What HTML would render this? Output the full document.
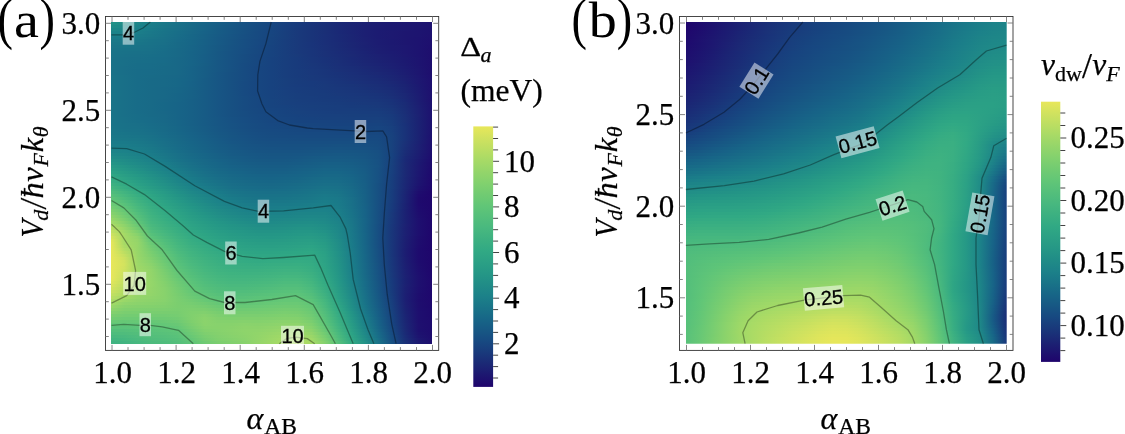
<!DOCTYPE html>
<html lang="en"><head><meta charset="utf-8"><title>Figure</title>
<style>html,body{margin:0;padding:0;background:#fff}body{width:1125px;height:434px;overflow:hidden}svg{display:block}text{stroke:#000;stroke-width:.25px}.cl text{stroke-width:.3px}.pl{stroke:none}</style></head><body>
<svg width="1125" height="434" viewBox="0 0 1125 434" font-family="'Liberation Serif','Times New Roman',serif" fill="#000">
<rect width="1125" height="434" fill="#fff"/>
<!-- panel a heat map -->
<g>
<defs><linearGradient id="a0"><stop offset="0" stop-color="#229287"/><stop offset="0.0417" stop-color="#208b87"/><stop offset="0.0833" stop-color="#1d8588"/><stop offset="0.125" stop-color="#1b7e89"/><stop offset="0.167" stop-color="#1a7788"/><stop offset="0.208" stop-color="#197188"/><stop offset="0.25" stop-color="#186a87"/><stop offset="0.292" stop-color="#176487"/><stop offset="0.333" stop-color="#175e86"/><stop offset="0.375" stop-color="#175884"/><stop offset="0.417" stop-color="#175183"/><stop offset="0.458" stop-color="#174c81"/><stop offset="0.5" stop-color="#174680"/><stop offset="0.542" stop-color="#18407e"/><stop offset="0.583" stop-color="#183a7c"/><stop offset="0.625" stop-color="#19347a"/><stop offset="0.667" stop-color="#1a2f78"/><stop offset="0.708" stop-color="#1a2976"/><stop offset="0.75" stop-color="#1b2474"/><stop offset="0.792" stop-color="#1c2073"/><stop offset="0.833" stop-color="#1c1c72"/><stop offset="0.875" stop-color="#1c1971"/><stop offset="0.917" stop-color="#1d1771"/><stop offset="0.958" stop-color="#1d1570"/><stop offset="1" stop-color="#1d126f"/></linearGradient><linearGradient id="a1"><stop offset="0" stop-color="#208d87"/><stop offset="0.0417" stop-color="#1e8888"/><stop offset="0.0833" stop-color="#1c8289"/><stop offset="0.125" stop-color="#1b7c89"/><stop offset="0.167" stop-color="#1a7688"/><stop offset="0.208" stop-color="#197088"/><stop offset="0.25" stop-color="#186a87"/><stop offset="0.292" stop-color="#176387"/><stop offset="0.333" stop-color="#175d85"/><stop offset="0.375" stop-color="#175784"/><stop offset="0.417" stop-color="#175183"/><stop offset="0.458" stop-color="#174b81"/><stop offset="0.5" stop-color="#174680"/><stop offset="0.542" stop-color="#183f7e"/><stop offset="0.583" stop-color="#183a7c"/><stop offset="0.625" stop-color="#193479"/><stop offset="0.667" stop-color="#1a2f77"/><stop offset="0.708" stop-color="#1a2976"/><stop offset="0.75" stop-color="#1b2474"/><stop offset="0.792" stop-color="#1c1f73"/><stop offset="0.833" stop-color="#1c1c72"/><stop offset="0.875" stop-color="#1c1971"/><stop offset="0.917" stop-color="#1d1771"/><stop offset="0.958" stop-color="#1d1570"/><stop offset="1" stop-color="#1d126f"/></linearGradient><linearGradient id="a2"><stop offset="0" stop-color="#1e8788"/><stop offset="0.0417" stop-color="#1d8588"/><stop offset="0.0833" stop-color="#1b8089"/><stop offset="0.125" stop-color="#1a7a89"/><stop offset="0.167" stop-color="#197488"/><stop offset="0.208" stop-color="#196f88"/><stop offset="0.25" stop-color="#186987"/><stop offset="0.292" stop-color="#176387"/><stop offset="0.333" stop-color="#175c85"/><stop offset="0.375" stop-color="#175684"/><stop offset="0.417" stop-color="#175082"/><stop offset="0.458" stop-color="#174b81"/><stop offset="0.5" stop-color="#174580"/><stop offset="0.542" stop-color="#183f7e"/><stop offset="0.583" stop-color="#19397b"/><stop offset="0.625" stop-color="#193479"/><stop offset="0.667" stop-color="#1a2f77"/><stop offset="0.708" stop-color="#1a2976"/><stop offset="0.75" stop-color="#1b2474"/><stop offset="0.792" stop-color="#1c1f73"/><stop offset="0.833" stop-color="#1c1b72"/><stop offset="0.875" stop-color="#1c1971"/><stop offset="0.917" stop-color="#1d1771"/><stop offset="0.958" stop-color="#1d1470"/><stop offset="1" stop-color="#1d116f"/></linearGradient><linearGradient id="a3"><stop offset="0" stop-color="#1c8389"/><stop offset="0.0417" stop-color="#1c8189"/><stop offset="0.0833" stop-color="#1b7e89"/><stop offset="0.125" stop-color="#1a7889"/><stop offset="0.167" stop-color="#197388"/><stop offset="0.208" stop-color="#186e88"/><stop offset="0.25" stop-color="#186887"/><stop offset="0.292" stop-color="#176287"/><stop offset="0.333" stop-color="#175c85"/><stop offset="0.375" stop-color="#175684"/><stop offset="0.417" stop-color="#175082"/><stop offset="0.458" stop-color="#174a81"/><stop offset="0.5" stop-color="#174580"/><stop offset="0.542" stop-color="#183f7d"/><stop offset="0.583" stop-color="#19397b"/><stop offset="0.625" stop-color="#193479"/><stop offset="0.667" stop-color="#1a2f77"/><stop offset="0.708" stop-color="#1a2976"/><stop offset="0.75" stop-color="#1b2474"/><stop offset="0.792" stop-color="#1c1f73"/><stop offset="0.833" stop-color="#1c1b72"/><stop offset="0.875" stop-color="#1d1971"/><stop offset="0.917" stop-color="#1d1670"/><stop offset="0.958" stop-color="#1d1470"/><stop offset="1" stop-color="#1d116f"/></linearGradient><linearGradient id="a4"><stop offset="0" stop-color="#1b7e89"/><stop offset="0.0417" stop-color="#1b7e89"/><stop offset="0.0833" stop-color="#1a7b89"/><stop offset="0.125" stop-color="#1a7788"/><stop offset="0.167" stop-color="#197288"/><stop offset="0.208" stop-color="#186d88"/><stop offset="0.25" stop-color="#176787"/><stop offset="0.292" stop-color="#176186"/><stop offset="0.333" stop-color="#175b85"/><stop offset="0.375" stop-color="#175584"/><stop offset="0.417" stop-color="#174f82"/><stop offset="0.458" stop-color="#174a81"/><stop offset="0.5" stop-color="#17457f"/><stop offset="0.542" stop-color="#183f7d"/><stop offset="0.583" stop-color="#19397b"/><stop offset="0.625" stop-color="#193479"/><stop offset="0.667" stop-color="#1a2f78"/><stop offset="0.708" stop-color="#1a2a76"/><stop offset="0.75" stop-color="#1b2574"/><stop offset="0.792" stop-color="#1c1f73"/><stop offset="0.833" stop-color="#1c1b72"/><stop offset="0.875" stop-color="#1d1971"/><stop offset="0.917" stop-color="#1d1670"/><stop offset="0.958" stop-color="#1d1470"/><stop offset="1" stop-color="#1e106f"/></linearGradient><linearGradient id="a5"><stop offset="0" stop-color="#1a7b89"/><stop offset="0.0417" stop-color="#1a7b89"/><stop offset="0.0833" stop-color="#1a7989"/><stop offset="0.125" stop-color="#1a7588"/><stop offset="0.167" stop-color="#197188"/><stop offset="0.208" stop-color="#186c88"/><stop offset="0.25" stop-color="#176787"/><stop offset="0.292" stop-color="#176186"/><stop offset="0.333" stop-color="#175a85"/><stop offset="0.375" stop-color="#175583"/><stop offset="0.417" stop-color="#174f82"/><stop offset="0.458" stop-color="#174a81"/><stop offset="0.5" stop-color="#17447f"/><stop offset="0.542" stop-color="#183f7d"/><stop offset="0.583" stop-color="#19397b"/><stop offset="0.625" stop-color="#193479"/><stop offset="0.667" stop-color="#1a2f78"/><stop offset="0.708" stop-color="#1a2a76"/><stop offset="0.75" stop-color="#1b2574"/><stop offset="0.792" stop-color="#1c2073"/><stop offset="0.833" stop-color="#1c1b72"/><stop offset="0.875" stop-color="#1d1971"/><stop offset="0.917" stop-color="#1d1670"/><stop offset="0.958" stop-color="#1d1370"/><stop offset="1" stop-color="#1e106f"/></linearGradient><linearGradient id="a6"><stop offset="0" stop-color="#1a7989"/><stop offset="0.0417" stop-color="#1a7888"/><stop offset="0.0833" stop-color="#1a7788"/><stop offset="0.125" stop-color="#197388"/><stop offset="0.167" stop-color="#197088"/><stop offset="0.208" stop-color="#186b88"/><stop offset="0.25" stop-color="#176687"/><stop offset="0.292" stop-color="#176086"/><stop offset="0.333" stop-color="#175a85"/><stop offset="0.375" stop-color="#175483"/><stop offset="0.417" stop-color="#174e82"/><stop offset="0.458" stop-color="#174981"/><stop offset="0.5" stop-color="#17447f"/><stop offset="0.542" stop-color="#183e7d"/><stop offset="0.583" stop-color="#19397b"/><stop offset="0.625" stop-color="#193479"/><stop offset="0.667" stop-color="#1a2f78"/><stop offset="0.708" stop-color="#1a2a76"/><stop offset="0.75" stop-color="#1b2574"/><stop offset="0.792" stop-color="#1c2073"/><stop offset="0.833" stop-color="#1c1c72"/><stop offset="0.875" stop-color="#1c1971"/><stop offset="0.917" stop-color="#1d1670"/><stop offset="0.958" stop-color="#1d1370"/><stop offset="1" stop-color="#1e0f6f"/></linearGradient><linearGradient id="a7"><stop offset="0" stop-color="#1a7788"/><stop offset="0.0417" stop-color="#1a7688"/><stop offset="0.0833" stop-color="#197588"/><stop offset="0.125" stop-color="#197288"/><stop offset="0.167" stop-color="#196f88"/><stop offset="0.208" stop-color="#186a87"/><stop offset="0.25" stop-color="#176687"/><stop offset="0.292" stop-color="#176086"/><stop offset="0.333" stop-color="#175a85"/><stop offset="0.375" stop-color="#175483"/><stop offset="0.417" stop-color="#174e82"/><stop offset="0.458" stop-color="#174981"/><stop offset="0.5" stop-color="#17447f"/><stop offset="0.542" stop-color="#183e7d"/><stop offset="0.583" stop-color="#19397b"/><stop offset="0.625" stop-color="#19347a"/><stop offset="0.667" stop-color="#1a2f78"/><stop offset="0.708" stop-color="#1a2b76"/><stop offset="0.75" stop-color="#1b2674"/><stop offset="0.792" stop-color="#1c2173"/><stop offset="0.833" stop-color="#1c1c72"/><stop offset="0.875" stop-color="#1c1971"/><stop offset="0.917" stop-color="#1d1670"/><stop offset="0.958" stop-color="#1d1370"/><stop offset="1" stop-color="#1e0f6f"/></linearGradient><linearGradient id="a8"><stop offset="0" stop-color="#1a7588"/><stop offset="0.0417" stop-color="#197488"/><stop offset="0.0833" stop-color="#197388"/><stop offset="0.125" stop-color="#197188"/><stop offset="0.167" stop-color="#186e88"/><stop offset="0.208" stop-color="#186a87"/><stop offset="0.25" stop-color="#176587"/><stop offset="0.292" stop-color="#175f86"/><stop offset="0.333" stop-color="#175984"/><stop offset="0.375" stop-color="#175383"/><stop offset="0.417" stop-color="#174e82"/><stop offset="0.458" stop-color="#174881"/><stop offset="0.5" stop-color="#17437f"/><stop offset="0.542" stop-color="#183e7d"/><stop offset="0.583" stop-color="#19397b"/><stop offset="0.625" stop-color="#19347a"/><stop offset="0.667" stop-color="#1a3078"/><stop offset="0.708" stop-color="#1a2b76"/><stop offset="0.75" stop-color="#1b2674"/><stop offset="0.792" stop-color="#1b2173"/><stop offset="0.833" stop-color="#1c1d72"/><stop offset="0.875" stop-color="#1c1a71"/><stop offset="0.917" stop-color="#1d1771"/><stop offset="0.958" stop-color="#1d1370"/><stop offset="1" stop-color="#1e0e6f"/></linearGradient><linearGradient id="a9"><stop offset="0" stop-color="#197488"/><stop offset="0.0417" stop-color="#197288"/><stop offset="0.0833" stop-color="#197288"/><stop offset="0.125" stop-color="#197088"/><stop offset="0.167" stop-color="#186d88"/><stop offset="0.208" stop-color="#186987"/><stop offset="0.25" stop-color="#176587"/><stop offset="0.292" stop-color="#175f86"/><stop offset="0.333" stop-color="#175984"/><stop offset="0.375" stop-color="#175383"/><stop offset="0.417" stop-color="#174d82"/><stop offset="0.458" stop-color="#174880"/><stop offset="0.5" stop-color="#17437f"/><stop offset="0.542" stop-color="#183e7d"/><stop offset="0.583" stop-color="#19397b"/><stop offset="0.625" stop-color="#19357a"/><stop offset="0.667" stop-color="#1a3078"/><stop offset="0.708" stop-color="#1a2c76"/><stop offset="0.75" stop-color="#1b2775"/><stop offset="0.792" stop-color="#1b2273"/><stop offset="0.833" stop-color="#1c1e72"/><stop offset="0.875" stop-color="#1c1a71"/><stop offset="0.917" stop-color="#1d1771"/><stop offset="0.958" stop-color="#1d1370"/><stop offset="1" stop-color="#1e0e6e"/></linearGradient><linearGradient id="a10"><stop offset="0" stop-color="#197388"/><stop offset="0.0417" stop-color="#197188"/><stop offset="0.0833" stop-color="#197088"/><stop offset="0.125" stop-color="#196f88"/><stop offset="0.167" stop-color="#186c88"/><stop offset="0.208" stop-color="#186987"/><stop offset="0.25" stop-color="#176487"/><stop offset="0.292" stop-color="#175f86"/><stop offset="0.333" stop-color="#175884"/><stop offset="0.375" stop-color="#175283"/><stop offset="0.417" stop-color="#174d82"/><stop offset="0.458" stop-color="#174880"/><stop offset="0.5" stop-color="#17437f"/><stop offset="0.542" stop-color="#183e7d"/><stop offset="0.583" stop-color="#19397b"/><stop offset="0.625" stop-color="#19357a"/><stop offset="0.667" stop-color="#1a3178"/><stop offset="0.708" stop-color="#1a2c77"/><stop offset="0.75" stop-color="#1b2875"/><stop offset="0.792" stop-color="#1b2374"/><stop offset="0.833" stop-color="#1c1e72"/><stop offset="0.875" stop-color="#1c1b72"/><stop offset="0.917" stop-color="#1d1771"/><stop offset="0.958" stop-color="#1d1370"/><stop offset="1" stop-color="#1e0e6e"/></linearGradient><linearGradient id="a11"><stop offset="0" stop-color="#197388"/><stop offset="0.0417" stop-color="#197088"/><stop offset="0.0833" stop-color="#196f88"/><stop offset="0.125" stop-color="#186e88"/><stop offset="0.167" stop-color="#186c88"/><stop offset="0.208" stop-color="#186987"/><stop offset="0.25" stop-color="#176487"/><stop offset="0.292" stop-color="#175e86"/><stop offset="0.333" stop-color="#175884"/><stop offset="0.375" stop-color="#175283"/><stop offset="0.417" stop-color="#174c81"/><stop offset="0.458" stop-color="#174780"/><stop offset="0.5" stop-color="#17437f"/><stop offset="0.542" stop-color="#183e7d"/><stop offset="0.583" stop-color="#193a7b"/><stop offset="0.625" stop-color="#19357a"/><stop offset="0.667" stop-color="#1a3178"/><stop offset="0.708" stop-color="#1a2d77"/><stop offset="0.75" stop-color="#1b2975"/><stop offset="0.792" stop-color="#1b2474"/><stop offset="0.833" stop-color="#1c2073"/><stop offset="0.875" stop-color="#1c1c72"/><stop offset="0.917" stop-color="#1d1871"/><stop offset="0.958" stop-color="#1d1370"/><stop offset="1" stop-color="#1e0e6e"/></linearGradient><linearGradient id="a12"><stop offset="0" stop-color="#197288"/><stop offset="0.0417" stop-color="#196f88"/><stop offset="0.0833" stop-color="#196e88"/><stop offset="0.125" stop-color="#186d88"/><stop offset="0.167" stop-color="#186b88"/><stop offset="0.208" stop-color="#186887"/><stop offset="0.25" stop-color="#176487"/><stop offset="0.292" stop-color="#175e86"/><stop offset="0.333" stop-color="#175884"/><stop offset="0.375" stop-color="#175283"/><stop offset="0.417" stop-color="#174c81"/><stop offset="0.458" stop-color="#174780"/><stop offset="0.5" stop-color="#17427f"/><stop offset="0.542" stop-color="#183e7d"/><stop offset="0.583" stop-color="#183a7c"/><stop offset="0.625" stop-color="#19367a"/><stop offset="0.667" stop-color="#193279"/><stop offset="0.708" stop-color="#1a2e77"/><stop offset="0.75" stop-color="#1a2976"/><stop offset="0.792" stop-color="#1b2574"/><stop offset="0.833" stop-color="#1c2173"/><stop offset="0.875" stop-color="#1c1d72"/><stop offset="0.917" stop-color="#1c1971"/><stop offset="0.958" stop-color="#1d1470"/><stop offset="1" stop-color="#1e0e6e"/></linearGradient><linearGradient id="a13"><stop offset="0" stop-color="#197288"/><stop offset="0.0417" stop-color="#196f88"/><stop offset="0.0833" stop-color="#186e88"/><stop offset="0.125" stop-color="#186d88"/><stop offset="0.167" stop-color="#186b88"/><stop offset="0.208" stop-color="#186887"/><stop offset="0.25" stop-color="#176487"/><stop offset="0.292" stop-color="#175e86"/><stop offset="0.333" stop-color="#175784"/><stop offset="0.375" stop-color="#175183"/><stop offset="0.417" stop-color="#174c81"/><stop offset="0.458" stop-color="#174780"/><stop offset="0.5" stop-color="#17427f"/><stop offset="0.542" stop-color="#183e7d"/><stop offset="0.583" stop-color="#183a7c"/><stop offset="0.625" stop-color="#19367a"/><stop offset="0.667" stop-color="#193279"/><stop offset="0.708" stop-color="#1a2f77"/><stop offset="0.75" stop-color="#1a2a76"/><stop offset="0.792" stop-color="#1b2674"/><stop offset="0.833" stop-color="#1b2273"/><stop offset="0.875" stop-color="#1c1e72"/><stop offset="0.917" stop-color="#1c1971"/><stop offset="0.958" stop-color="#1d1470"/><stop offset="1" stop-color="#1e0e6e"/></linearGradient><linearGradient id="a14"><stop offset="0" stop-color="#197288"/><stop offset="0.0417" stop-color="#196f88"/><stop offset="0.0833" stop-color="#186d88"/><stop offset="0.125" stop-color="#186c88"/><stop offset="0.167" stop-color="#186b87"/><stop offset="0.208" stop-color="#186887"/><stop offset="0.25" stop-color="#176487"/><stop offset="0.292" stop-color="#175e85"/><stop offset="0.333" stop-color="#175784"/><stop offset="0.375" stop-color="#175183"/><stop offset="0.417" stop-color="#174b81"/><stop offset="0.458" stop-color="#174780"/><stop offset="0.5" stop-color="#17427f"/><stop offset="0.542" stop-color="#183e7d"/><stop offset="0.583" stop-color="#183a7c"/><stop offset="0.625" stop-color="#19377a"/><stop offset="0.667" stop-color="#193379"/><stop offset="0.708" stop-color="#1a2f78"/><stop offset="0.75" stop-color="#1a2b76"/><stop offset="0.792" stop-color="#1b2775"/><stop offset="0.833" stop-color="#1b2374"/><stop offset="0.875" stop-color="#1c1f73"/><stop offset="0.917" stop-color="#1c1a71"/><stop offset="0.958" stop-color="#1d1470"/><stop offset="1" stop-color="#1e0e6e"/></linearGradient><linearGradient id="a15"><stop offset="0" stop-color="#197288"/><stop offset="0.0417" stop-color="#196e88"/><stop offset="0.0833" stop-color="#186d88"/><stop offset="0.125" stop-color="#186c88"/><stop offset="0.167" stop-color="#186a87"/><stop offset="0.208" stop-color="#186887"/><stop offset="0.25" stop-color="#176387"/><stop offset="0.292" stop-color="#175d85"/><stop offset="0.333" stop-color="#175784"/><stop offset="0.375" stop-color="#175183"/><stop offset="0.417" stop-color="#174b81"/><stop offset="0.458" stop-color="#174680"/><stop offset="0.5" stop-color="#17427f"/><stop offset="0.542" stop-color="#183e7d"/><stop offset="0.583" stop-color="#183a7c"/><stop offset="0.625" stop-color="#19377b"/><stop offset="0.667" stop-color="#193479"/><stop offset="0.708" stop-color="#1a3078"/><stop offset="0.75" stop-color="#1a2d77"/><stop offset="0.792" stop-color="#1b2975"/><stop offset="0.833" stop-color="#1b2574"/><stop offset="0.875" stop-color="#1c2073"/><stop offset="0.917" stop-color="#1c1b72"/><stop offset="0.958" stop-color="#1d1570"/><stop offset="1" stop-color="#1e0e6e"/></linearGradient><linearGradient id="a16"><stop offset="0" stop-color="#197288"/><stop offset="0.0417" stop-color="#196e88"/><stop offset="0.0833" stop-color="#186c88"/><stop offset="0.125" stop-color="#186b88"/><stop offset="0.167" stop-color="#186a87"/><stop offset="0.208" stop-color="#186887"/><stop offset="0.25" stop-color="#176387"/><stop offset="0.292" stop-color="#175d85"/><stop offset="0.333" stop-color="#175784"/><stop offset="0.375" stop-color="#175182"/><stop offset="0.417" stop-color="#174b81"/><stop offset="0.458" stop-color="#174680"/><stop offset="0.5" stop-color="#17427f"/><stop offset="0.542" stop-color="#183e7d"/><stop offset="0.583" stop-color="#183b7c"/><stop offset="0.625" stop-color="#19387b"/><stop offset="0.667" stop-color="#19357a"/><stop offset="0.708" stop-color="#1a3178"/><stop offset="0.75" stop-color="#1a2e77"/><stop offset="0.792" stop-color="#1a2a76"/><stop offset="0.833" stop-color="#1b2674"/><stop offset="0.875" stop-color="#1b2273"/><stop offset="0.917" stop-color="#1c1c72"/><stop offset="0.958" stop-color="#1d1670"/><stop offset="1" stop-color="#1e0e6e"/></linearGradient><linearGradient id="a17"><stop offset="0" stop-color="#197288"/><stop offset="0.0417" stop-color="#196e88"/><stop offset="0.0833" stop-color="#186c88"/><stop offset="0.125" stop-color="#186b88"/><stop offset="0.167" stop-color="#186a87"/><stop offset="0.208" stop-color="#186887"/><stop offset="0.25" stop-color="#176387"/><stop offset="0.292" stop-color="#175d85"/><stop offset="0.333" stop-color="#175684"/><stop offset="0.375" stop-color="#175082"/><stop offset="0.417" stop-color="#174b81"/><stop offset="0.458" stop-color="#174680"/><stop offset="0.5" stop-color="#17427f"/><stop offset="0.542" stop-color="#183e7d"/><stop offset="0.583" stop-color="#183b7c"/><stop offset="0.625" stop-color="#19387b"/><stop offset="0.667" stop-color="#19357a"/><stop offset="0.708" stop-color="#193279"/><stop offset="0.75" stop-color="#1a2f78"/><stop offset="0.792" stop-color="#1a2b76"/><stop offset="0.833" stop-color="#1b2875"/><stop offset="0.875" stop-color="#1b2374"/><stop offset="0.917" stop-color="#1c1d72"/><stop offset="0.958" stop-color="#1d1670"/><stop offset="1" stop-color="#1e0e6e"/></linearGradient><linearGradient id="a18"><stop offset="0" stop-color="#197388"/><stop offset="0.0417" stop-color="#196f88"/><stop offset="0.0833" stop-color="#186c88"/><stop offset="0.125" stop-color="#186b87"/><stop offset="0.167" stop-color="#186987"/><stop offset="0.208" stop-color="#186787"/><stop offset="0.25" stop-color="#176387"/><stop offset="0.292" stop-color="#175d85"/><stop offset="0.333" stop-color="#175684"/><stop offset="0.375" stop-color="#175082"/><stop offset="0.417" stop-color="#174b81"/><stop offset="0.458" stop-color="#174680"/><stop offset="0.5" stop-color="#17427f"/><stop offset="0.542" stop-color="#183e7d"/><stop offset="0.583" stop-color="#183b7c"/><stop offset="0.625" stop-color="#19397b"/><stop offset="0.667" stop-color="#19367a"/><stop offset="0.708" stop-color="#193379"/><stop offset="0.75" stop-color="#1a3078"/><stop offset="0.792" stop-color="#1a2d77"/><stop offset="0.833" stop-color="#1a2976"/><stop offset="0.875" stop-color="#1b2574"/><stop offset="0.917" stop-color="#1c1f72"/><stop offset="0.958" stop-color="#1d1771"/><stop offset="1" stop-color="#1e0e6f"/></linearGradient><linearGradient id="a19"><stop offset="0" stop-color="#197388"/><stop offset="0.0417" stop-color="#196f88"/><stop offset="0.0833" stop-color="#186c88"/><stop offset="0.125" stop-color="#186a87"/><stop offset="0.167" stop-color="#186987"/><stop offset="0.208" stop-color="#176787"/><stop offset="0.25" stop-color="#176387"/><stop offset="0.292" stop-color="#175c85"/><stop offset="0.333" stop-color="#175684"/><stop offset="0.375" stop-color="#175082"/><stop offset="0.417" stop-color="#174b81"/><stop offset="0.458" stop-color="#174680"/><stop offset="0.5" stop-color="#17427f"/><stop offset="0.542" stop-color="#183f7d"/><stop offset="0.583" stop-color="#183c7c"/><stop offset="0.625" stop-color="#19397b"/><stop offset="0.667" stop-color="#19377b"/><stop offset="0.708" stop-color="#19347a"/><stop offset="0.75" stop-color="#1a3178"/><stop offset="0.792" stop-color="#1a2e77"/><stop offset="0.833" stop-color="#1a2b76"/><stop offset="0.875" stop-color="#1b2674"/><stop offset="0.917" stop-color="#1c2073"/><stop offset="0.958" stop-color="#1d1871"/><stop offset="1" stop-color="#1e0f6f"/></linearGradient><linearGradient id="a20"><stop offset="0" stop-color="#197388"/><stop offset="0.0417" stop-color="#196f88"/><stop offset="0.0833" stop-color="#186c88"/><stop offset="0.125" stop-color="#186a87"/><stop offset="0.167" stop-color="#186987"/><stop offset="0.208" stop-color="#176787"/><stop offset="0.25" stop-color="#176287"/><stop offset="0.292" stop-color="#175c85"/><stop offset="0.333" stop-color="#175684"/><stop offset="0.375" stop-color="#175082"/><stop offset="0.417" stop-color="#174a81"/><stop offset="0.458" stop-color="#174680"/><stop offset="0.5" stop-color="#17427f"/><stop offset="0.542" stop-color="#183f7d"/><stop offset="0.583" stop-color="#183c7c"/><stop offset="0.625" stop-color="#183a7c"/><stop offset="0.667" stop-color="#19387b"/><stop offset="0.708" stop-color="#19357a"/><stop offset="0.75" stop-color="#193279"/><stop offset="0.792" stop-color="#1a2f78"/><stop offset="0.833" stop-color="#1a2c77"/><stop offset="0.875" stop-color="#1b2875"/><stop offset="0.917" stop-color="#1b2173"/><stop offset="0.958" stop-color="#1d1871"/><stop offset="1" stop-color="#1e0f6f"/></linearGradient><linearGradient id="a21"><stop offset="0" stop-color="#197488"/><stop offset="0.0417" stop-color="#196f88"/><stop offset="0.0833" stop-color="#186c88"/><stop offset="0.125" stop-color="#186a87"/><stop offset="0.167" stop-color="#186987"/><stop offset="0.208" stop-color="#176787"/><stop offset="0.25" stop-color="#176287"/><stop offset="0.292" stop-color="#175c85"/><stop offset="0.333" stop-color="#175684"/><stop offset="0.375" stop-color="#175082"/><stop offset="0.417" stop-color="#174a81"/><stop offset="0.458" stop-color="#174680"/><stop offset="0.5" stop-color="#17427f"/><stop offset="0.542" stop-color="#183f7d"/><stop offset="0.583" stop-color="#183c7d"/><stop offset="0.625" stop-color="#183a7c"/><stop offset="0.667" stop-color="#19397b"/><stop offset="0.708" stop-color="#19367a"/><stop offset="0.75" stop-color="#193479"/><stop offset="0.792" stop-color="#1a3178"/><stop offset="0.833" stop-color="#1a2e77"/><stop offset="0.875" stop-color="#1a2976"/><stop offset="0.917" stop-color="#1b2373"/><stop offset="0.958" stop-color="#1c1971"/><stop offset="1" stop-color="#1e0f6f"/></linearGradient><linearGradient id="a22"><stop offset="0" stop-color="#197488"/><stop offset="0.0417" stop-color="#196f88"/><stop offset="0.0833" stop-color="#186c88"/><stop offset="0.125" stop-color="#186a87"/><stop offset="0.167" stop-color="#186887"/><stop offset="0.208" stop-color="#176687"/><stop offset="0.25" stop-color="#176286"/><stop offset="0.292" stop-color="#175c85"/><stop offset="0.333" stop-color="#175684"/><stop offset="0.375" stop-color="#175082"/><stop offset="0.417" stop-color="#174a81"/><stop offset="0.458" stop-color="#174680"/><stop offset="0.5" stop-color="#17427f"/><stop offset="0.542" stop-color="#183f7e"/><stop offset="0.583" stop-color="#183d7d"/><stop offset="0.625" stop-color="#183b7c"/><stop offset="0.667" stop-color="#19397b"/><stop offset="0.708" stop-color="#19377b"/><stop offset="0.75" stop-color="#19357a"/><stop offset="0.792" stop-color="#193279"/><stop offset="0.833" stop-color="#1a2f78"/><stop offset="0.875" stop-color="#1a2b76"/><stop offset="0.917" stop-color="#1b2474"/><stop offset="0.958" stop-color="#1c1a71"/><stop offset="1" stop-color="#1e0f6f"/></linearGradient><linearGradient id="a23"><stop offset="0" stop-color="#197488"/><stop offset="0.0417" stop-color="#196f88"/><stop offset="0.0833" stop-color="#186c88"/><stop offset="0.125" stop-color="#186a87"/><stop offset="0.167" stop-color="#186887"/><stop offset="0.208" stop-color="#176687"/><stop offset="0.25" stop-color="#176186"/><stop offset="0.292" stop-color="#175b85"/><stop offset="0.333" stop-color="#175584"/><stop offset="0.375" stop-color="#175082"/><stop offset="0.417" stop-color="#174a81"/><stop offset="0.458" stop-color="#174680"/><stop offset="0.5" stop-color="#17437f"/><stop offset="0.542" stop-color="#18407e"/><stop offset="0.583" stop-color="#183d7d"/><stop offset="0.625" stop-color="#183c7c"/><stop offset="0.667" stop-color="#183a7c"/><stop offset="0.708" stop-color="#19387b"/><stop offset="0.75" stop-color="#19367a"/><stop offset="0.792" stop-color="#193479"/><stop offset="0.833" stop-color="#1a3178"/><stop offset="0.875" stop-color="#1a2d77"/><stop offset="0.917" stop-color="#1b2574"/><stop offset="0.958" stop-color="#1c1b72"/><stop offset="1" stop-color="#1e106f"/></linearGradient><linearGradient id="a24"><stop offset="0" stop-color="#197588"/><stop offset="0.0417" stop-color="#196f88"/><stop offset="0.0833" stop-color="#186c88"/><stop offset="0.125" stop-color="#186a87"/><stop offset="0.167" stop-color="#186887"/><stop offset="0.208" stop-color="#176587"/><stop offset="0.25" stop-color="#176186"/><stop offset="0.292" stop-color="#175b85"/><stop offset="0.333" stop-color="#175584"/><stop offset="0.375" stop-color="#175082"/><stop offset="0.417" stop-color="#174a81"/><stop offset="0.458" stop-color="#174680"/><stop offset="0.5" stop-color="#17437f"/><stop offset="0.542" stop-color="#18407e"/><stop offset="0.583" stop-color="#183e7d"/><stop offset="0.625" stop-color="#183c7c"/><stop offset="0.667" stop-color="#183b7c"/><stop offset="0.708" stop-color="#19397b"/><stop offset="0.75" stop-color="#19377b"/><stop offset="0.792" stop-color="#19357a"/><stop offset="0.833" stop-color="#193379"/><stop offset="0.875" stop-color="#1a2e77"/><stop offset="0.917" stop-color="#1b2775"/><stop offset="0.958" stop-color="#1c1c72"/><stop offset="1" stop-color="#1e106f"/></linearGradient><linearGradient id="a25"><stop offset="0" stop-color="#197488"/><stop offset="0.0417" stop-color="#196f88"/><stop offset="0.0833" stop-color="#186c88"/><stop offset="0.125" stop-color="#186a87"/><stop offset="0.167" stop-color="#186887"/><stop offset="0.208" stop-color="#176587"/><stop offset="0.25" stop-color="#176186"/><stop offset="0.292" stop-color="#175b85"/><stop offset="0.333" stop-color="#175584"/><stop offset="0.375" stop-color="#175082"/><stop offset="0.417" stop-color="#174b81"/><stop offset="0.458" stop-color="#174780"/><stop offset="0.5" stop-color="#17437f"/><stop offset="0.542" stop-color="#18417e"/><stop offset="0.583" stop-color="#183e7d"/><stop offset="0.625" stop-color="#183d7d"/><stop offset="0.667" stop-color="#183b7c"/><stop offset="0.708" stop-color="#183a7c"/><stop offset="0.75" stop-color="#19387b"/><stop offset="0.792" stop-color="#19377a"/><stop offset="0.833" stop-color="#19347a"/><stop offset="0.875" stop-color="#1a3078"/><stop offset="0.917" stop-color="#1b2875"/><stop offset="0.958" stop-color="#1c1d72"/><stop offset="1" stop-color="#1e106f"/></linearGradient><linearGradient id="a26"><stop offset="0" stop-color="#197488"/><stop offset="0.0417" stop-color="#196f88"/><stop offset="0.0833" stop-color="#186c88"/><stop offset="0.125" stop-color="#186a87"/><stop offset="0.167" stop-color="#186787"/><stop offset="0.208" stop-color="#176587"/><stop offset="0.25" stop-color="#176086"/><stop offset="0.292" stop-color="#175b85"/><stop offset="0.333" stop-color="#175584"/><stop offset="0.375" stop-color="#175082"/><stop offset="0.417" stop-color="#174b81"/><stop offset="0.458" stop-color="#174780"/><stop offset="0.5" stop-color="#17447f"/><stop offset="0.542" stop-color="#18417e"/><stop offset="0.583" stop-color="#183f7d"/><stop offset="0.625" stop-color="#183d7d"/><stop offset="0.667" stop-color="#183c7c"/><stop offset="0.708" stop-color="#183b7c"/><stop offset="0.75" stop-color="#19397b"/><stop offset="0.792" stop-color="#19387b"/><stop offset="0.833" stop-color="#19367a"/><stop offset="0.875" stop-color="#193279"/><stop offset="0.917" stop-color="#1a2976"/><stop offset="0.958" stop-color="#1c1d72"/><stop offset="1" stop-color="#1e106f"/></linearGradient><linearGradient id="a27"><stop offset="0" stop-color="#197488"/><stop offset="0.0417" stop-color="#196f88"/><stop offset="0.0833" stop-color="#186c88"/><stop offset="0.125" stop-color="#186a87"/><stop offset="0.167" stop-color="#176787"/><stop offset="0.208" stop-color="#176487"/><stop offset="0.25" stop-color="#176086"/><stop offset="0.292" stop-color="#175b85"/><stop offset="0.333" stop-color="#175584"/><stop offset="0.375" stop-color="#175082"/><stop offset="0.417" stop-color="#174b81"/><stop offset="0.458" stop-color="#174780"/><stop offset="0.5" stop-color="#17447f"/><stop offset="0.542" stop-color="#18417e"/><stop offset="0.583" stop-color="#183f7e"/><stop offset="0.625" stop-color="#183e7d"/><stop offset="0.667" stop-color="#183d7d"/><stop offset="0.708" stop-color="#183c7c"/><stop offset="0.75" stop-color="#183a7c"/><stop offset="0.792" stop-color="#19397b"/><stop offset="0.833" stop-color="#19387b"/><stop offset="0.875" stop-color="#193379"/><stop offset="0.917" stop-color="#1a2b76"/><stop offset="0.958" stop-color="#1c1e72"/><stop offset="1" stop-color="#1d116f"/></linearGradient><linearGradient id="a28"><stop offset="0" stop-color="#197488"/><stop offset="0.0417" stop-color="#196f88"/><stop offset="0.0833" stop-color="#186c88"/><stop offset="0.125" stop-color="#186a87"/><stop offset="0.167" stop-color="#176787"/><stop offset="0.208" stop-color="#176487"/><stop offset="0.25" stop-color="#176086"/><stop offset="0.292" stop-color="#175b85"/><stop offset="0.333" stop-color="#175584"/><stop offset="0.375" stop-color="#175082"/><stop offset="0.417" stop-color="#174b81"/><stop offset="0.458" stop-color="#174780"/><stop offset="0.5" stop-color="#17447f"/><stop offset="0.542" stop-color="#17427f"/><stop offset="0.583" stop-color="#18407e"/><stop offset="0.625" stop-color="#183f7d"/><stop offset="0.667" stop-color="#183e7d"/><stop offset="0.708" stop-color="#183d7d"/><stop offset="0.75" stop-color="#183b7c"/><stop offset="0.792" stop-color="#183b7c"/><stop offset="0.833" stop-color="#19397b"/><stop offset="0.875" stop-color="#19357a"/><stop offset="0.917" stop-color="#1a2c76"/><stop offset="0.958" stop-color="#1c1f73"/><stop offset="1" stop-color="#1d116f"/></linearGradient><linearGradient id="a29"><stop offset="0" stop-color="#197488"/><stop offset="0.0417" stop-color="#196f88"/><stop offset="0.0833" stop-color="#186c88"/><stop offset="0.125" stop-color="#186a87"/><stop offset="0.167" stop-color="#176787"/><stop offset="0.208" stop-color="#176487"/><stop offset="0.25" stop-color="#176086"/><stop offset="0.292" stop-color="#175b85"/><stop offset="0.333" stop-color="#175584"/><stop offset="0.375" stop-color="#175082"/><stop offset="0.417" stop-color="#174b81"/><stop offset="0.458" stop-color="#174880"/><stop offset="0.5" stop-color="#174580"/><stop offset="0.542" stop-color="#17437f"/><stop offset="0.583" stop-color="#18417e"/><stop offset="0.625" stop-color="#183f7e"/><stop offset="0.667" stop-color="#183e7d"/><stop offset="0.708" stop-color="#183d7d"/><stop offset="0.75" stop-color="#183d7d"/><stop offset="0.792" stop-color="#183c7c"/><stop offset="0.833" stop-color="#183b7c"/><stop offset="0.875" stop-color="#19377a"/><stop offset="0.917" stop-color="#1a2d77"/><stop offset="0.958" stop-color="#1c2073"/><stop offset="1" stop-color="#1d116f"/></linearGradient><linearGradient id="a30"><stop offset="0" stop-color="#197488"/><stop offset="0.0417" stop-color="#196f88"/><stop offset="0.0833" stop-color="#186c88"/><stop offset="0.125" stop-color="#186a87"/><stop offset="0.167" stop-color="#186787"/><stop offset="0.208" stop-color="#176487"/><stop offset="0.25" stop-color="#176086"/><stop offset="0.292" stop-color="#175b85"/><stop offset="0.333" stop-color="#175584"/><stop offset="0.375" stop-color="#175082"/><stop offset="0.417" stop-color="#174c81"/><stop offset="0.458" stop-color="#174880"/><stop offset="0.5" stop-color="#174680"/><stop offset="0.542" stop-color="#17437f"/><stop offset="0.583" stop-color="#18427e"/><stop offset="0.625" stop-color="#18407e"/><stop offset="0.667" stop-color="#183f7e"/><stop offset="0.708" stop-color="#183e7d"/><stop offset="0.75" stop-color="#183e7d"/><stop offset="0.792" stop-color="#183d7d"/><stop offset="0.833" stop-color="#183d7d"/><stop offset="0.875" stop-color="#19387b"/><stop offset="0.917" stop-color="#1a2e77"/><stop offset="0.958" stop-color="#1c2073"/><stop offset="1" stop-color="#1d116f"/></linearGradient><linearGradient id="a31"><stop offset="0" stop-color="#197488"/><stop offset="0.0417" stop-color="#196f88"/><stop offset="0.0833" stop-color="#186d88"/><stop offset="0.125" stop-color="#186a87"/><stop offset="0.167" stop-color="#186887"/><stop offset="0.208" stop-color="#176487"/><stop offset="0.25" stop-color="#176086"/><stop offset="0.292" stop-color="#175b85"/><stop offset="0.333" stop-color="#175584"/><stop offset="0.375" stop-color="#175082"/><stop offset="0.417" stop-color="#174c81"/><stop offset="0.458" stop-color="#174981"/><stop offset="0.5" stop-color="#174680"/><stop offset="0.542" stop-color="#17447f"/><stop offset="0.583" stop-color="#17427f"/><stop offset="0.625" stop-color="#18417e"/><stop offset="0.667" stop-color="#18407e"/><stop offset="0.708" stop-color="#18407e"/><stop offset="0.75" stop-color="#183f7d"/><stop offset="0.792" stop-color="#183f7d"/><stop offset="0.833" stop-color="#183e7d"/><stop offset="0.875" stop-color="#183a7c"/><stop offset="0.917" stop-color="#1a2f78"/><stop offset="0.958" stop-color="#1c2173"/><stop offset="1" stop-color="#1d116f"/></linearGradient><linearGradient id="a32"><stop offset="0" stop-color="#197488"/><stop offset="0.0417" stop-color="#197088"/><stop offset="0.0833" stop-color="#186d88"/><stop offset="0.125" stop-color="#186b88"/><stop offset="0.167" stop-color="#186887"/><stop offset="0.208" stop-color="#176487"/><stop offset="0.25" stop-color="#176086"/><stop offset="0.292" stop-color="#175b85"/><stop offset="0.333" stop-color="#175684"/><stop offset="0.375" stop-color="#175183"/><stop offset="0.417" stop-color="#174d82"/><stop offset="0.458" stop-color="#174981"/><stop offset="0.5" stop-color="#174780"/><stop offset="0.542" stop-color="#174580"/><stop offset="0.583" stop-color="#17437f"/><stop offset="0.625" stop-color="#17427f"/><stop offset="0.667" stop-color="#18417e"/><stop offset="0.708" stop-color="#18417e"/><stop offset="0.75" stop-color="#18407e"/><stop offset="0.792" stop-color="#18407e"/><stop offset="0.833" stop-color="#18407e"/><stop offset="0.875" stop-color="#183b7c"/><stop offset="0.917" stop-color="#1a3078"/><stop offset="0.958" stop-color="#1b2173"/><stop offset="1" stop-color="#1d116f"/></linearGradient><linearGradient id="a33"><stop offset="0" stop-color="#197488"/><stop offset="0.0417" stop-color="#197088"/><stop offset="0.0833" stop-color="#186e88"/><stop offset="0.125" stop-color="#186b88"/><stop offset="0.167" stop-color="#186887"/><stop offset="0.208" stop-color="#176587"/><stop offset="0.25" stop-color="#176086"/><stop offset="0.292" stop-color="#175b85"/><stop offset="0.333" stop-color="#175684"/><stop offset="0.375" stop-color="#175183"/><stop offset="0.417" stop-color="#174d82"/><stop offset="0.458" stop-color="#174a81"/><stop offset="0.5" stop-color="#174780"/><stop offset="0.542" stop-color="#174680"/><stop offset="0.583" stop-color="#17447f"/><stop offset="0.625" stop-color="#17437f"/><stop offset="0.667" stop-color="#17437f"/><stop offset="0.708" stop-color="#17427f"/><stop offset="0.75" stop-color="#18427e"/><stop offset="0.792" stop-color="#18417e"/><stop offset="0.833" stop-color="#18427e"/><stop offset="0.875" stop-color="#183d7d"/><stop offset="0.917" stop-color="#1a3178"/><stop offset="0.958" stop-color="#1b2273"/><stop offset="1" stop-color="#1d116f"/></linearGradient><linearGradient id="a34"><stop offset="0" stop-color="#197488"/><stop offset="0.0417" stop-color="#197188"/><stop offset="0.0833" stop-color="#196f88"/><stop offset="0.125" stop-color="#186c88"/><stop offset="0.167" stop-color="#186987"/><stop offset="0.208" stop-color="#176587"/><stop offset="0.25" stop-color="#176086"/><stop offset="0.292" stop-color="#175b85"/><stop offset="0.333" stop-color="#175684"/><stop offset="0.375" stop-color="#175283"/><stop offset="0.417" stop-color="#174e82"/><stop offset="0.458" stop-color="#174b81"/><stop offset="0.5" stop-color="#174881"/><stop offset="0.542" stop-color="#174780"/><stop offset="0.583" stop-color="#174680"/><stop offset="0.625" stop-color="#17457f"/><stop offset="0.667" stop-color="#17447f"/><stop offset="0.708" stop-color="#17437f"/><stop offset="0.75" stop-color="#17437f"/><stop offset="0.792" stop-color="#17437f"/><stop offset="0.833" stop-color="#17437f"/><stop offset="0.875" stop-color="#183e7d"/><stop offset="0.917" stop-color="#193179"/><stop offset="0.958" stop-color="#1b2273"/><stop offset="1" stop-color="#1d116f"/></linearGradient><linearGradient id="a35"><stop offset="0" stop-color="#197588"/><stop offset="0.0417" stop-color="#197188"/><stop offset="0.0833" stop-color="#197088"/><stop offset="0.125" stop-color="#186d88"/><stop offset="0.167" stop-color="#186a87"/><stop offset="0.208" stop-color="#176687"/><stop offset="0.25" stop-color="#176186"/><stop offset="0.292" stop-color="#175c85"/><stop offset="0.333" stop-color="#175784"/><stop offset="0.375" stop-color="#175283"/><stop offset="0.417" stop-color="#174e82"/><stop offset="0.458" stop-color="#174b81"/><stop offset="0.5" stop-color="#174981"/><stop offset="0.542" stop-color="#174880"/><stop offset="0.583" stop-color="#174780"/><stop offset="0.625" stop-color="#174680"/><stop offset="0.667" stop-color="#174580"/><stop offset="0.708" stop-color="#174580"/><stop offset="0.75" stop-color="#17457f"/><stop offset="0.792" stop-color="#17447f"/><stop offset="0.833" stop-color="#174580"/><stop offset="0.875" stop-color="#18407e"/><stop offset="0.917" stop-color="#193279"/><stop offset="0.958" stop-color="#1b2273"/><stop offset="1" stop-color="#1d116f"/></linearGradient><linearGradient id="a36"><stop offset="0" stop-color="#1a7688"/><stop offset="0.0417" stop-color="#197288"/><stop offset="0.0833" stop-color="#197188"/><stop offset="0.125" stop-color="#186e88"/><stop offset="0.167" stop-color="#186a87"/><stop offset="0.208" stop-color="#176687"/><stop offset="0.25" stop-color="#176186"/><stop offset="0.292" stop-color="#175c85"/><stop offset="0.333" stop-color="#175784"/><stop offset="0.375" stop-color="#175383"/><stop offset="0.417" stop-color="#174f82"/><stop offset="0.458" stop-color="#174c81"/><stop offset="0.5" stop-color="#174a81"/><stop offset="0.542" stop-color="#174981"/><stop offset="0.583" stop-color="#174880"/><stop offset="0.625" stop-color="#174780"/><stop offset="0.667" stop-color="#174780"/><stop offset="0.708" stop-color="#174780"/><stop offset="0.75" stop-color="#174680"/><stop offset="0.792" stop-color="#174680"/><stop offset="0.833" stop-color="#174680"/><stop offset="0.875" stop-color="#18407e"/><stop offset="0.917" stop-color="#193279"/><stop offset="0.958" stop-color="#1b2273"/><stop offset="1" stop-color="#1d116f"/></linearGradient><linearGradient id="a37"><stop offset="0" stop-color="#1a7688"/><stop offset="0.0417" stop-color="#197488"/><stop offset="0.0833" stop-color="#197288"/><stop offset="0.125" stop-color="#196f88"/><stop offset="0.167" stop-color="#186b88"/><stop offset="0.208" stop-color="#176787"/><stop offset="0.25" stop-color="#176287"/><stop offset="0.292" stop-color="#175d85"/><stop offset="0.333" stop-color="#175884"/><stop offset="0.375" stop-color="#175483"/><stop offset="0.417" stop-color="#175082"/><stop offset="0.458" stop-color="#174d82"/><stop offset="0.5" stop-color="#174b81"/><stop offset="0.542" stop-color="#174a81"/><stop offset="0.583" stop-color="#174981"/><stop offset="0.625" stop-color="#174981"/><stop offset="0.667" stop-color="#174981"/><stop offset="0.708" stop-color="#174881"/><stop offset="0.75" stop-color="#174880"/><stop offset="0.792" stop-color="#174880"/><stop offset="0.833" stop-color="#174780"/><stop offset="0.875" stop-color="#18417e"/><stop offset="0.917" stop-color="#193279"/><stop offset="0.958" stop-color="#1b2273"/><stop offset="1" stop-color="#1d116f"/></linearGradient><linearGradient id="a38"><stop offset="0" stop-color="#1a7888"/><stop offset="0.0417" stop-color="#1a7588"/><stop offset="0.0833" stop-color="#197488"/><stop offset="0.125" stop-color="#197188"/><stop offset="0.167" stop-color="#186c88"/><stop offset="0.208" stop-color="#186887"/><stop offset="0.25" stop-color="#176387"/><stop offset="0.292" stop-color="#175e86"/><stop offset="0.333" stop-color="#175984"/><stop offset="0.375" stop-color="#175583"/><stop offset="0.417" stop-color="#175183"/><stop offset="0.458" stop-color="#174e82"/><stop offset="0.5" stop-color="#174c81"/><stop offset="0.542" stop-color="#174b81"/><stop offset="0.583" stop-color="#174b81"/><stop offset="0.625" stop-color="#174a81"/><stop offset="0.667" stop-color="#174a81"/><stop offset="0.708" stop-color="#174a81"/><stop offset="0.75" stop-color="#174a81"/><stop offset="0.792" stop-color="#174981"/><stop offset="0.833" stop-color="#174981"/><stop offset="0.875" stop-color="#18427e"/><stop offset="0.917" stop-color="#193279"/><stop offset="0.958" stop-color="#1b2273"/><stop offset="1" stop-color="#1d106f"/></linearGradient><linearGradient id="a39"><stop offset="0" stop-color="#1a7989"/><stop offset="0.0417" stop-color="#1a7788"/><stop offset="0.0833" stop-color="#1a7688"/><stop offset="0.125" stop-color="#197288"/><stop offset="0.167" stop-color="#186e88"/><stop offset="0.208" stop-color="#186987"/><stop offset="0.25" stop-color="#176487"/><stop offset="0.292" stop-color="#175f86"/><stop offset="0.333" stop-color="#175a85"/><stop offset="0.375" stop-color="#175584"/><stop offset="0.417" stop-color="#175283"/><stop offset="0.458" stop-color="#174f82"/><stop offset="0.5" stop-color="#174d82"/><stop offset="0.542" stop-color="#174d82"/><stop offset="0.583" stop-color="#174c81"/><stop offset="0.625" stop-color="#174c81"/><stop offset="0.667" stop-color="#174c81"/><stop offset="0.708" stop-color="#174c81"/><stop offset="0.75" stop-color="#174c81"/><stop offset="0.792" stop-color="#174b81"/><stop offset="0.833" stop-color="#174a81"/><stop offset="0.875" stop-color="#18427e"/><stop offset="0.917" stop-color="#193279"/><stop offset="0.958" stop-color="#1b2273"/><stop offset="1" stop-color="#1e106f"/></linearGradient><linearGradient id="a40"><stop offset="0" stop-color="#1a7b89"/><stop offset="0.0417" stop-color="#1a7a89"/><stop offset="0.0833" stop-color="#1a7888"/><stop offset="0.125" stop-color="#197488"/><stop offset="0.167" stop-color="#196f88"/><stop offset="0.208" stop-color="#186a87"/><stop offset="0.25" stop-color="#176587"/><stop offset="0.292" stop-color="#176086"/><stop offset="0.333" stop-color="#175b85"/><stop offset="0.375" stop-color="#175684"/><stop offset="0.417" stop-color="#175383"/><stop offset="0.458" stop-color="#175082"/><stop offset="0.5" stop-color="#174f82"/><stop offset="0.542" stop-color="#174e82"/><stop offset="0.583" stop-color="#174e82"/><stop offset="0.625" stop-color="#174e82"/><stop offset="0.667" stop-color="#174e82"/><stop offset="0.708" stop-color="#174e82"/><stop offset="0.75" stop-color="#174e82"/><stop offset="0.792" stop-color="#174d82"/><stop offset="0.833" stop-color="#174b81"/><stop offset="0.875" stop-color="#18427e"/><stop offset="0.917" stop-color="#1a3178"/><stop offset="0.958" stop-color="#1b2173"/><stop offset="1" stop-color="#1e106f"/></linearGradient><linearGradient id="a41"><stop offset="0" stop-color="#1b7d89"/><stop offset="0.0417" stop-color="#1b7c89"/><stop offset="0.0833" stop-color="#1a7a89"/><stop offset="0.125" stop-color="#1a7688"/><stop offset="0.167" stop-color="#197088"/><stop offset="0.208" stop-color="#186b88"/><stop offset="0.25" stop-color="#176687"/><stop offset="0.292" stop-color="#176186"/><stop offset="0.333" stop-color="#175c85"/><stop offset="0.375" stop-color="#175884"/><stop offset="0.417" stop-color="#175483"/><stop offset="0.458" stop-color="#175283"/><stop offset="0.5" stop-color="#175082"/><stop offset="0.542" stop-color="#175082"/><stop offset="0.583" stop-color="#175082"/><stop offset="0.625" stop-color="#175082"/><stop offset="0.667" stop-color="#175082"/><stop offset="0.708" stop-color="#175182"/><stop offset="0.75" stop-color="#175082"/><stop offset="0.792" stop-color="#174f82"/><stop offset="0.833" stop-color="#174c81"/><stop offset="0.875" stop-color="#18427e"/><stop offset="0.917" stop-color="#1a3078"/><stop offset="0.958" stop-color="#1c2073"/><stop offset="1" stop-color="#1e0f6f"/></linearGradient><linearGradient id="a42"><stop offset="0" stop-color="#1b8089"/><stop offset="0.0417" stop-color="#1b7f89"/><stop offset="0.0833" stop-color="#1b7c89"/><stop offset="0.125" stop-color="#1a7888"/><stop offset="0.167" stop-color="#197288"/><stop offset="0.208" stop-color="#186c88"/><stop offset="0.25" stop-color="#176787"/><stop offset="0.292" stop-color="#176286"/><stop offset="0.333" stop-color="#175d85"/><stop offset="0.375" stop-color="#175984"/><stop offset="0.417" stop-color="#175584"/><stop offset="0.458" stop-color="#175383"/><stop offset="0.5" stop-color="#175283"/><stop offset="0.542" stop-color="#175183"/><stop offset="0.583" stop-color="#175183"/><stop offset="0.625" stop-color="#175283"/><stop offset="0.667" stop-color="#175383"/><stop offset="0.708" stop-color="#175383"/><stop offset="0.75" stop-color="#175283"/><stop offset="0.792" stop-color="#175183"/><stop offset="0.833" stop-color="#174d82"/><stop offset="0.875" stop-color="#18427e"/><stop offset="0.917" stop-color="#1a2f77"/><stop offset="0.958" stop-color="#1c2073"/><stop offset="1" stop-color="#1e0f6f"/></linearGradient><linearGradient id="a43"><stop offset="0" stop-color="#1d8488"/><stop offset="0.0417" stop-color="#1c8289"/><stop offset="0.0833" stop-color="#1b7f89"/><stop offset="0.125" stop-color="#1a7a89"/><stop offset="0.167" stop-color="#197488"/><stop offset="0.208" stop-color="#186e88"/><stop offset="0.25" stop-color="#186887"/><stop offset="0.292" stop-color="#176387"/><stop offset="0.333" stop-color="#175e86"/><stop offset="0.375" stop-color="#175a85"/><stop offset="0.417" stop-color="#175784"/><stop offset="0.458" stop-color="#175483"/><stop offset="0.5" stop-color="#175383"/><stop offset="0.542" stop-color="#175383"/><stop offset="0.583" stop-color="#175383"/><stop offset="0.625" stop-color="#175483"/><stop offset="0.667" stop-color="#175583"/><stop offset="0.708" stop-color="#175584"/><stop offset="0.75" stop-color="#175583"/><stop offset="0.792" stop-color="#175383"/><stop offset="0.833" stop-color="#174f82"/><stop offset="0.875" stop-color="#18427e"/><stop offset="0.917" stop-color="#1a2d77"/><stop offset="0.958" stop-color="#1c1e72"/><stop offset="1" stop-color="#1e0e6e"/></linearGradient><linearGradient id="a44"><stop offset="0" stop-color="#1e8888"/><stop offset="0.0417" stop-color="#1d8588"/><stop offset="0.0833" stop-color="#1c8189"/><stop offset="0.125" stop-color="#1b7c89"/><stop offset="0.167" stop-color="#1a7688"/><stop offset="0.208" stop-color="#197088"/><stop offset="0.25" stop-color="#186a87"/><stop offset="0.292" stop-color="#176587"/><stop offset="0.333" stop-color="#176086"/><stop offset="0.375" stop-color="#175b85"/><stop offset="0.417" stop-color="#175884"/><stop offset="0.458" stop-color="#175684"/><stop offset="0.5" stop-color="#175583"/><stop offset="0.542" stop-color="#175583"/><stop offset="0.583" stop-color="#175584"/><stop offset="0.625" stop-color="#175684"/><stop offset="0.667" stop-color="#175784"/><stop offset="0.708" stop-color="#175884"/><stop offset="0.75" stop-color="#175784"/><stop offset="0.792" stop-color="#175583"/><stop offset="0.833" stop-color="#175082"/><stop offset="0.875" stop-color="#17427f"/><stop offset="0.917" stop-color="#1a2c76"/><stop offset="0.958" stop-color="#1c1d72"/><stop offset="1" stop-color="#1e0d6e"/></linearGradient><linearGradient id="a45"><stop offset="0" stop-color="#208c87"/><stop offset="0.0417" stop-color="#1f8888"/><stop offset="0.0833" stop-color="#1d8488"/><stop offset="0.125" stop-color="#1b7f89"/><stop offset="0.167" stop-color="#1a7888"/><stop offset="0.208" stop-color="#197188"/><stop offset="0.25" stop-color="#186b88"/><stop offset="0.292" stop-color="#176687"/><stop offset="0.333" stop-color="#176186"/><stop offset="0.375" stop-color="#175d85"/><stop offset="0.417" stop-color="#175a85"/><stop offset="0.458" stop-color="#175784"/><stop offset="0.5" stop-color="#175684"/><stop offset="0.542" stop-color="#175684"/><stop offset="0.583" stop-color="#175784"/><stop offset="0.625" stop-color="#175984"/><stop offset="0.667" stop-color="#175a85"/><stop offset="0.708" stop-color="#175a85"/><stop offset="0.75" stop-color="#175984"/><stop offset="0.792" stop-color="#175684"/><stop offset="0.833" stop-color="#175082"/><stop offset="0.875" stop-color="#17427f"/><stop offset="0.917" stop-color="#1a2a76"/><stop offset="0.958" stop-color="#1c1c72"/><stop offset="1" stop-color="#1e0c6e"/></linearGradient><linearGradient id="a46"><stop offset="0" stop-color="#229187"/><stop offset="0.0417" stop-color="#208c87"/><stop offset="0.0833" stop-color="#1e8788"/><stop offset="0.125" stop-color="#1c8189"/><stop offset="0.167" stop-color="#1a7a89"/><stop offset="0.208" stop-color="#197388"/><stop offset="0.25" stop-color="#186d88"/><stop offset="0.292" stop-color="#186887"/><stop offset="0.333" stop-color="#176387"/><stop offset="0.375" stop-color="#175f86"/><stop offset="0.417" stop-color="#175b85"/><stop offset="0.458" stop-color="#175984"/><stop offset="0.5" stop-color="#175884"/><stop offset="0.542" stop-color="#175884"/><stop offset="0.583" stop-color="#175985"/><stop offset="0.625" stop-color="#175b85"/><stop offset="0.667" stop-color="#175c85"/><stop offset="0.708" stop-color="#175c85"/><stop offset="0.75" stop-color="#175b85"/><stop offset="0.792" stop-color="#175884"/><stop offset="0.833" stop-color="#175183"/><stop offset="0.875" stop-color="#18417e"/><stop offset="0.917" stop-color="#1a2976"/><stop offset="0.958" stop-color="#1c1a71"/><stop offset="1" stop-color="#1e0b6e"/></linearGradient><linearGradient id="a47"><stop offset="0" stop-color="#249686"/><stop offset="0.0417" stop-color="#218f87"/><stop offset="0.0833" stop-color="#1f8a88"/><stop offset="0.125" stop-color="#1d8488"/><stop offset="0.167" stop-color="#1b7d89"/><stop offset="0.208" stop-color="#1a7688"/><stop offset="0.25" stop-color="#196f88"/><stop offset="0.292" stop-color="#186987"/><stop offset="0.333" stop-color="#176587"/><stop offset="0.375" stop-color="#176086"/><stop offset="0.417" stop-color="#175d85"/><stop offset="0.458" stop-color="#175b85"/><stop offset="0.5" stop-color="#175a85"/><stop offset="0.542" stop-color="#175a85"/><stop offset="0.583" stop-color="#175b85"/><stop offset="0.625" stop-color="#175d85"/><stop offset="0.667" stop-color="#175f86"/><stop offset="0.708" stop-color="#175f86"/><stop offset="0.75" stop-color="#175d85"/><stop offset="0.792" stop-color="#175984"/><stop offset="0.833" stop-color="#175183"/><stop offset="0.875" stop-color="#18417e"/><stop offset="0.917" stop-color="#1b2975"/><stop offset="0.958" stop-color="#1c1971"/><stop offset="1" stop-color="#1e0a6d"/></linearGradient><linearGradient id="a48"><stop offset="0" stop-color="#279a86"/><stop offset="0.0417" stop-color="#239486"/><stop offset="0.0833" stop-color="#218d87"/><stop offset="0.125" stop-color="#1e8788"/><stop offset="0.167" stop-color="#1b8089"/><stop offset="0.208" stop-color="#1a7888"/><stop offset="0.25" stop-color="#197188"/><stop offset="0.292" stop-color="#186b88"/><stop offset="0.333" stop-color="#176687"/><stop offset="0.375" stop-color="#176287"/><stop offset="0.417" stop-color="#175f86"/><stop offset="0.458" stop-color="#175d85"/><stop offset="0.5" stop-color="#175c85"/><stop offset="0.542" stop-color="#175c85"/><stop offset="0.583" stop-color="#175e86"/><stop offset="0.625" stop-color="#175f86"/><stop offset="0.667" stop-color="#176186"/><stop offset="0.708" stop-color="#176186"/><stop offset="0.75" stop-color="#175f86"/><stop offset="0.792" stop-color="#175a85"/><stop offset="0.833" stop-color="#175283"/><stop offset="0.875" stop-color="#18407e"/><stop offset="0.917" stop-color="#1b2975"/><stop offset="0.958" stop-color="#1d1871"/><stop offset="1" stop-color="#1e0a6d"/></linearGradient><linearGradient id="a49"><stop offset="0" stop-color="#299e85"/><stop offset="0.0417" stop-color="#259786"/><stop offset="0.0833" stop-color="#229187"/><stop offset="0.125" stop-color="#1f8988"/><stop offset="0.167" stop-color="#1c8289"/><stop offset="0.208" stop-color="#1a7b89"/><stop offset="0.25" stop-color="#197388"/><stop offset="0.292" stop-color="#186d88"/><stop offset="0.333" stop-color="#186887"/><stop offset="0.375" stop-color="#176487"/><stop offset="0.417" stop-color="#176186"/><stop offset="0.458" stop-color="#175f86"/><stop offset="0.5" stop-color="#175e86"/><stop offset="0.542" stop-color="#175e86"/><stop offset="0.583" stop-color="#176086"/><stop offset="0.625" stop-color="#176286"/><stop offset="0.667" stop-color="#176487"/><stop offset="0.708" stop-color="#176387"/><stop offset="0.75" stop-color="#176186"/><stop offset="0.792" stop-color="#175b85"/><stop offset="0.833" stop-color="#175183"/><stop offset="0.875" stop-color="#18407e"/><stop offset="0.917" stop-color="#1b2975"/><stop offset="0.958" stop-color="#1d1871"/><stop offset="1" stop-color="#1e096d"/></linearGradient><linearGradient id="a50"><stop offset="0" stop-color="#2ca285"/><stop offset="0.0417" stop-color="#279b85"/><stop offset="0.0833" stop-color="#239486"/><stop offset="0.125" stop-color="#208d87"/><stop offset="0.167" stop-color="#1d8588"/><stop offset="0.208" stop-color="#1b7d89"/><stop offset="0.25" stop-color="#1a7688"/><stop offset="0.292" stop-color="#196f88"/><stop offset="0.333" stop-color="#186a87"/><stop offset="0.375" stop-color="#176687"/><stop offset="0.417" stop-color="#176387"/><stop offset="0.458" stop-color="#176086"/><stop offset="0.5" stop-color="#176086"/><stop offset="0.542" stop-color="#176086"/><stop offset="0.583" stop-color="#176287"/><stop offset="0.625" stop-color="#176487"/><stop offset="0.667" stop-color="#176687"/><stop offset="0.708" stop-color="#176687"/><stop offset="0.75" stop-color="#176287"/><stop offset="0.792" stop-color="#175c85"/><stop offset="0.833" stop-color="#175183"/><stop offset="0.875" stop-color="#18407e"/><stop offset="0.917" stop-color="#1b2975"/><stop offset="0.958" stop-color="#1d1771"/><stop offset="1" stop-color="#1e096d"/></linearGradient><linearGradient id="a51"><stop offset="0" stop-color="#2fa784"/><stop offset="0.0417" stop-color="#2a9e85"/><stop offset="0.0833" stop-color="#259886"/><stop offset="0.125" stop-color="#229087"/><stop offset="0.167" stop-color="#1e8888"/><stop offset="0.208" stop-color="#1b8089"/><stop offset="0.25" stop-color="#1a7888"/><stop offset="0.292" stop-color="#197188"/><stop offset="0.333" stop-color="#186c88"/><stop offset="0.375" stop-color="#186887"/><stop offset="0.417" stop-color="#176587"/><stop offset="0.458" stop-color="#176387"/><stop offset="0.5" stop-color="#176287"/><stop offset="0.542" stop-color="#176387"/><stop offset="0.583" stop-color="#176487"/><stop offset="0.625" stop-color="#176687"/><stop offset="0.667" stop-color="#186887"/><stop offset="0.708" stop-color="#186887"/><stop offset="0.75" stop-color="#176487"/><stop offset="0.792" stop-color="#175d85"/><stop offset="0.833" stop-color="#175183"/><stop offset="0.875" stop-color="#183f7e"/><stop offset="0.917" stop-color="#1b2975"/><stop offset="0.958" stop-color="#1d1771"/><stop offset="1" stop-color="#1e086d"/></linearGradient><linearGradient id="a52"><stop offset="0" stop-color="#34aa83"/><stop offset="0.0417" stop-color="#2ca285"/><stop offset="0.0833" stop-color="#279b85"/><stop offset="0.125" stop-color="#239386"/><stop offset="0.167" stop-color="#208b87"/><stop offset="0.208" stop-color="#1c8389"/><stop offset="0.25" stop-color="#1a7b89"/><stop offset="0.292" stop-color="#197488"/><stop offset="0.333" stop-color="#196e88"/><stop offset="0.375" stop-color="#186a87"/><stop offset="0.417" stop-color="#176787"/><stop offset="0.458" stop-color="#176587"/><stop offset="0.5" stop-color="#176487"/><stop offset="0.542" stop-color="#176587"/><stop offset="0.583" stop-color="#176687"/><stop offset="0.625" stop-color="#186987"/><stop offset="0.667" stop-color="#186b87"/><stop offset="0.708" stop-color="#186a87"/><stop offset="0.75" stop-color="#176687"/><stop offset="0.792" stop-color="#175d85"/><stop offset="0.833" stop-color="#175183"/><stop offset="0.875" stop-color="#183f7d"/><stop offset="0.917" stop-color="#1b2875"/><stop offset="0.958" stop-color="#1d1670"/><stop offset="1" stop-color="#1f086d"/></linearGradient><linearGradient id="a53"><stop offset="0" stop-color="#39ae82"/><stop offset="0.0417" stop-color="#2fa684"/><stop offset="0.0833" stop-color="#299e85"/><stop offset="0.125" stop-color="#249786"/><stop offset="0.167" stop-color="#218e87"/><stop offset="0.208" stop-color="#1d8588"/><stop offset="0.25" stop-color="#1b7d89"/><stop offset="0.292" stop-color="#1a7688"/><stop offset="0.333" stop-color="#197188"/><stop offset="0.375" stop-color="#186c88"/><stop offset="0.417" stop-color="#186987"/><stop offset="0.458" stop-color="#176787"/><stop offset="0.5" stop-color="#176687"/><stop offset="0.542" stop-color="#176787"/><stop offset="0.583" stop-color="#186887"/><stop offset="0.625" stop-color="#186b88"/><stop offset="0.667" stop-color="#186d88"/><stop offset="0.708" stop-color="#186c88"/><stop offset="0.75" stop-color="#176787"/><stop offset="0.792" stop-color="#175e86"/><stop offset="0.833" stop-color="#175183"/><stop offset="0.875" stop-color="#183e7d"/><stop offset="0.917" stop-color="#1b2875"/><stop offset="0.958" stop-color="#1d1570"/><stop offset="1" stop-color="#1f076d"/></linearGradient><linearGradient id="a54"><stop offset="0" stop-color="#3eb281"/><stop offset="0.0417" stop-color="#32aa83"/><stop offset="0.0833" stop-color="#2ba185"/><stop offset="0.125" stop-color="#269986"/><stop offset="0.167" stop-color="#229187"/><stop offset="0.208" stop-color="#1f8888"/><stop offset="0.25" stop-color="#1b8089"/><stop offset="0.292" stop-color="#1a7989"/><stop offset="0.333" stop-color="#197388"/><stop offset="0.375" stop-color="#196e88"/><stop offset="0.417" stop-color="#186b87"/><stop offset="0.458" stop-color="#186987"/><stop offset="0.5" stop-color="#186887"/><stop offset="0.542" stop-color="#186987"/><stop offset="0.583" stop-color="#186b87"/><stop offset="0.625" stop-color="#186d88"/><stop offset="0.667" stop-color="#196f88"/><stop offset="0.708" stop-color="#196e88"/><stop offset="0.75" stop-color="#186887"/><stop offset="0.792" stop-color="#175f86"/><stop offset="0.833" stop-color="#175082"/><stop offset="0.875" stop-color="#183e7d"/><stop offset="0.917" stop-color="#1b2775"/><stop offset="0.958" stop-color="#1d1470"/><stop offset="1" stop-color="#1f076d"/></linearGradient><linearGradient id="a55"><stop offset="0" stop-color="#44b67f"/><stop offset="0.0417" stop-color="#37ad82"/><stop offset="0.0833" stop-color="#2ea484"/><stop offset="0.125" stop-color="#289c85"/><stop offset="0.167" stop-color="#239486"/><stop offset="0.208" stop-color="#208b87"/><stop offset="0.25" stop-color="#1c8389"/><stop offset="0.292" stop-color="#1b7c89"/><stop offset="0.333" stop-color="#1a7688"/><stop offset="0.375" stop-color="#197088"/><stop offset="0.417" stop-color="#186d88"/><stop offset="0.458" stop-color="#186b88"/><stop offset="0.5" stop-color="#186a87"/><stop offset="0.542" stop-color="#186b88"/><stop offset="0.583" stop-color="#186d88"/><stop offset="0.625" stop-color="#196f88"/><stop offset="0.667" stop-color="#197288"/><stop offset="0.708" stop-color="#197088"/><stop offset="0.75" stop-color="#186a87"/><stop offset="0.792" stop-color="#175f86"/><stop offset="0.833" stop-color="#175082"/><stop offset="0.875" stop-color="#183e7d"/><stop offset="0.917" stop-color="#1b2775"/><stop offset="0.958" stop-color="#1d126f"/><stop offset="1" stop-color="#1f066d"/></linearGradient><linearGradient id="a56"><stop offset="0" stop-color="#4ab97e"/><stop offset="0.0417" stop-color="#3cb081"/><stop offset="0.0833" stop-color="#30a884"/><stop offset="0.125" stop-color="#2a9f85"/><stop offset="0.167" stop-color="#259786"/><stop offset="0.208" stop-color="#218e87"/><stop offset="0.25" stop-color="#1e8588"/><stop offset="0.292" stop-color="#1b7f89"/><stop offset="0.333" stop-color="#1a7888"/><stop offset="0.375" stop-color="#197388"/><stop offset="0.417" stop-color="#196f88"/><stop offset="0.458" stop-color="#186d88"/><stop offset="0.5" stop-color="#186d88"/><stop offset="0.542" stop-color="#186d88"/><stop offset="0.583" stop-color="#196f88"/><stop offset="0.625" stop-color="#197288"/><stop offset="0.667" stop-color="#197488"/><stop offset="0.708" stop-color="#197288"/><stop offset="0.75" stop-color="#186b88"/><stop offset="0.792" stop-color="#176086"/><stop offset="0.833" stop-color="#175082"/><stop offset="0.875" stop-color="#183d7d"/><stop offset="0.917" stop-color="#1b2674"/><stop offset="0.958" stop-color="#1e106f"/><stop offset="1" stop-color="#1f066c"/></linearGradient><linearGradient id="a57"><stop offset="0" stop-color="#51bd7c"/><stop offset="0.0417" stop-color="#42b480"/><stop offset="0.0833" stop-color="#34ab83"/><stop offset="0.125" stop-color="#2ca285"/><stop offset="0.167" stop-color="#279a86"/><stop offset="0.208" stop-color="#229187"/><stop offset="0.25" stop-color="#1f8888"/><stop offset="0.292" stop-color="#1c8189"/><stop offset="0.333" stop-color="#1a7b89"/><stop offset="0.375" stop-color="#1a7588"/><stop offset="0.417" stop-color="#197288"/><stop offset="0.458" stop-color="#197088"/><stop offset="0.5" stop-color="#196f88"/><stop offset="0.542" stop-color="#197088"/><stop offset="0.583" stop-color="#197188"/><stop offset="0.625" stop-color="#197488"/><stop offset="0.667" stop-color="#1a7688"/><stop offset="0.708" stop-color="#197488"/><stop offset="0.75" stop-color="#186c88"/><stop offset="0.792" stop-color="#176086"/><stop offset="0.833" stop-color="#175082"/><stop offset="0.875" stop-color="#183d7d"/><stop offset="0.917" stop-color="#1b2574"/><stop offset="0.958" stop-color="#1e0d6e"/><stop offset="1" stop-color="#1f056c"/></linearGradient><linearGradient id="a58"><stop offset="0" stop-color="#57c17a"/><stop offset="0.0417" stop-color="#47b87f"/><stop offset="0.0833" stop-color="#38ae82"/><stop offset="0.125" stop-color="#2ea584"/><stop offset="0.167" stop-color="#289d85"/><stop offset="0.208" stop-color="#239486"/><stop offset="0.25" stop-color="#208b87"/><stop offset="0.292" stop-color="#1d8488"/><stop offset="0.333" stop-color="#1b7e89"/><stop offset="0.375" stop-color="#1a7888"/><stop offset="0.417" stop-color="#197488"/><stop offset="0.458" stop-color="#197288"/><stop offset="0.5" stop-color="#197288"/><stop offset="0.542" stop-color="#197288"/><stop offset="0.583" stop-color="#197488"/><stop offset="0.625" stop-color="#1a7688"/><stop offset="0.667" stop-color="#1a7989"/><stop offset="0.708" stop-color="#1a7688"/><stop offset="0.75" stop-color="#186d88"/><stop offset="0.792" stop-color="#176186"/><stop offset="0.833" stop-color="#175082"/><stop offset="0.875" stop-color="#183d7d"/><stop offset="0.917" stop-color="#1b2474"/><stop offset="0.958" stop-color="#1e0b6e"/><stop offset="1" stop-color="#1f056c"/></linearGradient><linearGradient id="a59"><stop offset="0" stop-color="#5ec478"/><stop offset="0.0417" stop-color="#4dbb7d"/><stop offset="0.0833" stop-color="#3db181"/><stop offset="0.125" stop-color="#30a884"/><stop offset="0.167" stop-color="#2a9f85"/><stop offset="0.208" stop-color="#259786"/><stop offset="0.25" stop-color="#218e87"/><stop offset="0.292" stop-color="#1e8788"/><stop offset="0.333" stop-color="#1c8089"/><stop offset="0.375" stop-color="#1a7b89"/><stop offset="0.417" stop-color="#1a7788"/><stop offset="0.458" stop-color="#197488"/><stop offset="0.5" stop-color="#197488"/><stop offset="0.542" stop-color="#197588"/><stop offset="0.583" stop-color="#1a7688"/><stop offset="0.625" stop-color="#1a7888"/><stop offset="0.667" stop-color="#1a7b89"/><stop offset="0.708" stop-color="#1a7889"/><stop offset="0.75" stop-color="#196f88"/><stop offset="0.792" stop-color="#176186"/><stop offset="0.833" stop-color="#175082"/><stop offset="0.875" stop-color="#183d7d"/><stop offset="0.917" stop-color="#1b2474"/><stop offset="0.958" stop-color="#1e0a6d"/><stop offset="1" stop-color="#1f056c"/></linearGradient><linearGradient id="a60"><stop offset="0" stop-color="#66c776"/><stop offset="0.0417" stop-color="#53be7b"/><stop offset="0.0833" stop-color="#41b380"/><stop offset="0.125" stop-color="#33aa83"/><stop offset="0.167" stop-color="#2ca285"/><stop offset="0.208" stop-color="#269a86"/><stop offset="0.25" stop-color="#229187"/><stop offset="0.292" stop-color="#1f8988"/><stop offset="0.333" stop-color="#1c8389"/><stop offset="0.375" stop-color="#1b7e89"/><stop offset="0.417" stop-color="#1a7989"/><stop offset="0.458" stop-color="#1a7788"/><stop offset="0.5" stop-color="#1a7788"/><stop offset="0.542" stop-color="#1a7788"/><stop offset="0.583" stop-color="#1a7989"/><stop offset="0.625" stop-color="#1a7a89"/><stop offset="0.667" stop-color="#1b7d89"/><stop offset="0.708" stop-color="#1a7a89"/><stop offset="0.75" stop-color="#197088"/><stop offset="0.792" stop-color="#176186"/><stop offset="0.833" stop-color="#174f82"/><stop offset="0.875" stop-color="#183c7c"/><stop offset="0.917" stop-color="#1b2374"/><stop offset="0.958" stop-color="#1e0a6d"/><stop offset="1" stop-color="#1f066c"/></linearGradient><linearGradient id="a61"><stop offset="0" stop-color="#6eca73"/><stop offset="0.0417" stop-color="#59c27a"/><stop offset="0.0833" stop-color="#45b67f"/><stop offset="0.125" stop-color="#36ac83"/><stop offset="0.167" stop-color="#2da484"/><stop offset="0.208" stop-color="#289c85"/><stop offset="0.25" stop-color="#239486"/><stop offset="0.292" stop-color="#208c87"/><stop offset="0.333" stop-color="#1d8588"/><stop offset="0.375" stop-color="#1c8089"/><stop offset="0.417" stop-color="#1b7c89"/><stop offset="0.458" stop-color="#1a7a89"/><stop offset="0.5" stop-color="#1a7a89"/><stop offset="0.542" stop-color="#1a7a89"/><stop offset="0.583" stop-color="#1a7b89"/><stop offset="0.625" stop-color="#1b7d89"/><stop offset="0.667" stop-color="#1b7f89"/><stop offset="0.708" stop-color="#1a7b89"/><stop offset="0.75" stop-color="#197088"/><stop offset="0.792" stop-color="#176286"/><stop offset="0.833" stop-color="#174f82"/><stop offset="0.875" stop-color="#183b7c"/><stop offset="0.917" stop-color="#1b2273"/><stop offset="0.958" stop-color="#1e0a6e"/><stop offset="1" stop-color="#1f066c"/></linearGradient><linearGradient id="a62"><stop offset="0" stop-color="#77cd71"/><stop offset="0.0417" stop-color="#5fc578"/><stop offset="0.0833" stop-color="#49b97e"/><stop offset="0.125" stop-color="#39ae82"/><stop offset="0.167" stop-color="#2fa784"/><stop offset="0.208" stop-color="#2a9e85"/><stop offset="0.25" stop-color="#249786"/><stop offset="0.292" stop-color="#218f87"/><stop offset="0.333" stop-color="#1f8888"/><stop offset="0.375" stop-color="#1d8388"/><stop offset="0.417" stop-color="#1b7f89"/><stop offset="0.458" stop-color="#1b7c89"/><stop offset="0.5" stop-color="#1b7c89"/><stop offset="0.542" stop-color="#1b7d89"/><stop offset="0.583" stop-color="#1b7e89"/><stop offset="0.625" stop-color="#1b7f89"/><stop offset="0.667" stop-color="#1c8089"/><stop offset="0.708" stop-color="#1b7c89"/><stop offset="0.75" stop-color="#197188"/><stop offset="0.792" stop-color="#176287"/><stop offset="0.833" stop-color="#174f82"/><stop offset="0.875" stop-color="#183b7c"/><stop offset="0.917" stop-color="#1b2273"/><stop offset="0.958" stop-color="#1e0b6e"/><stop offset="1" stop-color="#1f066c"/></linearGradient><linearGradient id="a63"><stop offset="0" stop-color="#7fd06e"/><stop offset="0.0417" stop-color="#66c776"/><stop offset="0.0833" stop-color="#4dbb7d"/><stop offset="0.125" stop-color="#3cb081"/><stop offset="0.167" stop-color="#31a984"/><stop offset="0.208" stop-color="#2ba185"/><stop offset="0.25" stop-color="#269986"/><stop offset="0.292" stop-color="#229187"/><stop offset="0.333" stop-color="#208b87"/><stop offset="0.375" stop-color="#1e8688"/><stop offset="0.417" stop-color="#1c8289"/><stop offset="0.458" stop-color="#1b7f89"/><stop offset="0.5" stop-color="#1b7f89"/><stop offset="0.542" stop-color="#1b8089"/><stop offset="0.583" stop-color="#1c8189"/><stop offset="0.625" stop-color="#1c8289"/><stop offset="0.667" stop-color="#1c8289"/><stop offset="0.708" stop-color="#1b7e89"/><stop offset="0.75" stop-color="#197288"/><stop offset="0.792" stop-color="#176387"/><stop offset="0.833" stop-color="#174f82"/><stop offset="0.875" stop-color="#183a7c"/><stop offset="0.917" stop-color="#1b2173"/><stop offset="0.958" stop-color="#1e0c6e"/><stop offset="1" stop-color="#1f066c"/></linearGradient><linearGradient id="a64"><stop offset="0" stop-color="#88d26c"/><stop offset="0.0417" stop-color="#6dca74"/><stop offset="0.0833" stop-color="#52be7c"/><stop offset="0.125" stop-color="#3eb281"/><stop offset="0.167" stop-color="#33aa83"/><stop offset="0.208" stop-color="#2da385"/><stop offset="0.25" stop-color="#279b85"/><stop offset="0.292" stop-color="#239486"/><stop offset="0.333" stop-color="#218d87"/><stop offset="0.375" stop-color="#1f8888"/><stop offset="0.417" stop-color="#1d8488"/><stop offset="0.458" stop-color="#1c8289"/><stop offset="0.5" stop-color="#1c8289"/><stop offset="0.542" stop-color="#1c8289"/><stop offset="0.583" stop-color="#1d8488"/><stop offset="0.625" stop-color="#1d8488"/><stop offset="0.667" stop-color="#1d8488"/><stop offset="0.708" stop-color="#1b7f89"/><stop offset="0.75" stop-color="#197388"/><stop offset="0.792" stop-color="#176387"/><stop offset="0.833" stop-color="#174f82"/><stop offset="0.875" stop-color="#19397b"/><stop offset="0.917" stop-color="#1b2173"/><stop offset="0.958" stop-color="#1e0d6e"/><stop offset="1" stop-color="#1f066c"/></linearGradient><linearGradient id="a65"><stop offset="0" stop-color="#91d56a"/><stop offset="0.0417" stop-color="#74cc72"/><stop offset="0.0833" stop-color="#57c07a"/><stop offset="0.125" stop-color="#41b480"/><stop offset="0.167" stop-color="#36ac83"/><stop offset="0.208" stop-color="#2ea584"/><stop offset="0.25" stop-color="#299d85"/><stop offset="0.292" stop-color="#249786"/><stop offset="0.333" stop-color="#229087"/><stop offset="0.375" stop-color="#208b87"/><stop offset="0.417" stop-color="#1e8788"/><stop offset="0.458" stop-color="#1d8588"/><stop offset="0.5" stop-color="#1d8588"/><stop offset="0.542" stop-color="#1d8588"/><stop offset="0.583" stop-color="#1e8688"/><stop offset="0.625" stop-color="#1e8788"/><stop offset="0.667" stop-color="#1e8688"/><stop offset="0.708" stop-color="#1c8089"/><stop offset="0.75" stop-color="#197488"/><stop offset="0.792" stop-color="#176387"/><stop offset="0.833" stop-color="#174f82"/><stop offset="0.875" stop-color="#19397b"/><stop offset="0.917" stop-color="#1b2173"/><stop offset="0.958" stop-color="#1e0e6e"/><stop offset="1" stop-color="#1f066c"/></linearGradient><linearGradient id="a66"><stop offset="0" stop-color="#9bd768"/><stop offset="0.0417" stop-color="#7ccf6f"/><stop offset="0.0833" stop-color="#5bc379"/><stop offset="0.125" stop-color="#44b580"/><stop offset="0.167" stop-color="#38ae82"/><stop offset="0.208" stop-color="#2fa784"/><stop offset="0.25" stop-color="#2a9f85"/><stop offset="0.292" stop-color="#269986"/><stop offset="0.333" stop-color="#239386"/><stop offset="0.375" stop-color="#218e87"/><stop offset="0.417" stop-color="#1f8a88"/><stop offset="0.458" stop-color="#1e8888"/><stop offset="0.5" stop-color="#1e8788"/><stop offset="0.542" stop-color="#1f8888"/><stop offset="0.583" stop-color="#1f8988"/><stop offset="0.625" stop-color="#1f8a88"/><stop offset="0.667" stop-color="#1f8888"/><stop offset="0.708" stop-color="#1c8289"/><stop offset="0.75" stop-color="#1a7588"/><stop offset="0.792" stop-color="#176487"/><stop offset="0.833" stop-color="#174f82"/><stop offset="0.875" stop-color="#19387b"/><stop offset="0.917" stop-color="#1b2173"/><stop offset="0.958" stop-color="#1e0f6f"/><stop offset="1" stop-color="#1f066c"/></linearGradient><linearGradient id="a67"><stop offset="0" stop-color="#a4da66"/><stop offset="0.0417" stop-color="#85d16d"/><stop offset="0.0833" stop-color="#61c677"/><stop offset="0.125" stop-color="#46b77f"/><stop offset="0.167" stop-color="#3bb081"/><stop offset="0.208" stop-color="#32a984"/><stop offset="0.25" stop-color="#2ca185"/><stop offset="0.292" stop-color="#279b85"/><stop offset="0.333" stop-color="#249686"/><stop offset="0.375" stop-color="#229187"/><stop offset="0.417" stop-color="#208d87"/><stop offset="0.458" stop-color="#1f8a88"/><stop offset="0.5" stop-color="#1f8a88"/><stop offset="0.542" stop-color="#208b87"/><stop offset="0.583" stop-color="#208c87"/><stop offset="0.625" stop-color="#208d87"/><stop offset="0.667" stop-color="#1f8a88"/><stop offset="0.708" stop-color="#1d8388"/><stop offset="0.75" stop-color="#1a7688"/><stop offset="0.792" stop-color="#176487"/><stop offset="0.833" stop-color="#174f82"/><stop offset="0.875" stop-color="#19387b"/><stop offset="0.917" stop-color="#1b2173"/><stop offset="0.958" stop-color="#1e0f6f"/><stop offset="1" stop-color="#1f066c"/></linearGradient><linearGradient id="a68"><stop offset="0" stop-color="#aedc65"/><stop offset="0.0417" stop-color="#8ed46b"/><stop offset="0.0833" stop-color="#69c875"/><stop offset="0.125" stop-color="#4ab97e"/><stop offset="0.167" stop-color="#3eb181"/><stop offset="0.208" stop-color="#34ab83"/><stop offset="0.25" stop-color="#2da385"/><stop offset="0.292" stop-color="#299d85"/><stop offset="0.333" stop-color="#259886"/><stop offset="0.375" stop-color="#239486"/><stop offset="0.417" stop-color="#229087"/><stop offset="0.458" stop-color="#218d87"/><stop offset="0.5" stop-color="#218d87"/><stop offset="0.542" stop-color="#218e87"/><stop offset="0.583" stop-color="#219087"/><stop offset="0.625" stop-color="#229087"/><stop offset="0.667" stop-color="#208d87"/><stop offset="0.708" stop-color="#1d8588"/><stop offset="0.75" stop-color="#1a7788"/><stop offset="0.792" stop-color="#176487"/><stop offset="0.833" stop-color="#174e82"/><stop offset="0.875" stop-color="#19377b"/><stop offset="0.917" stop-color="#1c2173"/><stop offset="0.958" stop-color="#1e0f6f"/><stop offset="1" stop-color="#1f066c"/></linearGradient><linearGradient id="a69"><stop offset="0" stop-color="#b9de63"/><stop offset="0.0417" stop-color="#97d669"/><stop offset="0.0833" stop-color="#72cb72"/><stop offset="0.125" stop-color="#4ebb7d"/><stop offset="0.167" stop-color="#41b380"/><stop offset="0.208" stop-color="#37ad82"/><stop offset="0.25" stop-color="#2ea584"/><stop offset="0.292" stop-color="#2a9f85"/><stop offset="0.333" stop-color="#279a86"/><stop offset="0.375" stop-color="#249686"/><stop offset="0.417" stop-color="#239386"/><stop offset="0.458" stop-color="#229087"/><stop offset="0.5" stop-color="#229087"/><stop offset="0.542" stop-color="#229187"/><stop offset="0.583" stop-color="#239386"/><stop offset="0.625" stop-color="#239386"/><stop offset="0.667" stop-color="#218f87"/><stop offset="0.708" stop-color="#1e8688"/><stop offset="0.75" stop-color="#1a7888"/><stop offset="0.792" stop-color="#176487"/><stop offset="0.833" stop-color="#174e82"/><stop offset="0.875" stop-color="#19377a"/><stop offset="0.917" stop-color="#1c2073"/><stop offset="0.958" stop-color="#1e0f6f"/><stop offset="1" stop-color="#1f066c"/></linearGradient><linearGradient id="a70"><stop offset="0" stop-color="#c4e061"/><stop offset="0.0417" stop-color="#9fd867"/><stop offset="0.0833" stop-color="#7ccf6f"/><stop offset="0.125" stop-color="#52be7c"/><stop offset="0.167" stop-color="#44b67f"/><stop offset="0.208" stop-color="#39ae82"/><stop offset="0.25" stop-color="#30a784"/><stop offset="0.292" stop-color="#2ca285"/><stop offset="0.333" stop-color="#289d85"/><stop offset="0.375" stop-color="#269986"/><stop offset="0.417" stop-color="#249686"/><stop offset="0.458" stop-color="#239386"/><stop offset="0.5" stop-color="#239386"/><stop offset="0.542" stop-color="#239486"/><stop offset="0.583" stop-color="#249686"/><stop offset="0.625" stop-color="#249686"/><stop offset="0.667" stop-color="#229287"/><stop offset="0.708" stop-color="#1e8888"/><stop offset="0.75" stop-color="#1a7889"/><stop offset="0.792" stop-color="#176487"/><stop offset="0.833" stop-color="#174e82"/><stop offset="0.875" stop-color="#19367a"/><stop offset="0.917" stop-color="#1c2073"/><stop offset="0.958" stop-color="#1e0f6f"/><stop offset="1" stop-color="#1f056c"/></linearGradient><linearGradient id="a71"><stop offset="0" stop-color="#cfe25f"/><stop offset="0.0417" stop-color="#a5da66"/><stop offset="0.0833" stop-color="#86d26d"/><stop offset="0.125" stop-color="#57c17a"/><stop offset="0.167" stop-color="#48b87f"/><stop offset="0.208" stop-color="#3cb081"/><stop offset="0.25" stop-color="#32a984"/><stop offset="0.292" stop-color="#2da484"/><stop offset="0.333" stop-color="#2a9f85"/><stop offset="0.375" stop-color="#279b85"/><stop offset="0.417" stop-color="#259886"/><stop offset="0.458" stop-color="#249686"/><stop offset="0.5" stop-color="#249686"/><stop offset="0.542" stop-color="#249786"/><stop offset="0.583" stop-color="#259886"/><stop offset="0.625" stop-color="#269986"/><stop offset="0.667" stop-color="#239586"/><stop offset="0.708" stop-color="#1f8988"/><stop offset="0.75" stop-color="#1a7989"/><stop offset="0.792" stop-color="#176587"/><stop offset="0.833" stop-color="#174e82"/><stop offset="0.875" stop-color="#19367a"/><stop offset="0.917" stop-color="#1c2073"/><stop offset="0.958" stop-color="#1e0f6f"/><stop offset="1" stop-color="#1f056c"/></linearGradient><linearGradient id="a72"><stop offset="0" stop-color="#dae45d"/><stop offset="0.0417" stop-color="#a6da66"/><stop offset="0.0833" stop-color="#8fd46b"/><stop offset="0.125" stop-color="#5dc479"/><stop offset="0.167" stop-color="#4cba7d"/><stop offset="0.208" stop-color="#3fb281"/><stop offset="0.25" stop-color="#34ab83"/><stop offset="0.292" stop-color="#2fa684"/><stop offset="0.333" stop-color="#2ba185"/><stop offset="0.375" stop-color="#299d85"/><stop offset="0.417" stop-color="#279a86"/><stop offset="0.458" stop-color="#269986"/><stop offset="0.5" stop-color="#259886"/><stop offset="0.542" stop-color="#269986"/><stop offset="0.583" stop-color="#279b85"/><stop offset="0.625" stop-color="#289b85"/><stop offset="0.667" stop-color="#259786"/><stop offset="0.708" stop-color="#1f8a88"/><stop offset="0.75" stop-color="#1a7989"/><stop offset="0.792" stop-color="#176587"/><stop offset="0.833" stop-color="#174e82"/><stop offset="0.875" stop-color="#19367a"/><stop offset="0.917" stop-color="#1c1f73"/><stop offset="0.958" stop-color="#1e0e6e"/><stop offset="1" stop-color="#1f056c"/></linearGradient><linearGradient id="a73"><stop offset="0" stop-color="#e4e65b"/><stop offset="0.0417" stop-color="#a4da66"/><stop offset="0.0833" stop-color="#94d56a"/><stop offset="0.125" stop-color="#63c677"/><stop offset="0.167" stop-color="#50bd7c"/><stop offset="0.208" stop-color="#42b480"/><stop offset="0.25" stop-color="#37ad82"/><stop offset="0.292" stop-color="#30a884"/><stop offset="0.333" stop-color="#2da385"/><stop offset="0.375" stop-color="#2a9f85"/><stop offset="0.417" stop-color="#289d85"/><stop offset="0.458" stop-color="#279b85"/><stop offset="0.5" stop-color="#279b85"/><stop offset="0.542" stop-color="#289b85"/><stop offset="0.583" stop-color="#299d85"/><stop offset="0.625" stop-color="#299e85"/><stop offset="0.667" stop-color="#269986"/><stop offset="0.708" stop-color="#208c87"/><stop offset="0.75" stop-color="#1a7a89"/><stop offset="0.792" stop-color="#176587"/><stop offset="0.833" stop-color="#174e82"/><stop offset="0.875" stop-color="#19367a"/><stop offset="0.917" stop-color="#1c1f72"/><stop offset="0.958" stop-color="#1e0d6e"/><stop offset="1" stop-color="#1f056c"/></linearGradient><linearGradient id="a74"><stop offset="0" stop-color="#e8e75a"/><stop offset="0.0417" stop-color="#a6da66"/><stop offset="0.0833" stop-color="#96d669"/><stop offset="0.125" stop-color="#6ac975"/><stop offset="0.167" stop-color="#54bf7b"/><stop offset="0.208" stop-color="#44b67f"/><stop offset="0.25" stop-color="#39ae82"/><stop offset="0.292" stop-color="#32aa83"/><stop offset="0.333" stop-color="#2ea584"/><stop offset="0.375" stop-color="#2ca285"/><stop offset="0.417" stop-color="#2a9f85"/><stop offset="0.458" stop-color="#299d85"/><stop offset="0.5" stop-color="#299d85"/><stop offset="0.542" stop-color="#299e85"/><stop offset="0.583" stop-color="#2a9f85"/><stop offset="0.625" stop-color="#2ba085"/><stop offset="0.667" stop-color="#279b85"/><stop offset="0.708" stop-color="#218d87"/><stop offset="0.75" stop-color="#1a7b89"/><stop offset="0.792" stop-color="#176587"/><stop offset="0.833" stop-color="#174e82"/><stop offset="0.875" stop-color="#19367a"/><stop offset="0.917" stop-color="#1c1e72"/><stop offset="0.958" stop-color="#1e0d6e"/><stop offset="1" stop-color="#1f056c"/></linearGradient><linearGradient id="a75"><stop offset="0" stop-color="#e8e75a"/><stop offset="0.0417" stop-color="#acdb65"/><stop offset="0.0833" stop-color="#96d669"/><stop offset="0.125" stop-color="#70cb73"/><stop offset="0.167" stop-color="#58c17a"/><stop offset="0.208" stop-color="#47b87f"/><stop offset="0.25" stop-color="#3cb081"/><stop offset="0.292" stop-color="#35ab83"/><stop offset="0.333" stop-color="#30a784"/><stop offset="0.375" stop-color="#2da484"/><stop offset="0.417" stop-color="#2ba185"/><stop offset="0.458" stop-color="#2aa085"/><stop offset="0.5" stop-color="#2a9f85"/><stop offset="0.542" stop-color="#2ba085"/><stop offset="0.583" stop-color="#2ca185"/><stop offset="0.625" stop-color="#2ca385"/><stop offset="0.667" stop-color="#289d85"/><stop offset="0.708" stop-color="#218e87"/><stop offset="0.75" stop-color="#1a7b89"/><stop offset="0.792" stop-color="#176687"/><stop offset="0.833" stop-color="#174e82"/><stop offset="0.875" stop-color="#19367a"/><stop offset="0.917" stop-color="#1c1e72"/><stop offset="0.958" stop-color="#1e0c6e"/><stop offset="1" stop-color="#1f056c"/></linearGradient><linearGradient id="a76"><stop offset="0" stop-color="#e8e75a"/><stop offset="0.0417" stop-color="#b4dd64"/><stop offset="0.0833" stop-color="#96d669"/><stop offset="0.125" stop-color="#75cc71"/><stop offset="0.167" stop-color="#5cc379"/><stop offset="0.208" stop-color="#4ab97e"/><stop offset="0.25" stop-color="#3fb281"/><stop offset="0.292" stop-color="#37ad82"/><stop offset="0.333" stop-color="#31a984"/><stop offset="0.375" stop-color="#2fa684"/><stop offset="0.417" stop-color="#2da385"/><stop offset="0.458" stop-color="#2ca285"/><stop offset="0.5" stop-color="#2ca285"/><stop offset="0.542" stop-color="#2ca285"/><stop offset="0.583" stop-color="#2da484"/><stop offset="0.625" stop-color="#2ea584"/><stop offset="0.667" stop-color="#2a9e85"/><stop offset="0.708" stop-color="#218f87"/><stop offset="0.75" stop-color="#1b7c89"/><stop offset="0.792" stop-color="#176687"/><stop offset="0.833" stop-color="#174f82"/><stop offset="0.875" stop-color="#19367a"/><stop offset="0.917" stop-color="#1c1d72"/><stop offset="0.958" stop-color="#1e0b6e"/><stop offset="1" stop-color="#1f056c"/></linearGradient><linearGradient id="a77"><stop offset="0" stop-color="#e8e75a"/><stop offset="0.0417" stop-color="#bcde62"/><stop offset="0.0833" stop-color="#97d669"/><stop offset="0.125" stop-color="#79ce70"/><stop offset="0.167" stop-color="#60c578"/><stop offset="0.208" stop-color="#4dbb7d"/><stop offset="0.25" stop-color="#41b480"/><stop offset="0.292" stop-color="#39ae82"/><stop offset="0.333" stop-color="#34aa83"/><stop offset="0.375" stop-color="#30a884"/><stop offset="0.417" stop-color="#2ea584"/><stop offset="0.458" stop-color="#2da484"/><stop offset="0.5" stop-color="#2da484"/><stop offset="0.542" stop-color="#2ea584"/><stop offset="0.583" stop-color="#2ea684"/><stop offset="0.625" stop-color="#2fa784"/><stop offset="0.667" stop-color="#2aa085"/><stop offset="0.708" stop-color="#229187"/><stop offset="0.75" stop-color="#1b7d89"/><stop offset="0.792" stop-color="#176687"/><stop offset="0.833" stop-color="#174f82"/><stop offset="0.875" stop-color="#19367a"/><stop offset="0.917" stop-color="#1c1d72"/><stop offset="0.958" stop-color="#1e0b6e"/><stop offset="1" stop-color="#1f066c"/></linearGradient><linearGradient id="a78"><stop offset="0" stop-color="#e8e75a"/><stop offset="0.0417" stop-color="#c5e061"/><stop offset="0.0833" stop-color="#98d669"/><stop offset="0.125" stop-color="#7dcf6f"/><stop offset="0.167" stop-color="#64c777"/><stop offset="0.208" stop-color="#50bd7c"/><stop offset="0.25" stop-color="#43b580"/><stop offset="0.292" stop-color="#3bb081"/><stop offset="0.333" stop-color="#36ac83"/><stop offset="0.375" stop-color="#32a984"/><stop offset="0.417" stop-color="#30a884"/><stop offset="0.458" stop-color="#2fa684"/><stop offset="0.5" stop-color="#2fa684"/><stop offset="0.542" stop-color="#2fa784"/><stop offset="0.583" stop-color="#30a884"/><stop offset="0.625" stop-color="#31a884"/><stop offset="0.667" stop-color="#2ba185"/><stop offset="0.708" stop-color="#229187"/><stop offset="0.75" stop-color="#1b7d89"/><stop offset="0.792" stop-color="#176787"/><stop offset="0.833" stop-color="#174f82"/><stop offset="0.875" stop-color="#19367a"/><stop offset="0.917" stop-color="#1c1d72"/><stop offset="0.958" stop-color="#1e0b6e"/><stop offset="1" stop-color="#1f066c"/></linearGradient><linearGradient id="a79"><stop offset="0" stop-color="#e8e75a"/><stop offset="0.0417" stop-color="#cde160"/><stop offset="0.0833" stop-color="#99d769"/><stop offset="0.125" stop-color="#82d06e"/><stop offset="0.167" stop-color="#68c875"/><stop offset="0.208" stop-color="#53be7b"/><stop offset="0.25" stop-color="#46b77f"/><stop offset="0.292" stop-color="#3eb181"/><stop offset="0.333" stop-color="#38ad82"/><stop offset="0.375" stop-color="#34ab83"/><stop offset="0.417" stop-color="#32a984"/><stop offset="0.458" stop-color="#31a984"/><stop offset="0.5" stop-color="#31a984"/><stop offset="0.542" stop-color="#32a984"/><stop offset="0.583" stop-color="#32aa83"/><stop offset="0.625" stop-color="#32a984"/><stop offset="0.667" stop-color="#2ca285"/><stop offset="0.708" stop-color="#239286"/><stop offset="0.75" stop-color="#1b7e89"/><stop offset="0.792" stop-color="#176787"/><stop offset="0.833" stop-color="#175082"/><stop offset="0.875" stop-color="#19377a"/><stop offset="0.917" stop-color="#1c1e72"/><stop offset="0.958" stop-color="#1e0b6e"/><stop offset="1" stop-color="#1f066c"/></linearGradient><linearGradient id="a80"><stop offset="0" stop-color="#e8e75a"/><stop offset="0.0417" stop-color="#d2e25f"/><stop offset="0.0833" stop-color="#9bd768"/><stop offset="0.125" stop-color="#86d26d"/><stop offset="0.167" stop-color="#6cc974"/><stop offset="0.208" stop-color="#56c07a"/><stop offset="0.25" stop-color="#49b87e"/><stop offset="0.292" stop-color="#40b380"/><stop offset="0.333" stop-color="#3aaf82"/><stop offset="0.375" stop-color="#37ac83"/><stop offset="0.417" stop-color="#34ab83"/><stop offset="0.458" stop-color="#33aa83"/><stop offset="0.5" stop-color="#34ab83"/><stop offset="0.542" stop-color="#35ab83"/><stop offset="0.583" stop-color="#35ac83"/><stop offset="0.625" stop-color="#34aa83"/><stop offset="0.667" stop-color="#2ca285"/><stop offset="0.708" stop-color="#239386"/><stop offset="0.75" stop-color="#1b7e89"/><stop offset="0.792" stop-color="#186787"/><stop offset="0.833" stop-color="#175082"/><stop offset="0.875" stop-color="#19377b"/><stop offset="0.917" stop-color="#1c1e72"/><stop offset="0.958" stop-color="#1e0c6e"/><stop offset="1" stop-color="#1f066c"/></linearGradient><linearGradient id="a81"><stop offset="0" stop-color="#e8e75a"/><stop offset="0.0417" stop-color="#d3e35e"/><stop offset="0.0833" stop-color="#9dd868"/><stop offset="0.125" stop-color="#8bd36c"/><stop offset="0.167" stop-color="#70cb73"/><stop offset="0.208" stop-color="#59c27a"/><stop offset="0.25" stop-color="#4bba7e"/><stop offset="0.292" stop-color="#42b480"/><stop offset="0.333" stop-color="#3cb081"/><stop offset="0.375" stop-color="#39ae82"/><stop offset="0.417" stop-color="#37ad82"/><stop offset="0.458" stop-color="#36ac83"/><stop offset="0.5" stop-color="#37ad82"/><stop offset="0.542" stop-color="#38ad82"/><stop offset="0.583" stop-color="#38ae82"/><stop offset="0.625" stop-color="#35ac83"/><stop offset="0.667" stop-color="#2da385"/><stop offset="0.708" stop-color="#239486"/><stop offset="0.75" stop-color="#1b7f89"/><stop offset="0.792" stop-color="#186887"/><stop offset="0.833" stop-color="#175182"/><stop offset="0.875" stop-color="#19377b"/><stop offset="0.917" stop-color="#1c1f72"/><stop offset="0.958" stop-color="#1e0d6e"/><stop offset="1" stop-color="#1f066c"/></linearGradient><linearGradient id="a82"><stop offset="0" stop-color="#e8e75a"/><stop offset="0.0417" stop-color="#d1e25f"/><stop offset="0.0833" stop-color="#9fd867"/><stop offset="0.125" stop-color="#8fd46b"/><stop offset="0.167" stop-color="#74cc72"/><stop offset="0.208" stop-color="#5cc379"/><stop offset="0.25" stop-color="#4ebb7d"/><stop offset="0.292" stop-color="#44b67f"/><stop offset="0.333" stop-color="#3eb281"/><stop offset="0.375" stop-color="#3baf82"/><stop offset="0.417" stop-color="#39ae82"/><stop offset="0.458" stop-color="#39ae82"/><stop offset="0.5" stop-color="#3aaf82"/><stop offset="0.542" stop-color="#3bb081"/><stop offset="0.583" stop-color="#3bb081"/><stop offset="0.625" stop-color="#37ad82"/><stop offset="0.667" stop-color="#2da484"/><stop offset="0.708" stop-color="#239586"/><stop offset="0.75" stop-color="#1b7f89"/><stop offset="0.792" stop-color="#186887"/><stop offset="0.833" stop-color="#175183"/><stop offset="0.875" stop-color="#19387b"/><stop offset="0.917" stop-color="#1c1f73"/><stop offset="0.958" stop-color="#1e0e6e"/><stop offset="1" stop-color="#1f066c"/></linearGradient><linearGradient id="a83"><stop offset="0" stop-color="#e8e75a"/><stop offset="0.0417" stop-color="#cee25f"/><stop offset="0.0833" stop-color="#a1d967"/><stop offset="0.125" stop-color="#92d56a"/><stop offset="0.167" stop-color="#78cd70"/><stop offset="0.208" stop-color="#5fc578"/><stop offset="0.25" stop-color="#51bd7c"/><stop offset="0.292" stop-color="#46b77f"/><stop offset="0.333" stop-color="#40b380"/><stop offset="0.375" stop-color="#3db181"/><stop offset="0.417" stop-color="#3cb081"/><stop offset="0.458" stop-color="#3cb081"/><stop offset="0.5" stop-color="#3db181"/><stop offset="0.542" stop-color="#3fb281"/><stop offset="0.583" stop-color="#3eb281"/><stop offset="0.625" stop-color="#39ae82"/><stop offset="0.667" stop-color="#2ea584"/><stop offset="0.708" stop-color="#249586"/><stop offset="0.75" stop-color="#1b8089"/><stop offset="0.792" stop-color="#186987"/><stop offset="0.833" stop-color="#175283"/><stop offset="0.875" stop-color="#19387b"/><stop offset="0.917" stop-color="#1c2073"/><stop offset="0.958" stop-color="#1e0e6f"/><stop offset="1" stop-color="#1f066c"/></linearGradient><linearGradient id="a84"><stop offset="0" stop-color="#e8e75a"/><stop offset="0.0417" stop-color="#cae160"/><stop offset="0.0833" stop-color="#a1d967"/><stop offset="0.125" stop-color="#93d56a"/><stop offset="0.167" stop-color="#7bce70"/><stop offset="0.208" stop-color="#63c677"/><stop offset="0.25" stop-color="#53be7b"/><stop offset="0.292" stop-color="#49b87e"/><stop offset="0.333" stop-color="#42b580"/><stop offset="0.375" stop-color="#3fb380"/><stop offset="0.417" stop-color="#3eb281"/><stop offset="0.458" stop-color="#3fb281"/><stop offset="0.5" stop-color="#40b380"/><stop offset="0.542" stop-color="#42b480"/><stop offset="0.583" stop-color="#42b480"/><stop offset="0.625" stop-color="#3cb081"/><stop offset="0.667" stop-color="#2fa684"/><stop offset="0.708" stop-color="#249686"/><stop offset="0.75" stop-color="#1c8089"/><stop offset="0.792" stop-color="#186987"/><stop offset="0.833" stop-color="#175283"/><stop offset="0.875" stop-color="#19397b"/><stop offset="0.917" stop-color="#1c2073"/><stop offset="0.958" stop-color="#1e0f6f"/><stop offset="1" stop-color="#1f066d"/></linearGradient><linearGradient id="a85"><stop offset="0" stop-color="#e8e75a"/><stop offset="0.0417" stop-color="#c7e060"/><stop offset="0.0833" stop-color="#a0d967"/><stop offset="0.125" stop-color="#94d56a"/><stop offset="0.167" stop-color="#7ecf6f"/><stop offset="0.208" stop-color="#66c776"/><stop offset="0.25" stop-color="#56c07a"/><stop offset="0.292" stop-color="#4bba7e"/><stop offset="0.333" stop-color="#45b67f"/><stop offset="0.375" stop-color="#42b480"/><stop offset="0.417" stop-color="#41b480"/><stop offset="0.458" stop-color="#42b480"/><stop offset="0.5" stop-color="#43b580"/><stop offset="0.542" stop-color="#45b77f"/><stop offset="0.583" stop-color="#45b67f"/><stop offset="0.625" stop-color="#3eb281"/><stop offset="0.667" stop-color="#30a784"/><stop offset="0.708" stop-color="#259786"/><stop offset="0.75" stop-color="#1c8189"/><stop offset="0.792" stop-color="#186a87"/><stop offset="0.833" stop-color="#175383"/><stop offset="0.875" stop-color="#19397b"/><stop offset="0.917" stop-color="#1c2173"/><stop offset="0.958" stop-color="#1e106f"/><stop offset="1" stop-color="#1f066d"/></linearGradient><linearGradient id="a86"><stop offset="0" stop-color="#e6e75a"/><stop offset="0.0417" stop-color="#c3e061"/><stop offset="0.0833" stop-color="#a0d967"/><stop offset="0.125" stop-color="#94d66a"/><stop offset="0.167" stop-color="#80d06e"/><stop offset="0.208" stop-color="#6ac975"/><stop offset="0.25" stop-color="#59c27a"/><stop offset="0.292" stop-color="#4ebb7d"/><stop offset="0.333" stop-color="#47b87f"/><stop offset="0.375" stop-color="#44b67f"/><stop offset="0.417" stop-color="#44b580"/><stop offset="0.458" stop-color="#45b67f"/><stop offset="0.5" stop-color="#47b77f"/><stop offset="0.542" stop-color="#49b97e"/><stop offset="0.583" stop-color="#49b97e"/><stop offset="0.625" stop-color="#41b480"/><stop offset="0.667" stop-color="#31a984"/><stop offset="0.708" stop-color="#259886"/><stop offset="0.75" stop-color="#1c8289"/><stop offset="0.792" stop-color="#186b87"/><stop offset="0.833" stop-color="#175383"/><stop offset="0.875" stop-color="#183a7c"/><stop offset="0.917" stop-color="#1b2173"/><stop offset="0.958" stop-color="#1e106f"/><stop offset="1" stop-color="#1f076d"/></linearGradient><linearGradient id="a87"><stop offset="0" stop-color="#e1e65b"/><stop offset="0.0417" stop-color="#c0df62"/><stop offset="0.0833" stop-color="#a0d967"/><stop offset="0.125" stop-color="#95d66a"/><stop offset="0.167" stop-color="#83d16d"/><stop offset="0.208" stop-color="#6eca74"/><stop offset="0.25" stop-color="#5cc379"/><stop offset="0.292" stop-color="#50bd7c"/><stop offset="0.333" stop-color="#4ab97e"/><stop offset="0.375" stop-color="#47b77f"/><stop offset="0.417" stop-color="#47b77f"/><stop offset="0.458" stop-color="#48b87e"/><stop offset="0.5" stop-color="#4ab97e"/><stop offset="0.542" stop-color="#4dbb7d"/><stop offset="0.583" stop-color="#4dbb7d"/><stop offset="0.625" stop-color="#44b67f"/><stop offset="0.667" stop-color="#33aa83"/><stop offset="0.708" stop-color="#269986"/><stop offset="0.75" stop-color="#1c8389"/><stop offset="0.792" stop-color="#186c88"/><stop offset="0.833" stop-color="#175483"/><stop offset="0.875" stop-color="#183a7c"/><stop offset="0.917" stop-color="#1b2173"/><stop offset="0.958" stop-color="#1e106f"/><stop offset="1" stop-color="#1f076d"/></linearGradient><linearGradient id="a88"><stop offset="0" stop-color="#dbe45d"/><stop offset="0.0417" stop-color="#bbde62"/><stop offset="0.0833" stop-color="#a0d967"/><stop offset="0.125" stop-color="#95d66a"/><stop offset="0.167" stop-color="#85d16d"/><stop offset="0.208" stop-color="#71cb73"/><stop offset="0.25" stop-color="#5ec578"/><stop offset="0.292" stop-color="#53be7b"/><stop offset="0.333" stop-color="#4dbb7d"/><stop offset="0.375" stop-color="#4ab97e"/><stop offset="0.417" stop-color="#4ab97e"/><stop offset="0.458" stop-color="#4bba7d"/><stop offset="0.5" stop-color="#4ebb7d"/><stop offset="0.542" stop-color="#51bd7c"/><stop offset="0.583" stop-color="#51bd7c"/><stop offset="0.625" stop-color="#47b87f"/><stop offset="0.667" stop-color="#35ac83"/><stop offset="0.708" stop-color="#279a86"/><stop offset="0.75" stop-color="#1d8488"/><stop offset="0.792" stop-color="#186c88"/><stop offset="0.833" stop-color="#175583"/><stop offset="0.875" stop-color="#183b7c"/><stop offset="0.917" stop-color="#1c2173"/><stop offset="0.958" stop-color="#1e106f"/><stop offset="1" stop-color="#1f076d"/></linearGradient><linearGradient id="a89"><stop offset="0" stop-color="#d4e35e"/><stop offset="0.0417" stop-color="#b7dd63"/><stop offset="0.0833" stop-color="#9ed868"/><stop offset="0.125" stop-color="#94d56a"/><stop offset="0.167" stop-color="#87d26d"/><stop offset="0.208" stop-color="#74cc72"/><stop offset="0.25" stop-color="#61c677"/><stop offset="0.292" stop-color="#56c07a"/><stop offset="0.333" stop-color="#50bc7c"/><stop offset="0.375" stop-color="#4dbb7d"/><stop offset="0.417" stop-color="#4dbb7d"/><stop offset="0.458" stop-color="#4fbc7c"/><stop offset="0.5" stop-color="#52bd7c"/><stop offset="0.542" stop-color="#55bf7b"/><stop offset="0.583" stop-color="#55bf7b"/><stop offset="0.625" stop-color="#4bba7e"/><stop offset="0.667" stop-color="#38ad82"/><stop offset="0.708" stop-color="#289b85"/><stop offset="0.75" stop-color="#1e8588"/><stop offset="0.792" stop-color="#186d88"/><stop offset="0.833" stop-color="#175584"/><stop offset="0.875" stop-color="#183b7c"/><stop offset="0.917" stop-color="#1c2073"/><stop offset="0.958" stop-color="#1e0f6f"/><stop offset="1" stop-color="#1f076d"/></linearGradient><linearGradient id="a90"><stop offset="0" stop-color="#cce160"/><stop offset="0.0417" stop-color="#b2dc64"/><stop offset="0.0833" stop-color="#9bd768"/><stop offset="0.125" stop-color="#93d56a"/><stop offset="0.167" stop-color="#88d26c"/><stop offset="0.208" stop-color="#76cd71"/><stop offset="0.25" stop-color="#65c776"/><stop offset="0.292" stop-color="#5ac279"/><stop offset="0.333" stop-color="#53be7b"/><stop offset="0.375" stop-color="#51bd7c"/><stop offset="0.417" stop-color="#51bd7c"/><stop offset="0.458" stop-color="#53be7b"/><stop offset="0.5" stop-color="#55c07b"/><stop offset="0.542" stop-color="#58c17a"/><stop offset="0.583" stop-color="#59c27a"/><stop offset="0.625" stop-color="#4fbc7d"/><stop offset="0.667" stop-color="#3baf82"/><stop offset="0.708" stop-color="#299d85"/><stop offset="0.75" stop-color="#1e8788"/><stop offset="0.792" stop-color="#196f88"/><stop offset="0.833" stop-color="#175684"/><stop offset="0.875" stop-color="#183b7c"/><stop offset="0.917" stop-color="#1c2073"/><stop offset="0.958" stop-color="#1e0f6f"/><stop offset="1" stop-color="#1f076d"/></linearGradient><linearGradient id="a91"><stop offset="0" stop-color="#c3e061"/><stop offset="0.0417" stop-color="#acdb65"/><stop offset="0.0833" stop-color="#98d669"/><stop offset="0.125" stop-color="#92d56a"/><stop offset="0.167" stop-color="#88d26c"/><stop offset="0.208" stop-color="#78cd70"/><stop offset="0.25" stop-color="#69c875"/><stop offset="0.292" stop-color="#5ec478"/><stop offset="0.333" stop-color="#57c07a"/><stop offset="0.375" stop-color="#54bf7b"/><stop offset="0.417" stop-color="#55bf7b"/><stop offset="0.458" stop-color="#57c07a"/><stop offset="0.5" stop-color="#59c27a"/><stop offset="0.542" stop-color="#5cc379"/><stop offset="0.583" stop-color="#5dc479"/><stop offset="0.625" stop-color="#53be7b"/><stop offset="0.667" stop-color="#3eb181"/><stop offset="0.708" stop-color="#2a9f85"/><stop offset="0.75" stop-color="#1f8888"/><stop offset="0.792" stop-color="#197088"/><stop offset="0.833" stop-color="#175784"/><stop offset="0.875" stop-color="#183c7c"/><stop offset="0.917" stop-color="#1c1f73"/><stop offset="0.958" stop-color="#1e0e6e"/><stop offset="1" stop-color="#1f076d"/></linearGradient><linearGradient id="a92"><stop offset="0" stop-color="#bade63"/><stop offset="0.0417" stop-color="#a3da66"/><stop offset="0.0833" stop-color="#94d56a"/><stop offset="0.125" stop-color="#8fd46b"/><stop offset="0.167" stop-color="#88d26c"/><stop offset="0.208" stop-color="#7ace70"/><stop offset="0.25" stop-color="#6dca74"/><stop offset="0.292" stop-color="#62c677"/><stop offset="0.333" stop-color="#5bc379"/><stop offset="0.375" stop-color="#58c17a"/><stop offset="0.417" stop-color="#59c17a"/><stop offset="0.458" stop-color="#5bc379"/><stop offset="0.5" stop-color="#5dc479"/><stop offset="0.542" stop-color="#60c578"/><stop offset="0.583" stop-color="#61c678"/><stop offset="0.625" stop-color="#57c07a"/><stop offset="0.667" stop-color="#41b380"/><stop offset="0.708" stop-color="#2ba085"/><stop offset="0.75" stop-color="#1f8a88"/><stop offset="0.792" stop-color="#197188"/><stop offset="0.833" stop-color="#175884"/><stop offset="0.875" stop-color="#183d7d"/><stop offset="0.917" stop-color="#1c1f73"/><stop offset="0.958" stop-color="#1e0e6e"/><stop offset="1" stop-color="#1f076d"/></linearGradient><linearGradient id="a93"><stop offset="0" stop-color="#afdc64"/><stop offset="0.0417" stop-color="#99d769"/><stop offset="0.0833" stop-color="#90d46b"/><stop offset="0.125" stop-color="#8cd36b"/><stop offset="0.167" stop-color="#87d26d"/><stop offset="0.208" stop-color="#7bce70"/><stop offset="0.25" stop-color="#72cb72"/><stop offset="0.292" stop-color="#68c875"/><stop offset="0.333" stop-color="#5fc578"/><stop offset="0.375" stop-color="#5dc479"/><stop offset="0.417" stop-color="#5dc479"/><stop offset="0.458" stop-color="#5fc578"/><stop offset="0.5" stop-color="#62c677"/><stop offset="0.542" stop-color="#65c776"/><stop offset="0.583" stop-color="#65c776"/><stop offset="0.625" stop-color="#5bc379"/><stop offset="0.667" stop-color="#44b67f"/><stop offset="0.708" stop-color="#2ca285"/><stop offset="0.75" stop-color="#208c87"/><stop offset="0.792" stop-color="#197288"/><stop offset="0.833" stop-color="#175984"/><stop offset="0.875" stop-color="#183e7d"/><stop offset="0.917" stop-color="#1c1f73"/><stop offset="0.958" stop-color="#1e0d6e"/><stop offset="1" stop-color="#1f086d"/></linearGradient><linearGradient id="a94"><stop offset="0" stop-color="#a3da66"/><stop offset="0.0417" stop-color="#90d46b"/><stop offset="0.0833" stop-color="#8bd36c"/><stop offset="0.125" stop-color="#88d26c"/><stop offset="0.167" stop-color="#84d16d"/><stop offset="0.208" stop-color="#7bce6f"/><stop offset="0.25" stop-color="#76cd71"/><stop offset="0.292" stop-color="#6fca73"/><stop offset="0.333" stop-color="#65c776"/><stop offset="0.375" stop-color="#62c677"/><stop offset="0.417" stop-color="#62c677"/><stop offset="0.458" stop-color="#64c776"/><stop offset="0.5" stop-color="#67c876"/><stop offset="0.542" stop-color="#6ac975"/><stop offset="0.583" stop-color="#6ac975"/><stop offset="0.625" stop-color="#60c578"/><stop offset="0.667" stop-color="#47b87f"/><stop offset="0.708" stop-color="#2ea484"/><stop offset="0.75" stop-color="#218d87"/><stop offset="0.792" stop-color="#197388"/><stop offset="0.833" stop-color="#175a85"/><stop offset="0.875" stop-color="#183f7d"/><stop offset="0.917" stop-color="#1c2073"/><stop offset="0.958" stop-color="#1e0e6e"/><stop offset="1" stop-color="#1f086d"/></linearGradient><linearGradient id="a95"><stop offset="0" stop-color="#99d769"/><stop offset="0.0417" stop-color="#88d26c"/><stop offset="0.0833" stop-color="#85d16d"/><stop offset="0.125" stop-color="#83d16d"/><stop offset="0.167" stop-color="#81d06e"/><stop offset="0.208" stop-color="#7bce6f"/><stop offset="0.25" stop-color="#7ace70"/><stop offset="0.292" stop-color="#75cc71"/><stop offset="0.333" stop-color="#6cc974"/><stop offset="0.375" stop-color="#68c875"/><stop offset="0.417" stop-color="#68c875"/><stop offset="0.458" stop-color="#6ac975"/><stop offset="0.5" stop-color="#6dca74"/><stop offset="0.542" stop-color="#6fca73"/><stop offset="0.583" stop-color="#6eca73"/><stop offset="0.625" stop-color="#64c776"/><stop offset="0.667" stop-color="#4ab97e"/><stop offset="0.708" stop-color="#2fa784"/><stop offset="0.75" stop-color="#218f87"/><stop offset="0.792" stop-color="#197588"/><stop offset="0.833" stop-color="#175b85"/><stop offset="0.875" stop-color="#18407e"/><stop offset="0.917" stop-color="#1c2173"/><stop offset="0.958" stop-color="#1e0e6e"/><stop offset="1" stop-color="#1e086d"/></linearGradient><linearGradient id="a96"><stop offset="0" stop-color="#8fd46b"/><stop offset="0.0417" stop-color="#81d06e"/><stop offset="0.0833" stop-color="#7fd06e"/><stop offset="0.125" stop-color="#7ecf6f"/><stop offset="0.167" stop-color="#7dcf6f"/><stop offset="0.208" stop-color="#7ace70"/><stop offset="0.25" stop-color="#7dcf6f"/><stop offset="0.292" stop-color="#7bce6f"/><stop offset="0.333" stop-color="#72cb72"/><stop offset="0.375" stop-color="#6eca73"/><stop offset="0.417" stop-color="#6fca73"/><stop offset="0.458" stop-color="#70cb73"/><stop offset="0.5" stop-color="#72cb72"/><stop offset="0.542" stop-color="#75cc71"/><stop offset="0.583" stop-color="#73cc72"/><stop offset="0.625" stop-color="#68c875"/><stop offset="0.667" stop-color="#4ebb7d"/><stop offset="0.708" stop-color="#31a984"/><stop offset="0.75" stop-color="#229187"/><stop offset="0.792" stop-color="#1a7688"/><stop offset="0.833" stop-color="#175d85"/><stop offset="0.875" stop-color="#18417e"/><stop offset="0.917" stop-color="#1b2273"/><stop offset="0.958" stop-color="#1e0e6f"/><stop offset="1" stop-color="#1e096d"/></linearGradient><linearGradient id="a97"><stop offset="0" stop-color="#85d16d"/><stop offset="0.0417" stop-color="#7ace70"/><stop offset="0.0833" stop-color="#79ce70"/><stop offset="0.125" stop-color="#79ce70"/><stop offset="0.167" stop-color="#78cd70"/><stop offset="0.208" stop-color="#78cd70"/><stop offset="0.25" stop-color="#7fd06e"/><stop offset="0.292" stop-color="#81d06e"/><stop offset="0.333" stop-color="#78cd70"/><stop offset="0.375" stop-color="#75cc71"/><stop offset="0.417" stop-color="#75cc71"/><stop offset="0.458" stop-color="#75cc71"/><stop offset="0.5" stop-color="#77cd71"/><stop offset="0.542" stop-color="#7ace70"/><stop offset="0.583" stop-color="#78cd70"/><stop offset="0.625" stop-color="#6cc974"/><stop offset="0.667" stop-color="#51bd7c"/><stop offset="0.708" stop-color="#34ab83"/><stop offset="0.75" stop-color="#239486"/><stop offset="0.792" stop-color="#1a7889"/><stop offset="0.833" stop-color="#175e86"/><stop offset="0.875" stop-color="#18427e"/><stop offset="0.917" stop-color="#1b2373"/><stop offset="0.958" stop-color="#1e0f6f"/><stop offset="1" stop-color="#1e096d"/></linearGradient><linearGradient id="a98"><stop offset="0" stop-color="#7bce6f"/><stop offset="0.0417" stop-color="#74cc72"/><stop offset="0.0833" stop-color="#73cc72"/><stop offset="0.125" stop-color="#73cc72"/><stop offset="0.167" stop-color="#73cc72"/><stop offset="0.208" stop-color="#76cd71"/><stop offset="0.25" stop-color="#80d06e"/><stop offset="0.292" stop-color="#87d26d"/><stop offset="0.333" stop-color="#7dcf6f"/><stop offset="0.375" stop-color="#7ace70"/><stop offset="0.417" stop-color="#7bce70"/><stop offset="0.458" stop-color="#7bce70"/><stop offset="0.5" stop-color="#7ccf6f"/><stop offset="0.542" stop-color="#7fd06e"/><stop offset="0.583" stop-color="#7dcf6f"/><stop offset="0.625" stop-color="#70cb73"/><stop offset="0.667" stop-color="#54bf7b"/><stop offset="0.708" stop-color="#37ac83"/><stop offset="0.75" stop-color="#249686"/><stop offset="0.792" stop-color="#1a7b89"/><stop offset="0.833" stop-color="#175f86"/><stop offset="0.875" stop-color="#17437f"/><stop offset="0.917" stop-color="#1b2474"/><stop offset="0.958" stop-color="#1e0f6f"/><stop offset="1" stop-color="#1e096d"/></linearGradient><linearGradient id="a99"><stop offset="0" stop-color="#73cc72"/><stop offset="0.0417" stop-color="#6dca74"/><stop offset="0.0833" stop-color="#6dca74"/><stop offset="0.125" stop-color="#6dca74"/><stop offset="0.167" stop-color="#6eca73"/><stop offset="0.208" stop-color="#72cb72"/><stop offset="0.25" stop-color="#80d06e"/><stop offset="0.292" stop-color="#8ad36c"/><stop offset="0.333" stop-color="#82d06e"/><stop offset="0.375" stop-color="#7fd06e"/><stop offset="0.417" stop-color="#80d06e"/><stop offset="0.458" stop-color="#80d06e"/><stop offset="0.5" stop-color="#82d06e"/><stop offset="0.542" stop-color="#84d16d"/><stop offset="0.583" stop-color="#83d16d"/><stop offset="0.625" stop-color="#75cc71"/><stop offset="0.667" stop-color="#57c17a"/><stop offset="0.708" stop-color="#39ae82"/><stop offset="0.75" stop-color="#259886"/><stop offset="0.792" stop-color="#1b7d89"/><stop offset="0.833" stop-color="#176186"/><stop offset="0.875" stop-color="#17447f"/><stop offset="0.917" stop-color="#1b2574"/><stop offset="0.958" stop-color="#1e0f6f"/><stop offset="1" stop-color="#1e0a6d"/></linearGradient><linearGradient id="a100"><stop offset="0" stop-color="#6ac975"/><stop offset="0.0417" stop-color="#66c776"/><stop offset="0.0833" stop-color="#67c876"/><stop offset="0.125" stop-color="#66c776"/><stop offset="0.167" stop-color="#69c875"/><stop offset="0.208" stop-color="#6eca74"/><stop offset="0.25" stop-color="#7ecf6e"/><stop offset="0.292" stop-color="#8bd36c"/><stop offset="0.333" stop-color="#85d16d"/><stop offset="0.375" stop-color="#84d16d"/><stop offset="0.417" stop-color="#86d16d"/><stop offset="0.458" stop-color="#84d16d"/><stop offset="0.5" stop-color="#87d26d"/><stop offset="0.542" stop-color="#8ad36c"/><stop offset="0.583" stop-color="#88d26c"/><stop offset="0.625" stop-color="#7ace70"/><stop offset="0.667" stop-color="#5bc379"/><stop offset="0.708" stop-color="#3cb081"/><stop offset="0.75" stop-color="#279a86"/><stop offset="0.792" stop-color="#1b7f89"/><stop offset="0.833" stop-color="#176387"/><stop offset="0.875" stop-color="#174580"/><stop offset="0.917" stop-color="#1b2674"/><stop offset="0.958" stop-color="#1e0f6f"/><stop offset="1" stop-color="#1e0b6e"/></linearGradient><linearGradient id="a101"><stop offset="0" stop-color="#61c677"/><stop offset="0.0417" stop-color="#5fc578"/><stop offset="0.0833" stop-color="#60c578"/><stop offset="0.125" stop-color="#61c677"/><stop offset="0.167" stop-color="#64c777"/><stop offset="0.208" stop-color="#69c875"/><stop offset="0.25" stop-color="#7bce6f"/><stop offset="0.292" stop-color="#8ad36c"/><stop offset="0.333" stop-color="#87d26d"/><stop offset="0.375" stop-color="#87d26c"/><stop offset="0.417" stop-color="#8ad36c"/><stop offset="0.458" stop-color="#89d26c"/><stop offset="0.5" stop-color="#8bd36c"/><stop offset="0.542" stop-color="#8fd46b"/><stop offset="0.583" stop-color="#8ed46b"/><stop offset="0.625" stop-color="#80d06e"/><stop offset="0.667" stop-color="#5ec578"/><stop offset="0.708" stop-color="#3fb281"/><stop offset="0.75" stop-color="#289c85"/><stop offset="0.792" stop-color="#1c8189"/><stop offset="0.833" stop-color="#176487"/><stop offset="0.875" stop-color="#174680"/><stop offset="0.917" stop-color="#1b2775"/><stop offset="0.958" stop-color="#1e106f"/><stop offset="1" stop-color="#1e0b6e"/></linearGradient><linearGradient id="a102"><stop offset="0" stop-color="#5bc279"/><stop offset="0.0417" stop-color="#5ac27a"/><stop offset="0.0833" stop-color="#5cc379"/><stop offset="0.125" stop-color="#5cc479"/><stop offset="0.167" stop-color="#5fc578"/><stop offset="0.208" stop-color="#64c777"/><stop offset="0.25" stop-color="#77cd71"/><stop offset="0.292" stop-color="#87d26d"/><stop offset="0.333" stop-color="#87d26c"/><stop offset="0.375" stop-color="#89d26c"/><stop offset="0.417" stop-color="#8dd36b"/><stop offset="0.458" stop-color="#8cd36b"/><stop offset="0.5" stop-color="#90d46b"/><stop offset="0.542" stop-color="#94d56a"/><stop offset="0.583" stop-color="#94d56a"/><stop offset="0.625" stop-color="#86d26d"/><stop offset="0.667" stop-color="#64c777"/><stop offset="0.708" stop-color="#42b480"/><stop offset="0.75" stop-color="#299e85"/><stop offset="0.792" stop-color="#1d8388"/><stop offset="0.833" stop-color="#176687"/><stop offset="0.875" stop-color="#174880"/><stop offset="0.917" stop-color="#1b2875"/><stop offset="0.958" stop-color="#1e106f"/><stop offset="1" stop-color="#1e0b6e"/></linearGradient><linearGradient id="a103"><stop offset="0" stop-color="#54bf7b"/><stop offset="0.0417" stop-color="#54bf7b"/><stop offset="0.0833" stop-color="#57c17a"/><stop offset="0.125" stop-color="#59c27a"/><stop offset="0.167" stop-color="#5bc379"/><stop offset="0.208" stop-color="#5fc578"/><stop offset="0.25" stop-color="#72cb72"/><stop offset="0.292" stop-color="#83d16d"/><stop offset="0.333" stop-color="#86d26d"/><stop offset="0.375" stop-color="#8ad36c"/><stop offset="0.417" stop-color="#8ed46b"/><stop offset="0.458" stop-color="#8fd46b"/><stop offset="0.5" stop-color="#93d56a"/><stop offset="0.542" stop-color="#99d769"/><stop offset="0.583" stop-color="#99d769"/><stop offset="0.625" stop-color="#8dd36b"/><stop offset="0.667" stop-color="#69c875"/><stop offset="0.708" stop-color="#45b67f"/><stop offset="0.75" stop-color="#2ba085"/><stop offset="0.792" stop-color="#1e8688"/><stop offset="0.833" stop-color="#186887"/><stop offset="0.875" stop-color="#174981"/><stop offset="0.917" stop-color="#1b2975"/><stop offset="0.958" stop-color="#1d106f"/><stop offset="1" stop-color="#1e0b6e"/></linearGradient><linearGradient id="a104"><stop offset="0" stop-color="#4ebc7d"/><stop offset="0.0417" stop-color="#4fbc7c"/><stop offset="0.0833" stop-color="#53be7b"/><stop offset="0.125" stop-color="#56c07b"/><stop offset="0.167" stop-color="#58c17a"/><stop offset="0.208" stop-color="#5cc379"/><stop offset="0.25" stop-color="#6dca74"/><stop offset="0.292" stop-color="#7ecf6f"/><stop offset="0.333" stop-color="#84d16d"/><stop offset="0.375" stop-color="#89d26c"/><stop offset="0.417" stop-color="#8dd46b"/><stop offset="0.458" stop-color="#91d56a"/><stop offset="0.5" stop-color="#97d669"/><stop offset="0.542" stop-color="#9dd868"/><stop offset="0.583" stop-color="#9ed867"/><stop offset="0.625" stop-color="#94d56a"/><stop offset="0.667" stop-color="#70cb73"/><stop offset="0.708" stop-color="#49b97e"/><stop offset="0.75" stop-color="#2ca385"/><stop offset="0.792" stop-color="#1f8888"/><stop offset="0.833" stop-color="#186b88"/><stop offset="0.875" stop-color="#174b81"/><stop offset="0.917" stop-color="#1a2a76"/><stop offset="0.958" stop-color="#1d126f"/><stop offset="1" stop-color="#1e0b6e"/></linearGradient><linearGradient id="a105"><stop offset="0" stop-color="#49b87e"/><stop offset="0.0417" stop-color="#4ab97e"/><stop offset="0.0833" stop-color="#4fbc7d"/><stop offset="0.125" stop-color="#53be7b"/><stop offset="0.167" stop-color="#55bf7b"/><stop offset="0.208" stop-color="#59c27a"/><stop offset="0.25" stop-color="#68c875"/><stop offset="0.292" stop-color="#79ce70"/><stop offset="0.333" stop-color="#82d06e"/><stop offset="0.375" stop-color="#87d26d"/><stop offset="0.417" stop-color="#8cd36b"/><stop offset="0.458" stop-color="#92d56a"/><stop offset="0.5" stop-color="#9ad768"/><stop offset="0.542" stop-color="#a1d967"/><stop offset="0.583" stop-color="#a4da66"/><stop offset="0.625" stop-color="#9bd768"/><stop offset="0.667" stop-color="#76cd71"/><stop offset="0.708" stop-color="#4dbb7d"/><stop offset="0.75" stop-color="#2ea584"/><stop offset="0.792" stop-color="#208b87"/><stop offset="0.833" stop-color="#186d88"/><stop offset="0.875" stop-color="#174d82"/><stop offset="0.917" stop-color="#1a2c77"/><stop offset="0.958" stop-color="#1d1470"/><stop offset="1" stop-color="#1e0c6e"/></linearGradient><linearGradient id="a106"><stop offset="0" stop-color="#43b580"/><stop offset="0.0417" stop-color="#45b77f"/><stop offset="0.0833" stop-color="#4bba7e"/><stop offset="0.125" stop-color="#50bc7c"/><stop offset="0.167" stop-color="#52be7c"/><stop offset="0.208" stop-color="#56c07a"/><stop offset="0.25" stop-color="#63c677"/><stop offset="0.292" stop-color="#75cc71"/><stop offset="0.333" stop-color="#7fd06e"/><stop offset="0.375" stop-color="#84d16d"/><stop offset="0.417" stop-color="#8ad36c"/><stop offset="0.458" stop-color="#93d56a"/><stop offset="0.5" stop-color="#9cd868"/><stop offset="0.542" stop-color="#a5da66"/><stop offset="0.583" stop-color="#aadb65"/><stop offset="0.625" stop-color="#a1d967"/><stop offset="0.667" stop-color="#7ccf6f"/><stop offset="0.708" stop-color="#51bd7c"/><stop offset="0.75" stop-color="#30a784"/><stop offset="0.792" stop-color="#218e87"/><stop offset="0.833" stop-color="#197088"/><stop offset="0.875" stop-color="#174e82"/><stop offset="0.917" stop-color="#1a2e77"/><stop offset="0.958" stop-color="#1d1771"/><stop offset="1" stop-color="#1e0d6e"/></linearGradient><linearGradient id="a107"><stop offset="0" stop-color="#3fb281"/><stop offset="0.0417" stop-color="#42b480"/><stop offset="0.0833" stop-color="#47b87f"/><stop offset="0.125" stop-color="#4dbb7d"/><stop offset="0.167" stop-color="#4fbc7c"/><stop offset="0.208" stop-color="#54bf7b"/><stop offset="0.25" stop-color="#5fc578"/><stop offset="0.292" stop-color="#70cb73"/><stop offset="0.333" stop-color="#7bce6f"/><stop offset="0.375" stop-color="#81d06e"/><stop offset="0.417" stop-color="#88d26c"/><stop offset="0.458" stop-color="#94d56a"/><stop offset="0.5" stop-color="#9ed867"/><stop offset="0.542" stop-color="#a8db65"/><stop offset="0.583" stop-color="#b0dc64"/><stop offset="0.625" stop-color="#a7da66"/><stop offset="0.667" stop-color="#82d16e"/><stop offset="0.708" stop-color="#55c07b"/><stop offset="0.75" stop-color="#32aa83"/><stop offset="0.792" stop-color="#229187"/><stop offset="0.833" stop-color="#197288"/><stop offset="0.875" stop-color="#175082"/><stop offset="0.917" stop-color="#1a3078"/><stop offset="0.958" stop-color="#1c1971"/><stop offset="1" stop-color="#1e0e6e"/></linearGradient></defs>
<clipPath id="ac"><rect x="111.0" y="22.1" width="321.0" height="321.9"/></clipPath><g clip-path="url(#ac)" shape-rendering="crispEdges">
<rect x="111.0" y="22" width="321.0" height="3" fill="url(#a0)"/>
<rect x="111.0" y="25" width="321.0" height="3" fill="url(#a1)"/>
<rect x="111.0" y="28" width="321.0" height="3" fill="url(#a2)"/>
<rect x="111.0" y="31" width="321.0" height="3" fill="url(#a3)"/>
<rect x="111.0" y="34" width="321.0" height="3" fill="url(#a4)"/>
<rect x="111.0" y="37" width="321.0" height="2" fill="url(#a5)"/>
<rect x="111.0" y="39" width="321.0" height="3" fill="url(#a6)"/>
<rect x="111.0" y="42" width="321.0" height="3" fill="url(#a7)"/>
<rect x="111.0" y="45" width="321.0" height="3" fill="url(#a8)"/>
<rect x="111.0" y="48" width="321.0" height="3" fill="url(#a9)"/>
<rect x="111.0" y="51" width="321.0" height="3" fill="url(#a10)"/>
<rect x="111.0" y="54" width="321.0" height="3" fill="url(#a11)"/>
<rect x="111.0" y="57" width="321.0" height="3" fill="url(#a12)"/>
<rect x="111.0" y="60" width="321.0" height="3" fill="url(#a13)"/>
<rect x="111.0" y="63" width="321.0" height="3" fill="url(#a14)"/>
<rect x="111.0" y="66" width="321.0" height="3" fill="url(#a15)"/>
<rect x="111.0" y="69" width="321.0" height="3" fill="url(#a16)"/>
<rect x="111.0" y="72" width="321.0" height="3" fill="url(#a17)"/>
<rect x="111.0" y="75" width="321.0" height="3" fill="url(#a18)"/>
<rect x="111.0" y="78" width="321.0" height="3" fill="url(#a19)"/>
<rect x="111.0" y="81" width="321.0" height="3" fill="url(#a20)"/>
<rect x="111.0" y="84" width="321.0" height="3" fill="url(#a21)"/>
<rect x="111.0" y="87" width="321.0" height="3" fill="url(#a22)"/>
<rect x="111.0" y="90" width="321.0" height="3" fill="url(#a23)"/>
<rect x="111.0" y="93" width="321.0" height="3" fill="url(#a24)"/>
<rect x="111.0" y="96" width="321.0" height="3" fill="url(#a25)"/>
<rect x="111.0" y="99" width="321.0" height="3" fill="url(#a26)"/>
<rect x="111.0" y="102" width="321.0" height="3" fill="url(#a27)"/>
<rect x="111.0" y="105" width="321.0" height="3" fill="url(#a28)"/>
<rect x="111.0" y="108" width="321.0" height="3" fill="url(#a29)"/>
<rect x="111.0" y="111" width="321.0" height="3" fill="url(#a30)"/>
<rect x="111.0" y="114" width="321.0" height="3" fill="url(#a31)"/>
<rect x="111.0" y="117" width="321.0" height="3" fill="url(#a32)"/>
<rect x="111.0" y="120" width="321.0" height="3" fill="url(#a33)"/>
<rect x="111.0" y="123" width="321.0" height="3" fill="url(#a34)"/>
<rect x="111.0" y="126" width="321.0" height="3" fill="url(#a35)"/>
<rect x="111.0" y="129" width="321.0" height="3" fill="url(#a36)"/>
<rect x="111.0" y="132" width="321.0" height="3" fill="url(#a37)"/>
<rect x="111.0" y="135" width="321.0" height="3" fill="url(#a38)"/>
<rect x="111.0" y="138" width="321.0" height="3" fill="url(#a39)"/>
<rect x="111.0" y="141" width="321.0" height="3" fill="url(#a40)"/>
<rect x="111.0" y="144" width="321.0" height="3" fill="url(#a41)"/>
<rect x="111.0" y="147" width="321.0" height="3" fill="url(#a42)"/>
<rect x="111.0" y="150" width="321.0" height="3" fill="url(#a43)"/>
<rect x="111.0" y="153" width="321.0" height="3" fill="url(#a44)"/>
<rect x="111.0" y="156" width="321.0" height="3" fill="url(#a45)"/>
<rect x="111.0" y="159" width="321.0" height="3" fill="url(#a46)"/>
<rect x="111.0" y="162" width="321.0" height="3" fill="url(#a47)"/>
<rect x="111.0" y="165" width="321.0" height="3" fill="url(#a48)"/>
<rect x="111.0" y="168" width="321.0" height="3" fill="url(#a49)"/>
<rect x="111.0" y="171" width="321.0" height="3" fill="url(#a50)"/>
<rect x="111.0" y="174" width="321.0" height="3" fill="url(#a51)"/>
<rect x="111.0" y="177" width="321.0" height="3" fill="url(#a52)"/>
<rect x="111.0" y="180" width="321.0" height="3" fill="url(#a53)"/>
<rect x="111.0" y="183" width="321.0" height="3" fill="url(#a54)"/>
<rect x="111.0" y="186" width="321.0" height="3" fill="url(#a55)"/>
<rect x="111.0" y="189" width="321.0" height="2" fill="url(#a56)"/>
<rect x="111.0" y="191" width="321.0" height="3" fill="url(#a57)"/>
<rect x="111.0" y="194" width="321.0" height="3" fill="url(#a58)"/>
<rect x="111.0" y="197" width="321.0" height="3" fill="url(#a59)"/>
<rect x="111.0" y="200" width="321.0" height="3" fill="url(#a60)"/>
<rect x="111.0" y="203" width="321.0" height="3" fill="url(#a61)"/>
<rect x="111.0" y="206" width="321.0" height="3" fill="url(#a62)"/>
<rect x="111.0" y="209" width="321.0" height="3" fill="url(#a63)"/>
<rect x="111.0" y="212" width="321.0" height="3" fill="url(#a64)"/>
<rect x="111.0" y="215" width="321.0" height="3" fill="url(#a65)"/>
<rect x="111.0" y="218" width="321.0" height="3" fill="url(#a66)"/>
<rect x="111.0" y="221" width="321.0" height="3" fill="url(#a67)"/>
<rect x="111.0" y="224" width="321.0" height="3" fill="url(#a68)"/>
<rect x="111.0" y="227" width="321.0" height="3" fill="url(#a69)"/>
<rect x="111.0" y="230" width="321.0" height="3" fill="url(#a70)"/>
<rect x="111.0" y="233" width="321.0" height="3" fill="url(#a71)"/>
<rect x="111.0" y="236" width="321.0" height="3" fill="url(#a72)"/>
<rect x="111.0" y="239" width="321.0" height="3" fill="url(#a73)"/>
<rect x="111.0" y="242" width="321.0" height="3" fill="url(#a74)"/>
<rect x="111.0" y="245" width="321.0" height="3" fill="url(#a75)"/>
<rect x="111.0" y="248" width="321.0" height="3" fill="url(#a76)"/>
<rect x="111.0" y="251" width="321.0" height="3" fill="url(#a77)"/>
<rect x="111.0" y="254" width="321.0" height="3" fill="url(#a78)"/>
<rect x="111.0" y="257" width="321.0" height="3" fill="url(#a79)"/>
<rect x="111.0" y="260" width="321.0" height="3" fill="url(#a80)"/>
<rect x="111.0" y="263" width="321.0" height="3" fill="url(#a81)"/>
<rect x="111.0" y="266" width="321.0" height="3" fill="url(#a82)"/>
<rect x="111.0" y="269" width="321.0" height="3" fill="url(#a83)"/>
<rect x="111.0" y="272" width="321.0" height="3" fill="url(#a84)"/>
<rect x="111.0" y="275" width="321.0" height="3" fill="url(#a85)"/>
<rect x="111.0" y="278" width="321.0" height="3" fill="url(#a86)"/>
<rect x="111.0" y="281" width="321.0" height="3" fill="url(#a87)"/>
<rect x="111.0" y="284" width="321.0" height="3" fill="url(#a88)"/>
<rect x="111.0" y="287" width="321.0" height="3" fill="url(#a89)"/>
<rect x="111.0" y="290" width="321.0" height="3" fill="url(#a90)"/>
<rect x="111.0" y="293" width="321.0" height="3" fill="url(#a91)"/>
<rect x="111.0" y="296" width="321.0" height="3" fill="url(#a92)"/>
<rect x="111.0" y="299" width="321.0" height="3" fill="url(#a93)"/>
<rect x="111.0" y="302" width="321.0" height="3" fill="url(#a94)"/>
<rect x="111.0" y="305" width="321.0" height="3" fill="url(#a95)"/>
<rect x="111.0" y="308" width="321.0" height="3" fill="url(#a96)"/>
<rect x="111.0" y="311" width="321.0" height="3" fill="url(#a97)"/>
<rect x="111.0" y="314" width="321.0" height="3" fill="url(#a98)"/>
<rect x="111.0" y="317" width="321.0" height="3" fill="url(#a99)"/>
<rect x="111.0" y="320" width="321.0" height="3" fill="url(#a100)"/>
<rect x="111.0" y="323" width="321.0" height="3" fill="url(#a101)"/>
<rect x="111.0" y="326" width="321.0" height="3" fill="url(#a102)"/>
<rect x="111.0" y="329" width="321.0" height="3" fill="url(#a103)"/>
<rect x="111.0" y="332" width="321.0" height="3" fill="url(#a104)"/>
<rect x="111.0" y="335" width="321.0" height="3" fill="url(#a105)"/>
<rect x="111.0" y="338" width="321.0" height="3" fill="url(#a106)"/>
<rect x="111.0" y="341" width="321.0" height="3" fill="url(#a107)"/>
</g>
<g fill="none" stroke="#000" stroke-opacity="0.34" stroke-width="1.3" stroke-linejoin="round"><path d="M111.5 34.8 L123.8 34.8 L134.0 32.5 L143.0 28.0 L150.4 22.0"/><path d="M271.2 22.0 L265.9 43.6 L259.9 61.4 L257.8 75.0 L257.6 91.0 L262.0 104.0 L265.9 111.7 L277.7 120.6 L289.5 125.0 L307.3 128.0 L313.2 128.6 L354.7 130.9 L366.5 131.5 L382.8 130.9 L386.6 136.8 L389.6 157.6 L386.6 184.2 L384.3 213.8 L382.8 238.0 L384.3 264.6 L387.2 294.2 L391.7 323.8 L396.1 343.7"/><path d="M111.5 148.1 L126.7 148.7 L144.5 154.0 L165.2 166.4 L194.8 185.7 L224.4 201.4 L242.2 207.9 L258.5 211.4 L283.6 210.8 L313.2 207.9 L331.0 205.5 L339.9 216.8 L345.8 228.6 L347.3 235.0 L350.2 252.8 L353.2 279.4 L360.6 309.0 L368.0 329.7 L373.9 343.7"/><path d="M111.5 176.8 L126.7 184.2 L144.5 194.6 L165.2 210.8 L183.0 225.7 L193.3 235.0 L206.7 242.4 L224.4 251.3 L242.2 256.3 L262.9 258.7 L283.6 257.5 L314.7 255.1 L320.6 267.6 L328.0 285.3 L339.9 312.0 L347.3 329.7 L353.2 343.7"/><path d="M111.5 200.5 L123.8 207.9 L135.6 219.7 L147.4 236.0 L162.2 249.8 L177.0 270.5 L194.8 291.2 L209.6 298.6 L224.4 302.5 L245.1 302.5 L271.8 299.5 L295.5 295.7 L313.2 304.6 L319.1 314.9 L331.0 335.7 L335.4 343.7"/><path d="M111.5 224.2 L119.3 231.6 L122.3 236.0 L131.2 249.8 L135.6 270.5 L134.1 285.3 L126.7 295.7 L111.5 303.1"/><path d="M111.5 325.3 L123.8 324.4 L140.0 325.3 L150.4 325.3 L162.2 326.8 L178.5 330.3 L185.9 337.1 L193.3 343.7"/><path d="M279.2 343.7 L286.6 338.6 L295.5 337.1 L307.3 338.6 L314.7 343.7"/></g>
<g class="cl" clip-path="url(#ac)" font-family="'Liberation Sans',Arial,sans-serif" font-size="20" fill="#000"><g transform="translate(128.5 33.2) rotate(0)"><rect x="-5.8" y="-11.5" width="11.5" height="23.0" fill="#fff" fill-opacity="0.5"/><text x="0" y="7.1" text-anchor="middle">4</text></g><g transform="translate(360.5 131.5) rotate(0)"><rect x="-5.8" y="-11.5" width="11.5" height="23.0" fill="#fff" fill-opacity="0.5"/><text x="0" y="7.1" text-anchor="middle">2</text></g><g transform="translate(263.5 211.2) rotate(0)"><rect x="-5.8" y="-11.5" width="11.5" height="23.0" fill="#fff" fill-opacity="0.5"/><text x="0" y="7.1" text-anchor="middle">4</text></g><g transform="translate(231.0 253.0) rotate(0)"><rect x="-5.8" y="-11.5" width="11.5" height="23.0" fill="#fff" fill-opacity="0.5"/><text x="0" y="7.1" text-anchor="middle">6</text></g><g transform="translate(229.8 302.8) rotate(0)"><rect x="-5.8" y="-11.5" width="11.5" height="23.0" fill="#fff" fill-opacity="0.5"/><text x="0" y="7.1" text-anchor="middle">8</text></g><g transform="translate(134.7 283.4) rotate(0)"><rect x="-11.5" y="-11.5" width="23.0" height="23.0" fill="#fff" fill-opacity="0.5"/><text x="0" y="7.1" text-anchor="middle">10</text></g><g transform="translate(145.3 324.7) rotate(0)"><rect x="-5.8" y="-11.5" width="11.5" height="23.0" fill="#fff" fill-opacity="0.5"/><text x="0" y="7.1" text-anchor="middle">8</text></g><g transform="translate(292.5 336.3) rotate(0)"><rect x="-11.5" y="-10.5" width="23.0" height="21.0" fill="#fff" fill-opacity="0.5"/><text x="0" y="7.1" text-anchor="middle">10</text></g></g>
</g>
<!-- panel b heat map -->
<g>
<defs><linearGradient id="b0"><stop offset="0" stop-color="#1f046c"/><stop offset="0.0417" stop-color="#1e0b6e"/><stop offset="0.0833" stop-color="#1d126f"/><stop offset="0.125" stop-color="#1c1971"/><stop offset="0.167" stop-color="#1c2173"/><stop offset="0.208" stop-color="#1b2875"/><stop offset="0.25" stop-color="#1a2e77"/><stop offset="0.292" stop-color="#193479"/><stop offset="0.333" stop-color="#19397b"/><stop offset="0.375" stop-color="#183e7d"/><stop offset="0.417" stop-color="#18427e"/><stop offset="0.458" stop-color="#174680"/><stop offset="0.5" stop-color="#174981"/><stop offset="0.542" stop-color="#174d82"/><stop offset="0.583" stop-color="#175183"/><stop offset="0.625" stop-color="#175684"/><stop offset="0.667" stop-color="#175b85"/><stop offset="0.708" stop-color="#176186"/><stop offset="0.75" stop-color="#176787"/><stop offset="0.792" stop-color="#186d88"/><stop offset="0.833" stop-color="#197388"/><stop offset="0.875" stop-color="#1a7989"/><stop offset="0.917" stop-color="#1b7e89"/><stop offset="0.958" stop-color="#1c8289"/><stop offset="1" stop-color="#1d8488"/></linearGradient><linearGradient id="b1"><stop offset="0" stop-color="#1f056c"/><stop offset="0.0417" stop-color="#1e0b6e"/><stop offset="0.0833" stop-color="#1d126f"/><stop offset="0.125" stop-color="#1c1a71"/><stop offset="0.167" stop-color="#1b2173"/><stop offset="0.208" stop-color="#1b2875"/><stop offset="0.25" stop-color="#1a2f78"/><stop offset="0.292" stop-color="#19357a"/><stop offset="0.333" stop-color="#183a7c"/><stop offset="0.375" stop-color="#183f7d"/><stop offset="0.417" stop-color="#17437f"/><stop offset="0.458" stop-color="#174680"/><stop offset="0.5" stop-color="#174a81"/><stop offset="0.542" stop-color="#174e82"/><stop offset="0.583" stop-color="#175283"/><stop offset="0.625" stop-color="#175784"/><stop offset="0.667" stop-color="#175c85"/><stop offset="0.708" stop-color="#176286"/><stop offset="0.75" stop-color="#186887"/><stop offset="0.792" stop-color="#186e88"/><stop offset="0.833" stop-color="#197488"/><stop offset="0.875" stop-color="#1a7a89"/><stop offset="0.917" stop-color="#1b7f89"/><stop offset="0.958" stop-color="#1c8389"/><stop offset="1" stop-color="#1d8488"/></linearGradient><linearGradient id="b2"><stop offset="0" stop-color="#1f066c"/><stop offset="0.0417" stop-color="#1e0c6e"/><stop offset="0.0833" stop-color="#1d1370"/><stop offset="0.125" stop-color="#1c1b71"/><stop offset="0.167" stop-color="#1b2273"/><stop offset="0.208" stop-color="#1a2976"/><stop offset="0.25" stop-color="#1a3078"/><stop offset="0.292" stop-color="#19367a"/><stop offset="0.333" stop-color="#183b7c"/><stop offset="0.375" stop-color="#183f7e"/><stop offset="0.417" stop-color="#17437f"/><stop offset="0.458" stop-color="#174780"/><stop offset="0.5" stop-color="#174b81"/><stop offset="0.542" stop-color="#174f82"/><stop offset="0.583" stop-color="#175383"/><stop offset="0.625" stop-color="#175784"/><stop offset="0.667" stop-color="#175d85"/><stop offset="0.708" stop-color="#176387"/><stop offset="0.75" stop-color="#186887"/><stop offset="0.792" stop-color="#196f88"/><stop offset="0.833" stop-color="#1a7588"/><stop offset="0.875" stop-color="#1a7b89"/><stop offset="0.917" stop-color="#1b8089"/><stop offset="0.958" stop-color="#1d8388"/><stop offset="1" stop-color="#1d8588"/></linearGradient><linearGradient id="b3"><stop offset="0" stop-color="#1f076d"/><stop offset="0.0417" stop-color="#1e0d6e"/><stop offset="0.0833" stop-color="#1d1470"/><stop offset="0.125" stop-color="#1c1b72"/><stop offset="0.167" stop-color="#1b2374"/><stop offset="0.208" stop-color="#1a2a76"/><stop offset="0.25" stop-color="#1a3178"/><stop offset="0.292" stop-color="#19377a"/><stop offset="0.333" stop-color="#183c7c"/><stop offset="0.375" stop-color="#18407e"/><stop offset="0.417" stop-color="#17447f"/><stop offset="0.458" stop-color="#174880"/><stop offset="0.5" stop-color="#174b81"/><stop offset="0.542" stop-color="#174f82"/><stop offset="0.583" stop-color="#175383"/><stop offset="0.625" stop-color="#175884"/><stop offset="0.667" stop-color="#175d85"/><stop offset="0.708" stop-color="#176387"/><stop offset="0.75" stop-color="#186987"/><stop offset="0.792" stop-color="#196f88"/><stop offset="0.833" stop-color="#1a7688"/><stop offset="0.875" stop-color="#1b7c89"/><stop offset="0.917" stop-color="#1c8189"/><stop offset="0.958" stop-color="#1d8488"/><stop offset="1" stop-color="#1e8688"/></linearGradient><linearGradient id="b4"><stop offset="0" stop-color="#1f086d"/><stop offset="0.0417" stop-color="#1e0e6e"/><stop offset="0.0833" stop-color="#1d1570"/><stop offset="0.125" stop-color="#1c1c72"/><stop offset="0.167" stop-color="#1b2474"/><stop offset="0.208" stop-color="#1a2b76"/><stop offset="0.25" stop-color="#193179"/><stop offset="0.292" stop-color="#19377b"/><stop offset="0.333" stop-color="#183d7d"/><stop offset="0.375" stop-color="#18417e"/><stop offset="0.417" stop-color="#174580"/><stop offset="0.458" stop-color="#174981"/><stop offset="0.5" stop-color="#174c81"/><stop offset="0.542" stop-color="#175082"/><stop offset="0.583" stop-color="#175483"/><stop offset="0.625" stop-color="#175984"/><stop offset="0.667" stop-color="#175e86"/><stop offset="0.708" stop-color="#176487"/><stop offset="0.75" stop-color="#186a87"/><stop offset="0.792" stop-color="#197088"/><stop offset="0.833" stop-color="#1a7788"/><stop offset="0.875" stop-color="#1b7d89"/><stop offset="0.917" stop-color="#1c8289"/><stop offset="0.958" stop-color="#1d8588"/><stop offset="1" stop-color="#1e8788"/></linearGradient><linearGradient id="b5"><stop offset="0" stop-color="#1e086d"/><stop offset="0.0417" stop-color="#1e0f6f"/><stop offset="0.0833" stop-color="#1d1670"/><stop offset="0.125" stop-color="#1c1d72"/><stop offset="0.167" stop-color="#1b2574"/><stop offset="0.208" stop-color="#1a2c76"/><stop offset="0.25" stop-color="#193279"/><stop offset="0.292" stop-color="#19387b"/><stop offset="0.333" stop-color="#183e7d"/><stop offset="0.375" stop-color="#17427f"/><stop offset="0.417" stop-color="#174680"/><stop offset="0.458" stop-color="#174981"/><stop offset="0.5" stop-color="#174d82"/><stop offset="0.542" stop-color="#175183"/><stop offset="0.583" stop-color="#175584"/><stop offset="0.625" stop-color="#175a85"/><stop offset="0.667" stop-color="#175f86"/><stop offset="0.708" stop-color="#176587"/><stop offset="0.75" stop-color="#186b88"/><stop offset="0.792" stop-color="#197188"/><stop offset="0.833" stop-color="#1a7888"/><stop offset="0.875" stop-color="#1b7e89"/><stop offset="0.917" stop-color="#1d8388"/><stop offset="0.958" stop-color="#1e8688"/><stop offset="1" stop-color="#1e8788"/></linearGradient><linearGradient id="b6"><stop offset="0" stop-color="#1e096d"/><stop offset="0.0417" stop-color="#1e106f"/><stop offset="0.0833" stop-color="#1d1771"/><stop offset="0.125" stop-color="#1c1e72"/><stop offset="0.167" stop-color="#1b2674"/><stop offset="0.208" stop-color="#1a2d77"/><stop offset="0.25" stop-color="#193379"/><stop offset="0.292" stop-color="#19397b"/><stop offset="0.333" stop-color="#183f7d"/><stop offset="0.375" stop-color="#17437f"/><stop offset="0.417" stop-color="#174780"/><stop offset="0.458" stop-color="#174a81"/><stop offset="0.5" stop-color="#174e82"/><stop offset="0.542" stop-color="#175283"/><stop offset="0.583" stop-color="#175684"/><stop offset="0.625" stop-color="#175b85"/><stop offset="0.667" stop-color="#176086"/><stop offset="0.708" stop-color="#176687"/><stop offset="0.75" stop-color="#186c88"/><stop offset="0.792" stop-color="#197288"/><stop offset="0.833" stop-color="#1a7989"/><stop offset="0.875" stop-color="#1b7f89"/><stop offset="0.917" stop-color="#1d8488"/><stop offset="0.958" stop-color="#1e8788"/><stop offset="1" stop-color="#1f8888"/></linearGradient><linearGradient id="b7"><stop offset="0" stop-color="#1e0a6e"/><stop offset="0.0417" stop-color="#1d106f"/><stop offset="0.0833" stop-color="#1d1771"/><stop offset="0.125" stop-color="#1c1f73"/><stop offset="0.167" stop-color="#1b2775"/><stop offset="0.208" stop-color="#1a2e77"/><stop offset="0.25" stop-color="#19347a"/><stop offset="0.292" stop-color="#183a7c"/><stop offset="0.333" stop-color="#183f7e"/><stop offset="0.375" stop-color="#17447f"/><stop offset="0.417" stop-color="#174880"/><stop offset="0.458" stop-color="#174b81"/><stop offset="0.5" stop-color="#174f82"/><stop offset="0.542" stop-color="#175383"/><stop offset="0.583" stop-color="#175784"/><stop offset="0.625" stop-color="#175c85"/><stop offset="0.667" stop-color="#176186"/><stop offset="0.708" stop-color="#176787"/><stop offset="0.75" stop-color="#186d88"/><stop offset="0.792" stop-color="#197388"/><stop offset="0.833" stop-color="#1a7a89"/><stop offset="0.875" stop-color="#1b8089"/><stop offset="0.917" stop-color="#1d8588"/><stop offset="0.958" stop-color="#1e8888"/><stop offset="1" stop-color="#1f8988"/></linearGradient><linearGradient id="b8"><stop offset="0" stop-color="#1e0b6e"/><stop offset="0.0417" stop-color="#1d116f"/><stop offset="0.0833" stop-color="#1d1871"/><stop offset="0.125" stop-color="#1c2073"/><stop offset="0.167" stop-color="#1b2875"/><stop offset="0.208" stop-color="#1a2f77"/><stop offset="0.25" stop-color="#19357a"/><stop offset="0.292" stop-color="#183b7c"/><stop offset="0.333" stop-color="#18407e"/><stop offset="0.375" stop-color="#174580"/><stop offset="0.417" stop-color="#174881"/><stop offset="0.458" stop-color="#174c81"/><stop offset="0.5" stop-color="#175082"/><stop offset="0.542" stop-color="#175383"/><stop offset="0.583" stop-color="#175884"/><stop offset="0.625" stop-color="#175d85"/><stop offset="0.667" stop-color="#176287"/><stop offset="0.708" stop-color="#186887"/><stop offset="0.75" stop-color="#186e88"/><stop offset="0.792" stop-color="#197488"/><stop offset="0.833" stop-color="#1a7b89"/><stop offset="0.875" stop-color="#1c8189"/><stop offset="0.917" stop-color="#1e8688"/><stop offset="0.958" stop-color="#1f8988"/><stop offset="1" stop-color="#1f8a88"/></linearGradient><linearGradient id="b9"><stop offset="0" stop-color="#1e0c6e"/><stop offset="0.0417" stop-color="#1d126f"/><stop offset="0.0833" stop-color="#1c1971"/><stop offset="0.125" stop-color="#1b2173"/><stop offset="0.167" stop-color="#1b2975"/><stop offset="0.208" stop-color="#1a2f78"/><stop offset="0.25" stop-color="#19367a"/><stop offset="0.292" stop-color="#183c7c"/><stop offset="0.333" stop-color="#18417e"/><stop offset="0.375" stop-color="#174680"/><stop offset="0.417" stop-color="#174981"/><stop offset="0.458" stop-color="#174d82"/><stop offset="0.5" stop-color="#175082"/><stop offset="0.542" stop-color="#175483"/><stop offset="0.583" stop-color="#175984"/><stop offset="0.625" stop-color="#175e86"/><stop offset="0.667" stop-color="#176387"/><stop offset="0.708" stop-color="#186987"/><stop offset="0.75" stop-color="#196f88"/><stop offset="0.792" stop-color="#1a7588"/><stop offset="0.833" stop-color="#1b7c89"/><stop offset="0.875" stop-color="#1c8289"/><stop offset="0.917" stop-color="#1e8788"/><stop offset="0.958" stop-color="#1f8a88"/><stop offset="1" stop-color="#208b87"/></linearGradient><linearGradient id="b10"><stop offset="0" stop-color="#1e0d6e"/><stop offset="0.0417" stop-color="#1d1370"/><stop offset="0.0833" stop-color="#1c1a71"/><stop offset="0.125" stop-color="#1b2273"/><stop offset="0.167" stop-color="#1a2976"/><stop offset="0.208" stop-color="#1a3078"/><stop offset="0.25" stop-color="#19377b"/><stop offset="0.292" stop-color="#183d7d"/><stop offset="0.333" stop-color="#17427f"/><stop offset="0.375" stop-color="#174680"/><stop offset="0.417" stop-color="#174a81"/><stop offset="0.458" stop-color="#174e82"/><stop offset="0.5" stop-color="#175183"/><stop offset="0.542" stop-color="#175584"/><stop offset="0.583" stop-color="#175a85"/><stop offset="0.625" stop-color="#175f86"/><stop offset="0.667" stop-color="#176487"/><stop offset="0.708" stop-color="#186a87"/><stop offset="0.75" stop-color="#197088"/><stop offset="0.792" stop-color="#1a7788"/><stop offset="0.833" stop-color="#1b7d89"/><stop offset="0.875" stop-color="#1d8388"/><stop offset="0.917" stop-color="#1f8888"/><stop offset="0.958" stop-color="#208b87"/><stop offset="1" stop-color="#208d87"/></linearGradient><linearGradient id="b11"><stop offset="0" stop-color="#1e0e6e"/><stop offset="0.0417" stop-color="#1d1470"/><stop offset="0.0833" stop-color="#1c1b72"/><stop offset="0.125" stop-color="#1b2374"/><stop offset="0.167" stop-color="#1a2a76"/><stop offset="0.208" stop-color="#193179"/><stop offset="0.25" stop-color="#19387b"/><stop offset="0.292" stop-color="#183e7d"/><stop offset="0.333" stop-color="#17437f"/><stop offset="0.375" stop-color="#174780"/><stop offset="0.417" stop-color="#174b81"/><stop offset="0.458" stop-color="#174f82"/><stop offset="0.5" stop-color="#175283"/><stop offset="0.542" stop-color="#175684"/><stop offset="0.583" stop-color="#175b85"/><stop offset="0.625" stop-color="#176086"/><stop offset="0.667" stop-color="#176687"/><stop offset="0.708" stop-color="#186b88"/><stop offset="0.75" stop-color="#197188"/><stop offset="0.792" stop-color="#1a7888"/><stop offset="0.833" stop-color="#1b7e89"/><stop offset="0.875" stop-color="#1d8488"/><stop offset="0.917" stop-color="#1f8988"/><stop offset="0.958" stop-color="#208d87"/><stop offset="1" stop-color="#218e87"/></linearGradient><linearGradient id="b12"><stop offset="0" stop-color="#1e0f6f"/><stop offset="0.0417" stop-color="#1d1570"/><stop offset="0.0833" stop-color="#1c1c72"/><stop offset="0.125" stop-color="#1b2474"/><stop offset="0.167" stop-color="#1a2b76"/><stop offset="0.208" stop-color="#193279"/><stop offset="0.25" stop-color="#19397b"/><stop offset="0.292" stop-color="#183f7d"/><stop offset="0.333" stop-color="#17447f"/><stop offset="0.375" stop-color="#174880"/><stop offset="0.417" stop-color="#174c81"/><stop offset="0.458" stop-color="#174f82"/><stop offset="0.5" stop-color="#175383"/><stop offset="0.542" stop-color="#175784"/><stop offset="0.583" stop-color="#175c85"/><stop offset="0.625" stop-color="#176186"/><stop offset="0.667" stop-color="#176787"/><stop offset="0.708" stop-color="#186d88"/><stop offset="0.75" stop-color="#197388"/><stop offset="0.792" stop-color="#1a7989"/><stop offset="0.833" stop-color="#1b7f89"/><stop offset="0.875" stop-color="#1d8588"/><stop offset="0.917" stop-color="#208b87"/><stop offset="0.958" stop-color="#218e87"/><stop offset="1" stop-color="#218f87"/></linearGradient><linearGradient id="b13"><stop offset="0" stop-color="#1e106f"/><stop offset="0.0417" stop-color="#1d1670"/><stop offset="0.0833" stop-color="#1c1e72"/><stop offset="0.125" stop-color="#1b2574"/><stop offset="0.167" stop-color="#1a2c77"/><stop offset="0.208" stop-color="#193379"/><stop offset="0.25" stop-color="#183a7c"/><stop offset="0.292" stop-color="#18407e"/><stop offset="0.333" stop-color="#174580"/><stop offset="0.375" stop-color="#174981"/><stop offset="0.417" stop-color="#174d82"/><stop offset="0.458" stop-color="#175082"/><stop offset="0.5" stop-color="#175483"/><stop offset="0.542" stop-color="#175884"/><stop offset="0.583" stop-color="#175d85"/><stop offset="0.625" stop-color="#176287"/><stop offset="0.667" stop-color="#186887"/><stop offset="0.708" stop-color="#186e88"/><stop offset="0.75" stop-color="#197488"/><stop offset="0.792" stop-color="#1a7b89"/><stop offset="0.833" stop-color="#1c8189"/><stop offset="0.875" stop-color="#1e8688"/><stop offset="0.917" stop-color="#208c87"/><stop offset="0.958" stop-color="#229087"/><stop offset="1" stop-color="#229187"/></linearGradient><linearGradient id="b14"><stop offset="0" stop-color="#1d116f"/><stop offset="0.0417" stop-color="#1d1871"/><stop offset="0.0833" stop-color="#1c1f72"/><stop offset="0.125" stop-color="#1b2674"/><stop offset="0.167" stop-color="#1a2d77"/><stop offset="0.208" stop-color="#19347a"/><stop offset="0.25" stop-color="#183b7c"/><stop offset="0.292" stop-color="#18417e"/><stop offset="0.333" stop-color="#174680"/><stop offset="0.375" stop-color="#174a81"/><stop offset="0.417" stop-color="#174e82"/><stop offset="0.458" stop-color="#175183"/><stop offset="0.5" stop-color="#175584"/><stop offset="0.542" stop-color="#175a85"/><stop offset="0.583" stop-color="#175e86"/><stop offset="0.625" stop-color="#176487"/><stop offset="0.667" stop-color="#186987"/><stop offset="0.708" stop-color="#196f88"/><stop offset="0.75" stop-color="#1a7688"/><stop offset="0.792" stop-color="#1b7c89"/><stop offset="0.833" stop-color="#1c8289"/><stop offset="0.875" stop-color="#1e8888"/><stop offset="0.917" stop-color="#218e87"/><stop offset="0.958" stop-color="#229187"/><stop offset="1" stop-color="#239286"/></linearGradient><linearGradient id="b15"><stop offset="0" stop-color="#1d1370"/><stop offset="0.0417" stop-color="#1c1971"/><stop offset="0.0833" stop-color="#1c2073"/><stop offset="0.125" stop-color="#1b2775"/><stop offset="0.167" stop-color="#1a2e77"/><stop offset="0.208" stop-color="#19367a"/><stop offset="0.25" stop-color="#183c7c"/><stop offset="0.292" stop-color="#18427e"/><stop offset="0.333" stop-color="#174780"/><stop offset="0.375" stop-color="#174b81"/><stop offset="0.417" stop-color="#174f82"/><stop offset="0.458" stop-color="#175383"/><stop offset="0.5" stop-color="#175684"/><stop offset="0.542" stop-color="#175b85"/><stop offset="0.583" stop-color="#176086"/><stop offset="0.625" stop-color="#176587"/><stop offset="0.667" stop-color="#186b87"/><stop offset="0.708" stop-color="#197188"/><stop offset="0.75" stop-color="#1a7788"/><stop offset="0.792" stop-color="#1b7e89"/><stop offset="0.833" stop-color="#1d8388"/><stop offset="0.875" stop-color="#1f8988"/><stop offset="0.917" stop-color="#218f87"/><stop offset="0.958" stop-color="#239386"/><stop offset="1" stop-color="#239486"/></linearGradient><linearGradient id="b16"><stop offset="0" stop-color="#1d1470"/><stop offset="0.0417" stop-color="#1c1a71"/><stop offset="0.0833" stop-color="#1b2173"/><stop offset="0.125" stop-color="#1b2875"/><stop offset="0.167" stop-color="#1a3078"/><stop offset="0.208" stop-color="#19377a"/><stop offset="0.25" stop-color="#183d7d"/><stop offset="0.292" stop-color="#17437f"/><stop offset="0.333" stop-color="#174880"/><stop offset="0.375" stop-color="#174c81"/><stop offset="0.417" stop-color="#175082"/><stop offset="0.458" stop-color="#175483"/><stop offset="0.5" stop-color="#175884"/><stop offset="0.542" stop-color="#175c85"/><stop offset="0.583" stop-color="#176186"/><stop offset="0.625" stop-color="#176687"/><stop offset="0.667" stop-color="#186c88"/><stop offset="0.708" stop-color="#197288"/><stop offset="0.75" stop-color="#1a7989"/><stop offset="0.792" stop-color="#1b8089"/><stop offset="0.833" stop-color="#1d8588"/><stop offset="0.875" stop-color="#208b87"/><stop offset="0.917" stop-color="#229187"/><stop offset="0.958" stop-color="#239586"/><stop offset="1" stop-color="#249586"/></linearGradient><linearGradient id="b17"><stop offset="0" stop-color="#1d1570"/><stop offset="0.0417" stop-color="#1c1b72"/><stop offset="0.0833" stop-color="#1b2273"/><stop offset="0.125" stop-color="#1a2976"/><stop offset="0.167" stop-color="#1a3178"/><stop offset="0.208" stop-color="#19387b"/><stop offset="0.25" stop-color="#183e7d"/><stop offset="0.292" stop-color="#17447f"/><stop offset="0.333" stop-color="#174981"/><stop offset="0.375" stop-color="#174d82"/><stop offset="0.417" stop-color="#175183"/><stop offset="0.458" stop-color="#175583"/><stop offset="0.5" stop-color="#175984"/><stop offset="0.542" stop-color="#175d85"/><stop offset="0.583" stop-color="#176287"/><stop offset="0.625" stop-color="#186887"/><stop offset="0.667" stop-color="#186e88"/><stop offset="0.708" stop-color="#197488"/><stop offset="0.75" stop-color="#1a7b89"/><stop offset="0.792" stop-color="#1c8189"/><stop offset="0.833" stop-color="#1e8788"/><stop offset="0.875" stop-color="#208c87"/><stop offset="0.917" stop-color="#239286"/><stop offset="0.958" stop-color="#249686"/><stop offset="1" stop-color="#249786"/></linearGradient><linearGradient id="b18"><stop offset="0" stop-color="#1d1770"/><stop offset="0.0417" stop-color="#1c1d72"/><stop offset="0.0833" stop-color="#1b2474"/><stop offset="0.125" stop-color="#1a2b76"/><stop offset="0.167" stop-color="#193279"/><stop offset="0.208" stop-color="#19397b"/><stop offset="0.25" stop-color="#18407e"/><stop offset="0.292" stop-color="#174580"/><stop offset="0.333" stop-color="#174a81"/><stop offset="0.375" stop-color="#174e82"/><stop offset="0.417" stop-color="#175283"/><stop offset="0.458" stop-color="#175684"/><stop offset="0.5" stop-color="#175a85"/><stop offset="0.542" stop-color="#175f86"/><stop offset="0.583" stop-color="#176487"/><stop offset="0.625" stop-color="#186987"/><stop offset="0.667" stop-color="#196f88"/><stop offset="0.708" stop-color="#1a7688"/><stop offset="0.75" stop-color="#1b7d89"/><stop offset="0.792" stop-color="#1d8388"/><stop offset="0.833" stop-color="#1f8888"/><stop offset="0.875" stop-color="#218e87"/><stop offset="0.917" stop-color="#239486"/><stop offset="0.958" stop-color="#259886"/><stop offset="1" stop-color="#259886"/></linearGradient><linearGradient id="b19"><stop offset="0" stop-color="#1d1871"/><stop offset="0.0417" stop-color="#1c1e72"/><stop offset="0.0833" stop-color="#1b2574"/><stop offset="0.125" stop-color="#1a2c76"/><stop offset="0.167" stop-color="#193379"/><stop offset="0.208" stop-color="#183a7c"/><stop offset="0.25" stop-color="#18417e"/><stop offset="0.292" stop-color="#174680"/><stop offset="0.333" stop-color="#174b81"/><stop offset="0.375" stop-color="#174f82"/><stop offset="0.417" stop-color="#175383"/><stop offset="0.458" stop-color="#175784"/><stop offset="0.5" stop-color="#175b85"/><stop offset="0.542" stop-color="#176086"/><stop offset="0.583" stop-color="#176587"/><stop offset="0.625" stop-color="#186b87"/><stop offset="0.667" stop-color="#197188"/><stop offset="0.708" stop-color="#1a7888"/><stop offset="0.75" stop-color="#1b7f89"/><stop offset="0.792" stop-color="#1d8588"/><stop offset="0.833" stop-color="#1f8a88"/><stop offset="0.875" stop-color="#229087"/><stop offset="0.917" stop-color="#249686"/><stop offset="0.958" stop-color="#269986"/><stop offset="1" stop-color="#269986"/></linearGradient><linearGradient id="b20"><stop offset="0" stop-color="#1c1971"/><stop offset="0.0417" stop-color="#1c1f73"/><stop offset="0.0833" stop-color="#1b2674"/><stop offset="0.125" stop-color="#1a2d77"/><stop offset="0.167" stop-color="#19347a"/><stop offset="0.208" stop-color="#183b7c"/><stop offset="0.25" stop-color="#17427f"/><stop offset="0.292" stop-color="#174880"/><stop offset="0.333" stop-color="#174c81"/><stop offset="0.375" stop-color="#175082"/><stop offset="0.417" stop-color="#175483"/><stop offset="0.458" stop-color="#175984"/><stop offset="0.5" stop-color="#175d85"/><stop offset="0.542" stop-color="#176186"/><stop offset="0.583" stop-color="#176787"/><stop offset="0.625" stop-color="#186c88"/><stop offset="0.667" stop-color="#197288"/><stop offset="0.708" stop-color="#1a7989"/><stop offset="0.75" stop-color="#1c8189"/><stop offset="0.792" stop-color="#1e8788"/><stop offset="0.833" stop-color="#208d87"/><stop offset="0.875" stop-color="#239286"/><stop offset="0.917" stop-color="#259786"/><stop offset="0.958" stop-color="#279a86"/><stop offset="1" stop-color="#279a86"/></linearGradient><linearGradient id="b21"><stop offset="0" stop-color="#1c1b72"/><stop offset="0.0417" stop-color="#1c2173"/><stop offset="0.0833" stop-color="#1b2875"/><stop offset="0.125" stop-color="#1a2e77"/><stop offset="0.167" stop-color="#19367a"/><stop offset="0.208" stop-color="#183d7d"/><stop offset="0.25" stop-color="#17437f"/><stop offset="0.292" stop-color="#174981"/><stop offset="0.333" stop-color="#174d82"/><stop offset="0.375" stop-color="#175283"/><stop offset="0.417" stop-color="#175684"/><stop offset="0.458" stop-color="#175a85"/><stop offset="0.5" stop-color="#175e86"/><stop offset="0.542" stop-color="#176387"/><stop offset="0.583" stop-color="#186887"/><stop offset="0.625" stop-color="#186e88"/><stop offset="0.667" stop-color="#197488"/><stop offset="0.708" stop-color="#1a7b89"/><stop offset="0.75" stop-color="#1c8289"/><stop offset="0.792" stop-color="#1f8988"/><stop offset="0.833" stop-color="#218f87"/><stop offset="0.875" stop-color="#239486"/><stop offset="0.917" stop-color="#269986"/><stop offset="0.958" stop-color="#289b85"/><stop offset="1" stop-color="#279b85"/></linearGradient><linearGradient id="b22"><stop offset="0" stop-color="#1c1c72"/><stop offset="0.0417" stop-color="#1b2273"/><stop offset="0.0833" stop-color="#1b2975"/><stop offset="0.125" stop-color="#1a3078"/><stop offset="0.167" stop-color="#19377b"/><stop offset="0.208" stop-color="#183e7d"/><stop offset="0.25" stop-color="#17457f"/><stop offset="0.292" stop-color="#174a81"/><stop offset="0.333" stop-color="#174f82"/><stop offset="0.375" stop-color="#175383"/><stop offset="0.417" stop-color="#175784"/><stop offset="0.458" stop-color="#175b85"/><stop offset="0.5" stop-color="#176086"/><stop offset="0.542" stop-color="#176587"/><stop offset="0.583" stop-color="#186a87"/><stop offset="0.625" stop-color="#197088"/><stop offset="0.667" stop-color="#1a7688"/><stop offset="0.708" stop-color="#1b7e89"/><stop offset="0.75" stop-color="#1d8488"/><stop offset="0.792" stop-color="#208b87"/><stop offset="0.833" stop-color="#229187"/><stop offset="0.875" stop-color="#249686"/><stop offset="0.917" stop-color="#279a86"/><stop offset="0.958" stop-color="#289d85"/><stop offset="1" stop-color="#289c85"/></linearGradient><linearGradient id="b23"><stop offset="0" stop-color="#1c1e72"/><stop offset="0.0417" stop-color="#1b2474"/><stop offset="0.0833" stop-color="#1a2a76"/><stop offset="0.125" stop-color="#1a3178"/><stop offset="0.167" stop-color="#19387b"/><stop offset="0.208" stop-color="#183f7e"/><stop offset="0.25" stop-color="#174680"/><stop offset="0.292" stop-color="#174b81"/><stop offset="0.333" stop-color="#175082"/><stop offset="0.375" stop-color="#175483"/><stop offset="0.417" stop-color="#175984"/><stop offset="0.458" stop-color="#175d85"/><stop offset="0.5" stop-color="#176186"/><stop offset="0.542" stop-color="#176687"/><stop offset="0.583" stop-color="#186b88"/><stop offset="0.625" stop-color="#197188"/><stop offset="0.667" stop-color="#1a7888"/><stop offset="0.708" stop-color="#1b8089"/><stop offset="0.75" stop-color="#1e8788"/><stop offset="0.792" stop-color="#218e87"/><stop offset="0.833" stop-color="#239486"/><stop offset="0.875" stop-color="#259886"/><stop offset="0.917" stop-color="#289c85"/><stop offset="0.958" stop-color="#299e85"/><stop offset="1" stop-color="#289d85"/></linearGradient><linearGradient id="b24"><stop offset="0" stop-color="#1c2073"/><stop offset="0.0417" stop-color="#1b2674"/><stop offset="0.0833" stop-color="#1a2c77"/><stop offset="0.125" stop-color="#193379"/><stop offset="0.167" stop-color="#183a7c"/><stop offset="0.208" stop-color="#18417e"/><stop offset="0.25" stop-color="#174780"/><stop offset="0.292" stop-color="#174d82"/><stop offset="0.333" stop-color="#175183"/><stop offset="0.375" stop-color="#175684"/><stop offset="0.417" stop-color="#175a85"/><stop offset="0.458" stop-color="#175e86"/><stop offset="0.5" stop-color="#176387"/><stop offset="0.542" stop-color="#186887"/><stop offset="0.583" stop-color="#186d88"/><stop offset="0.625" stop-color="#197388"/><stop offset="0.667" stop-color="#1a7a89"/><stop offset="0.708" stop-color="#1c8289"/><stop offset="0.75" stop-color="#1f8988"/><stop offset="0.792" stop-color="#229087"/><stop offset="0.833" stop-color="#249686"/><stop offset="0.875" stop-color="#279a86"/><stop offset="0.917" stop-color="#289d85"/><stop offset="0.958" stop-color="#2a9e85"/><stop offset="1" stop-color="#299d85"/></linearGradient><linearGradient id="b25"><stop offset="0" stop-color="#1b2273"/><stop offset="0.0417" stop-color="#1b2775"/><stop offset="0.0833" stop-color="#1a2e77"/><stop offset="0.125" stop-color="#19347a"/><stop offset="0.167" stop-color="#183b7c"/><stop offset="0.208" stop-color="#17427f"/><stop offset="0.25" stop-color="#174981"/><stop offset="0.292" stop-color="#174e82"/><stop offset="0.333" stop-color="#175383"/><stop offset="0.375" stop-color="#175784"/><stop offset="0.417" stop-color="#175c85"/><stop offset="0.458" stop-color="#176086"/><stop offset="0.5" stop-color="#176487"/><stop offset="0.542" stop-color="#186987"/><stop offset="0.583" stop-color="#196f88"/><stop offset="0.625" stop-color="#1a7588"/><stop offset="0.667" stop-color="#1b7c89"/><stop offset="0.708" stop-color="#1d8488"/><stop offset="0.75" stop-color="#208b87"/><stop offset="0.792" stop-color="#239386"/><stop offset="0.833" stop-color="#259886"/><stop offset="0.875" stop-color="#289b85"/><stop offset="0.917" stop-color="#299e85"/><stop offset="0.958" stop-color="#2a9f85"/><stop offset="1" stop-color="#299e85"/></linearGradient><linearGradient id="b26"><stop offset="0" stop-color="#1b2374"/><stop offset="0.0417" stop-color="#1b2975"/><stop offset="0.0833" stop-color="#1a2f78"/><stop offset="0.125" stop-color="#19367a"/><stop offset="0.167" stop-color="#183d7d"/><stop offset="0.208" stop-color="#17447f"/><stop offset="0.25" stop-color="#174a81"/><stop offset="0.292" stop-color="#174f82"/><stop offset="0.333" stop-color="#175483"/><stop offset="0.375" stop-color="#175984"/><stop offset="0.417" stop-color="#175d85"/><stop offset="0.458" stop-color="#176286"/><stop offset="0.5" stop-color="#176687"/><stop offset="0.542" stop-color="#186b88"/><stop offset="0.583" stop-color="#197188"/><stop offset="0.625" stop-color="#1a7788"/><stop offset="0.667" stop-color="#1b7f89"/><stop offset="0.708" stop-color="#1e8688"/><stop offset="0.75" stop-color="#218e87"/><stop offset="0.792" stop-color="#249586"/><stop offset="0.833" stop-color="#279a86"/><stop offset="0.875" stop-color="#299d85"/><stop offset="0.917" stop-color="#2a9f85"/><stop offset="0.958" stop-color="#2a9f85"/><stop offset="1" stop-color="#299e85"/></linearGradient><linearGradient id="b27"><stop offset="0" stop-color="#1b2574"/><stop offset="0.0417" stop-color="#1a2b76"/><stop offset="0.0833" stop-color="#1a3178"/><stop offset="0.125" stop-color="#19387b"/><stop offset="0.167" stop-color="#183f7d"/><stop offset="0.208" stop-color="#174680"/><stop offset="0.25" stop-color="#174c81"/><stop offset="0.292" stop-color="#175183"/><stop offset="0.333" stop-color="#175684"/><stop offset="0.375" stop-color="#175b85"/><stop offset="0.417" stop-color="#175f86"/><stop offset="0.458" stop-color="#176387"/><stop offset="0.5" stop-color="#186887"/><stop offset="0.542" stop-color="#186d88"/><stop offset="0.583" stop-color="#197388"/><stop offset="0.625" stop-color="#1a7989"/><stop offset="0.667" stop-color="#1c8189"/><stop offset="0.708" stop-color="#1f8888"/><stop offset="0.75" stop-color="#229087"/><stop offset="0.792" stop-color="#259786"/><stop offset="0.833" stop-color="#289c85"/><stop offset="0.875" stop-color="#2a9f85"/><stop offset="0.917" stop-color="#2aa085"/><stop offset="0.958" stop-color="#2aa085"/><stop offset="1" stop-color="#299d85"/></linearGradient><linearGradient id="b28"><stop offset="0" stop-color="#1b2775"/><stop offset="0.0417" stop-color="#1a2d77"/><stop offset="0.0833" stop-color="#193379"/><stop offset="0.125" stop-color="#183a7c"/><stop offset="0.167" stop-color="#18417e"/><stop offset="0.208" stop-color="#174780"/><stop offset="0.25" stop-color="#174d82"/><stop offset="0.292" stop-color="#175383"/><stop offset="0.333" stop-color="#175884"/><stop offset="0.375" stop-color="#175c85"/><stop offset="0.417" stop-color="#176186"/><stop offset="0.458" stop-color="#176587"/><stop offset="0.5" stop-color="#186987"/><stop offset="0.542" stop-color="#196e88"/><stop offset="0.583" stop-color="#197488"/><stop offset="0.625" stop-color="#1a7c89"/><stop offset="0.667" stop-color="#1c8389"/><stop offset="0.708" stop-color="#208b87"/><stop offset="0.75" stop-color="#239386"/><stop offset="0.792" stop-color="#269986"/><stop offset="0.833" stop-color="#299e85"/><stop offset="0.875" stop-color="#2ba085"/><stop offset="0.917" stop-color="#2ba085"/><stop offset="0.958" stop-color="#2aa085"/><stop offset="1" stop-color="#299d85"/></linearGradient><linearGradient id="b29"><stop offset="0" stop-color="#1a2976"/><stop offset="0.0417" stop-color="#1a2f78"/><stop offset="0.0833" stop-color="#19357a"/><stop offset="0.125" stop-color="#183c7c"/><stop offset="0.167" stop-color="#17437f"/><stop offset="0.208" stop-color="#174981"/><stop offset="0.25" stop-color="#174f82"/><stop offset="0.292" stop-color="#175483"/><stop offset="0.333" stop-color="#175985"/><stop offset="0.375" stop-color="#175e86"/><stop offset="0.417" stop-color="#176387"/><stop offset="0.458" stop-color="#176787"/><stop offset="0.5" stop-color="#186b88"/><stop offset="0.542" stop-color="#197088"/><stop offset="0.583" stop-color="#1a7788"/><stop offset="0.625" stop-color="#1b7e89"/><stop offset="0.667" stop-color="#1d8588"/><stop offset="0.708" stop-color="#208d87"/><stop offset="0.75" stop-color="#249586"/><stop offset="0.792" stop-color="#289c85"/><stop offset="0.833" stop-color="#2ba085"/><stop offset="0.875" stop-color="#2ca185"/><stop offset="0.917" stop-color="#2ba185"/><stop offset="0.958" stop-color="#2a9f85"/><stop offset="1" stop-color="#289c85"/></linearGradient><linearGradient id="b30"><stop offset="0" stop-color="#1a2b76"/><stop offset="0.0417" stop-color="#1a3178"/><stop offset="0.0833" stop-color="#19377b"/><stop offset="0.125" stop-color="#183e7d"/><stop offset="0.167" stop-color="#174580"/><stop offset="0.208" stop-color="#174b81"/><stop offset="0.25" stop-color="#175183"/><stop offset="0.292" stop-color="#175684"/><stop offset="0.333" stop-color="#175b85"/><stop offset="0.375" stop-color="#176086"/><stop offset="0.417" stop-color="#176487"/><stop offset="0.458" stop-color="#186987"/><stop offset="0.5" stop-color="#186d88"/><stop offset="0.542" stop-color="#197288"/><stop offset="0.583" stop-color="#1a7989"/><stop offset="0.625" stop-color="#1b8089"/><stop offset="0.667" stop-color="#1e8788"/><stop offset="0.708" stop-color="#219087"/><stop offset="0.75" stop-color="#259886"/><stop offset="0.792" stop-color="#299e85"/><stop offset="0.833" stop-color="#2ca285"/><stop offset="0.875" stop-color="#2ca385"/><stop offset="0.917" stop-color="#2ba185"/><stop offset="0.958" stop-color="#2a9f85"/><stop offset="1" stop-color="#279b85"/></linearGradient><linearGradient id="b31"><stop offset="0" stop-color="#1a2d77"/><stop offset="0.0417" stop-color="#193379"/><stop offset="0.0833" stop-color="#183a7c"/><stop offset="0.125" stop-color="#18407e"/><stop offset="0.167" stop-color="#174780"/><stop offset="0.208" stop-color="#174d82"/><stop offset="0.25" stop-color="#175383"/><stop offset="0.292" stop-color="#175884"/><stop offset="0.333" stop-color="#175d85"/><stop offset="0.375" stop-color="#176287"/><stop offset="0.417" stop-color="#176687"/><stop offset="0.458" stop-color="#186b87"/><stop offset="0.5" stop-color="#196f88"/><stop offset="0.542" stop-color="#197488"/><stop offset="0.583" stop-color="#1a7b89"/><stop offset="0.625" stop-color="#1c8289"/><stop offset="0.667" stop-color="#1f8a88"/><stop offset="0.708" stop-color="#229287"/><stop offset="0.75" stop-color="#279a86"/><stop offset="0.792" stop-color="#2ba085"/><stop offset="0.833" stop-color="#2da484"/><stop offset="0.875" stop-color="#2da484"/><stop offset="0.917" stop-color="#2ca185"/><stop offset="0.958" stop-color="#299e85"/><stop offset="1" stop-color="#279a86"/></linearGradient><linearGradient id="b32"><stop offset="0" stop-color="#1a3078"/><stop offset="0.0417" stop-color="#19357a"/><stop offset="0.0833" stop-color="#183c7c"/><stop offset="0.125" stop-color="#17427f"/><stop offset="0.167" stop-color="#174981"/><stop offset="0.208" stop-color="#174f82"/><stop offset="0.25" stop-color="#175583"/><stop offset="0.292" stop-color="#175a85"/><stop offset="0.333" stop-color="#175f86"/><stop offset="0.375" stop-color="#176487"/><stop offset="0.417" stop-color="#186887"/><stop offset="0.458" stop-color="#186d88"/><stop offset="0.5" stop-color="#197188"/><stop offset="0.542" stop-color="#1a7688"/><stop offset="0.583" stop-color="#1b7d89"/><stop offset="0.625" stop-color="#1d8488"/><stop offset="0.667" stop-color="#208c87"/><stop offset="0.708" stop-color="#249586"/><stop offset="0.75" stop-color="#289c85"/><stop offset="0.792" stop-color="#2ca285"/><stop offset="0.833" stop-color="#2ea584"/><stop offset="0.875" stop-color="#2ea584"/><stop offset="0.917" stop-color="#2ca185"/><stop offset="0.958" stop-color="#299d85"/><stop offset="1" stop-color="#269886"/></linearGradient><linearGradient id="b33"><stop offset="0" stop-color="#193279"/><stop offset="0.0417" stop-color="#19387b"/><stop offset="0.0833" stop-color="#183f7d"/><stop offset="0.125" stop-color="#174580"/><stop offset="0.167" stop-color="#174b81"/><stop offset="0.208" stop-color="#175183"/><stop offset="0.25" stop-color="#175784"/><stop offset="0.292" stop-color="#175c85"/><stop offset="0.333" stop-color="#176186"/><stop offset="0.375" stop-color="#176687"/><stop offset="0.417" stop-color="#186a87"/><stop offset="0.458" stop-color="#196f88"/><stop offset="0.5" stop-color="#197388"/><stop offset="0.542" stop-color="#1a7889"/><stop offset="0.583" stop-color="#1b7f89"/><stop offset="0.625" stop-color="#1e8788"/><stop offset="0.667" stop-color="#218e87"/><stop offset="0.708" stop-color="#259786"/><stop offset="0.75" stop-color="#299e85"/><stop offset="0.792" stop-color="#2da484"/><stop offset="0.833" stop-color="#2fa784"/><stop offset="0.875" stop-color="#2fa684"/><stop offset="0.917" stop-color="#2ba185"/><stop offset="0.958" stop-color="#289c85"/><stop offset="1" stop-color="#259786"/></linearGradient><linearGradient id="b34"><stop offset="0" stop-color="#19357a"/><stop offset="0.0417" stop-color="#183b7c"/><stop offset="0.0833" stop-color="#18417e"/><stop offset="0.125" stop-color="#174780"/><stop offset="0.167" stop-color="#174d82"/><stop offset="0.208" stop-color="#175383"/><stop offset="0.25" stop-color="#175984"/><stop offset="0.292" stop-color="#175e86"/><stop offset="0.333" stop-color="#176387"/><stop offset="0.375" stop-color="#186887"/><stop offset="0.417" stop-color="#186c88"/><stop offset="0.458" stop-color="#197188"/><stop offset="0.5" stop-color="#1a7588"/><stop offset="0.542" stop-color="#1a7b89"/><stop offset="0.583" stop-color="#1c8189"/><stop offset="0.625" stop-color="#1f8988"/><stop offset="0.667" stop-color="#229187"/><stop offset="0.708" stop-color="#269986"/><stop offset="0.75" stop-color="#2ba085"/><stop offset="0.792" stop-color="#2fa684"/><stop offset="0.833" stop-color="#31a984"/><stop offset="0.875" stop-color="#2fa784"/><stop offset="0.917" stop-color="#2ba185"/><stop offset="0.958" stop-color="#279b85"/><stop offset="1" stop-color="#249586"/></linearGradient><linearGradient id="b35"><stop offset="0" stop-color="#19377b"/><stop offset="0.0417" stop-color="#183d7d"/><stop offset="0.0833" stop-color="#17447f"/><stop offset="0.125" stop-color="#174a81"/><stop offset="0.167" stop-color="#175082"/><stop offset="0.208" stop-color="#175684"/><stop offset="0.25" stop-color="#175b85"/><stop offset="0.292" stop-color="#176086"/><stop offset="0.333" stop-color="#176587"/><stop offset="0.375" stop-color="#186a87"/><stop offset="0.417" stop-color="#196e88"/><stop offset="0.458" stop-color="#197388"/><stop offset="0.5" stop-color="#1a7888"/><stop offset="0.542" stop-color="#1b7d89"/><stop offset="0.583" stop-color="#1d8388"/><stop offset="0.625" stop-color="#208b87"/><stop offset="0.667" stop-color="#239486"/><stop offset="0.708" stop-color="#279b85"/><stop offset="0.75" stop-color="#2ca285"/><stop offset="0.792" stop-color="#30a884"/><stop offset="0.833" stop-color="#33aa83"/><stop offset="0.875" stop-color="#30a884"/><stop offset="0.917" stop-color="#2ba085"/><stop offset="0.958" stop-color="#269986"/><stop offset="1" stop-color="#239386"/></linearGradient><linearGradient id="b36"><stop offset="0" stop-color="#183a7c"/><stop offset="0.0417" stop-color="#18407e"/><stop offset="0.0833" stop-color="#174780"/><stop offset="0.125" stop-color="#174d82"/><stop offset="0.167" stop-color="#175283"/><stop offset="0.208" stop-color="#175884"/><stop offset="0.25" stop-color="#175e85"/><stop offset="0.292" stop-color="#176387"/><stop offset="0.333" stop-color="#186887"/><stop offset="0.375" stop-color="#186c88"/><stop offset="0.417" stop-color="#197188"/><stop offset="0.458" stop-color="#1a7588"/><stop offset="0.5" stop-color="#1a7a89"/><stop offset="0.542" stop-color="#1b7f89"/><stop offset="0.583" stop-color="#1e8588"/><stop offset="0.625" stop-color="#218d87"/><stop offset="0.667" stop-color="#249686"/><stop offset="0.708" stop-color="#299d85"/><stop offset="0.75" stop-color="#2da484"/><stop offset="0.792" stop-color="#32a984"/><stop offset="0.833" stop-color="#35ab83"/><stop offset="0.875" stop-color="#30a884"/><stop offset="0.917" stop-color="#2aa085"/><stop offset="0.958" stop-color="#259886"/><stop offset="1" stop-color="#229087"/></linearGradient><linearGradient id="b37"><stop offset="0" stop-color="#183d7d"/><stop offset="0.0417" stop-color="#17447f"/><stop offset="0.0833" stop-color="#174a81"/><stop offset="0.125" stop-color="#174f82"/><stop offset="0.167" stop-color="#175583"/><stop offset="0.208" stop-color="#175b85"/><stop offset="0.25" stop-color="#176086"/><stop offset="0.292" stop-color="#176587"/><stop offset="0.333" stop-color="#186a87"/><stop offset="0.375" stop-color="#196e88"/><stop offset="0.417" stop-color="#197388"/><stop offset="0.458" stop-color="#1a7888"/><stop offset="0.5" stop-color="#1b7c89"/><stop offset="0.542" stop-color="#1c8189"/><stop offset="0.583" stop-color="#1e8888"/><stop offset="0.625" stop-color="#229087"/><stop offset="0.667" stop-color="#259886"/><stop offset="0.708" stop-color="#2a9f85"/><stop offset="0.75" stop-color="#2fa684"/><stop offset="0.792" stop-color="#34ab83"/><stop offset="0.833" stop-color="#37ad82"/><stop offset="0.875" stop-color="#31a984"/><stop offset="0.917" stop-color="#2a9f85"/><stop offset="0.958" stop-color="#249586"/><stop offset="1" stop-color="#218e87"/></linearGradient><linearGradient id="b38"><stop offset="0" stop-color="#18417e"/><stop offset="0.0417" stop-color="#174780"/><stop offset="0.0833" stop-color="#174c81"/><stop offset="0.125" stop-color="#175283"/><stop offset="0.167" stop-color="#175884"/><stop offset="0.208" stop-color="#175d85"/><stop offset="0.25" stop-color="#176387"/><stop offset="0.292" stop-color="#186787"/><stop offset="0.333" stop-color="#186c88"/><stop offset="0.375" stop-color="#197188"/><stop offset="0.417" stop-color="#1a7588"/><stop offset="0.458" stop-color="#1a7a89"/><stop offset="0.5" stop-color="#1b7f89"/><stop offset="0.542" stop-color="#1d8488"/><stop offset="0.583" stop-color="#1f8a88"/><stop offset="0.625" stop-color="#229287"/><stop offset="0.667" stop-color="#279a86"/><stop offset="0.708" stop-color="#2ba185"/><stop offset="0.75" stop-color="#30a884"/><stop offset="0.792" stop-color="#36ac83"/><stop offset="0.833" stop-color="#38ae82"/><stop offset="0.875" stop-color="#31a984"/><stop offset="0.917" stop-color="#299e85"/><stop offset="0.958" stop-color="#239386"/><stop offset="1" stop-color="#208b87"/></linearGradient><linearGradient id="b39"><stop offset="0" stop-color="#17457f"/><stop offset="0.0417" stop-color="#174a81"/><stop offset="0.0833" stop-color="#174f82"/><stop offset="0.125" stop-color="#175584"/><stop offset="0.167" stop-color="#175b85"/><stop offset="0.208" stop-color="#176086"/><stop offset="0.25" stop-color="#176587"/><stop offset="0.292" stop-color="#186a87"/><stop offset="0.333" stop-color="#196e88"/><stop offset="0.375" stop-color="#197388"/><stop offset="0.417" stop-color="#1a7888"/><stop offset="0.458" stop-color="#1b7d89"/><stop offset="0.5" stop-color="#1c8189"/><stop offset="0.542" stop-color="#1e8688"/><stop offset="0.583" stop-color="#208c87"/><stop offset="0.625" stop-color="#239586"/><stop offset="0.667" stop-color="#289c85"/><stop offset="0.708" stop-color="#2da385"/><stop offset="0.75" stop-color="#32a984"/><stop offset="0.792" stop-color="#38ad82"/><stop offset="0.833" stop-color="#39ae82"/><stop offset="0.875" stop-color="#32a984"/><stop offset="0.917" stop-color="#299d85"/><stop offset="0.958" stop-color="#229087"/><stop offset="1" stop-color="#1e8888"/></linearGradient><linearGradient id="b40"><stop offset="0" stop-color="#174881"/><stop offset="0.0417" stop-color="#174d82"/><stop offset="0.0833" stop-color="#175383"/><stop offset="0.125" stop-color="#175884"/><stop offset="0.167" stop-color="#175d85"/><stop offset="0.208" stop-color="#176387"/><stop offset="0.25" stop-color="#186887"/><stop offset="0.292" stop-color="#186c88"/><stop offset="0.333" stop-color="#197188"/><stop offset="0.375" stop-color="#1a7588"/><stop offset="0.417" stop-color="#1a7a89"/><stop offset="0.458" stop-color="#1b7f89"/><stop offset="0.5" stop-color="#1d8388"/><stop offset="0.542" stop-color="#1f8888"/><stop offset="0.583" stop-color="#218f87"/><stop offset="0.625" stop-color="#259786"/><stop offset="0.667" stop-color="#299e85"/><stop offset="0.708" stop-color="#2ea584"/><stop offset="0.75" stop-color="#34ab83"/><stop offset="0.792" stop-color="#39ae82"/><stop offset="0.833" stop-color="#3aaf82"/><stop offset="0.875" stop-color="#31a984"/><stop offset="0.917" stop-color="#289c85"/><stop offset="0.958" stop-color="#208d87"/><stop offset="1" stop-color="#1d8488"/></linearGradient><linearGradient id="b41"><stop offset="0" stop-color="#174c81"/><stop offset="0.0417" stop-color="#175183"/><stop offset="0.0833" stop-color="#175684"/><stop offset="0.125" stop-color="#175b85"/><stop offset="0.167" stop-color="#176186"/><stop offset="0.208" stop-color="#176687"/><stop offset="0.25" stop-color="#186a87"/><stop offset="0.292" stop-color="#196f88"/><stop offset="0.333" stop-color="#197388"/><stop offset="0.375" stop-color="#1a7888"/><stop offset="0.417" stop-color="#1b7d89"/><stop offset="0.458" stop-color="#1c8289"/><stop offset="0.5" stop-color="#1e8688"/><stop offset="0.542" stop-color="#1f8a88"/><stop offset="0.583" stop-color="#229187"/><stop offset="0.625" stop-color="#269986"/><stop offset="0.667" stop-color="#2ba085"/><stop offset="0.708" stop-color="#2fa784"/><stop offset="0.75" stop-color="#36ac83"/><stop offset="0.792" stop-color="#3aaf82"/><stop offset="0.833" stop-color="#3aaf82"/><stop offset="0.875" stop-color="#31a984"/><stop offset="0.917" stop-color="#289b85"/><stop offset="0.958" stop-color="#1f8a88"/><stop offset="1" stop-color="#1c8089"/></linearGradient><linearGradient id="b42"><stop offset="0" stop-color="#175082"/><stop offset="0.0417" stop-color="#175483"/><stop offset="0.0833" stop-color="#175a85"/><stop offset="0.125" stop-color="#175f86"/><stop offset="0.167" stop-color="#176487"/><stop offset="0.208" stop-color="#186887"/><stop offset="0.25" stop-color="#186d88"/><stop offset="0.292" stop-color="#197188"/><stop offset="0.333" stop-color="#1a7688"/><stop offset="0.375" stop-color="#1a7b89"/><stop offset="0.417" stop-color="#1b8089"/><stop offset="0.458" stop-color="#1d8488"/><stop offset="0.5" stop-color="#1f8888"/><stop offset="0.542" stop-color="#208d87"/><stop offset="0.583" stop-color="#239486"/><stop offset="0.625" stop-color="#279b85"/><stop offset="0.667" stop-color="#2ca285"/><stop offset="0.708" stop-color="#30a884"/><stop offset="0.75" stop-color="#37ad82"/><stop offset="0.792" stop-color="#3bb081"/><stop offset="0.833" stop-color="#3baf82"/><stop offset="0.875" stop-color="#31a884"/><stop offset="0.917" stop-color="#279b85"/><stop offset="0.958" stop-color="#1f8988"/><stop offset="1" stop-color="#1b7c89"/></linearGradient><linearGradient id="b43"><stop offset="0" stop-color="#175483"/><stop offset="0.0417" stop-color="#175884"/><stop offset="0.0833" stop-color="#175d85"/><stop offset="0.125" stop-color="#176287"/><stop offset="0.167" stop-color="#176787"/><stop offset="0.208" stop-color="#186b88"/><stop offset="0.25" stop-color="#197088"/><stop offset="0.292" stop-color="#197488"/><stop offset="0.333" stop-color="#1a7889"/><stop offset="0.375" stop-color="#1b7d89"/><stop offset="0.417" stop-color="#1c8289"/><stop offset="0.458" stop-color="#1e8788"/><stop offset="0.5" stop-color="#208b87"/><stop offset="0.542" stop-color="#219087"/><stop offset="0.583" stop-color="#249686"/><stop offset="0.625" stop-color="#299d85"/><stop offset="0.667" stop-color="#2da484"/><stop offset="0.708" stop-color="#33aa83"/><stop offset="0.75" stop-color="#39ae82"/><stop offset="0.792" stop-color="#3cb081"/><stop offset="0.833" stop-color="#3aaf82"/><stop offset="0.875" stop-color="#30a884"/><stop offset="0.917" stop-color="#279a86"/><stop offset="0.958" stop-color="#1f8888"/><stop offset="1" stop-color="#1a7888"/></linearGradient><linearGradient id="b44"><stop offset="0" stop-color="#175884"/><stop offset="0.0417" stop-color="#175c85"/><stop offset="0.0833" stop-color="#176186"/><stop offset="0.125" stop-color="#176587"/><stop offset="0.167" stop-color="#186a87"/><stop offset="0.208" stop-color="#186e88"/><stop offset="0.25" stop-color="#197288"/><stop offset="0.292" stop-color="#1a7788"/><stop offset="0.333" stop-color="#1a7b89"/><stop offset="0.375" stop-color="#1b8089"/><stop offset="0.417" stop-color="#1d8488"/><stop offset="0.458" stop-color="#1f8988"/><stop offset="0.5" stop-color="#218d87"/><stop offset="0.542" stop-color="#239286"/><stop offset="0.583" stop-color="#269886"/><stop offset="0.625" stop-color="#2a9f85"/><stop offset="0.667" stop-color="#2ea584"/><stop offset="0.708" stop-color="#34ab83"/><stop offset="0.75" stop-color="#3aaf82"/><stop offset="0.792" stop-color="#3db181"/><stop offset="0.833" stop-color="#3aaf82"/><stop offset="0.875" stop-color="#30a784"/><stop offset="0.917" stop-color="#269986"/><stop offset="0.958" stop-color="#1e8788"/><stop offset="1" stop-color="#197488"/></linearGradient><linearGradient id="b45"><stop offset="0" stop-color="#175d85"/><stop offset="0.0417" stop-color="#176086"/><stop offset="0.0833" stop-color="#176587"/><stop offset="0.125" stop-color="#186987"/><stop offset="0.167" stop-color="#186d88"/><stop offset="0.208" stop-color="#197188"/><stop offset="0.25" stop-color="#1a7588"/><stop offset="0.292" stop-color="#1a7a89"/><stop offset="0.333" stop-color="#1b7e89"/><stop offset="0.375" stop-color="#1c8289"/><stop offset="0.417" stop-color="#1e8788"/><stop offset="0.458" stop-color="#208c87"/><stop offset="0.5" stop-color="#229087"/><stop offset="0.542" stop-color="#249586"/><stop offset="0.583" stop-color="#279b85"/><stop offset="0.625" stop-color="#2ba185"/><stop offset="0.667" stop-color="#30a784"/><stop offset="0.708" stop-color="#36ac83"/><stop offset="0.75" stop-color="#3cb081"/><stop offset="0.792" stop-color="#3eb181"/><stop offset="0.833" stop-color="#3aaf82"/><stop offset="0.875" stop-color="#2fa784"/><stop offset="0.917" stop-color="#269986"/><stop offset="0.958" stop-color="#1d8588"/><stop offset="1" stop-color="#196f88"/></linearGradient><linearGradient id="b46"><stop offset="0" stop-color="#176186"/><stop offset="0.0417" stop-color="#176587"/><stop offset="0.0833" stop-color="#186887"/><stop offset="0.125" stop-color="#186c88"/><stop offset="0.167" stop-color="#197088"/><stop offset="0.208" stop-color="#197488"/><stop offset="0.25" stop-color="#1a7889"/><stop offset="0.292" stop-color="#1b7c89"/><stop offset="0.333" stop-color="#1c8189"/><stop offset="0.375" stop-color="#1d8488"/><stop offset="0.417" stop-color="#1f8988"/><stop offset="0.458" stop-color="#218e87"/><stop offset="0.5" stop-color="#239386"/><stop offset="0.542" stop-color="#259786"/><stop offset="0.583" stop-color="#289d85"/><stop offset="0.625" stop-color="#2da385"/><stop offset="0.667" stop-color="#31a984"/><stop offset="0.708" stop-color="#38ae82"/><stop offset="0.75" stop-color="#3db181"/><stop offset="0.792" stop-color="#3eb281"/><stop offset="0.833" stop-color="#3aaf82"/><stop offset="0.875" stop-color="#2fa684"/><stop offset="0.917" stop-color="#259886"/><stop offset="0.958" stop-color="#1d8388"/><stop offset="1" stop-color="#186b88"/></linearGradient><linearGradient id="b47"><stop offset="0" stop-color="#176587"/><stop offset="0.0417" stop-color="#186887"/><stop offset="0.0833" stop-color="#186c88"/><stop offset="0.125" stop-color="#197088"/><stop offset="0.167" stop-color="#197388"/><stop offset="0.208" stop-color="#1a7788"/><stop offset="0.25" stop-color="#1a7b89"/><stop offset="0.292" stop-color="#1b7f89"/><stop offset="0.333" stop-color="#1d8388"/><stop offset="0.375" stop-color="#1e8788"/><stop offset="0.417" stop-color="#208c87"/><stop offset="0.458" stop-color="#229187"/><stop offset="0.5" stop-color="#249586"/><stop offset="0.542" stop-color="#269a86"/><stop offset="0.583" stop-color="#2a9f85"/><stop offset="0.625" stop-color="#2ea584"/><stop offset="0.667" stop-color="#34aa83"/><stop offset="0.708" stop-color="#3aaf82"/><stop offset="0.75" stop-color="#3eb281"/><stop offset="0.792" stop-color="#3fb281"/><stop offset="0.833" stop-color="#39ae82"/><stop offset="0.875" stop-color="#2ea584"/><stop offset="0.917" stop-color="#249786"/><stop offset="0.958" stop-color="#1c8189"/><stop offset="1" stop-color="#176687"/></linearGradient><linearGradient id="b48"><stop offset="0" stop-color="#186a87"/><stop offset="0.0417" stop-color="#186c88"/><stop offset="0.0833" stop-color="#197088"/><stop offset="0.125" stop-color="#197388"/><stop offset="0.167" stop-color="#1a7788"/><stop offset="0.208" stop-color="#1a7a89"/><stop offset="0.25" stop-color="#1b7e89"/><stop offset="0.292" stop-color="#1c8289"/><stop offset="0.333" stop-color="#1e8688"/><stop offset="0.375" stop-color="#1f8a88"/><stop offset="0.417" stop-color="#218e87"/><stop offset="0.458" stop-color="#239386"/><stop offset="0.5" stop-color="#259886"/><stop offset="0.542" stop-color="#289c85"/><stop offset="0.583" stop-color="#2ba185"/><stop offset="0.625" stop-color="#2fa784"/><stop offset="0.667" stop-color="#36ac83"/><stop offset="0.708" stop-color="#3cb081"/><stop offset="0.75" stop-color="#3fb281"/><stop offset="0.792" stop-color="#3fb281"/><stop offset="0.833" stop-color="#39ae82"/><stop offset="0.875" stop-color="#2ea584"/><stop offset="0.917" stop-color="#249586"/><stop offset="0.958" stop-color="#1b7d89"/><stop offset="1" stop-color="#176186"/></linearGradient><linearGradient id="b49"><stop offset="0" stop-color="#186e88"/><stop offset="0.0417" stop-color="#197188"/><stop offset="0.0833" stop-color="#197488"/><stop offset="0.125" stop-color="#1a7788"/><stop offset="0.167" stop-color="#1a7a89"/><stop offset="0.208" stop-color="#1b7e89"/><stop offset="0.25" stop-color="#1c8189"/><stop offset="0.292" stop-color="#1d8588"/><stop offset="0.333" stop-color="#1f8888"/><stop offset="0.375" stop-color="#208c87"/><stop offset="0.417" stop-color="#229187"/><stop offset="0.458" stop-color="#249686"/><stop offset="0.5" stop-color="#279a86"/><stop offset="0.542" stop-color="#299e85"/><stop offset="0.583" stop-color="#2da385"/><stop offset="0.625" stop-color="#31a984"/><stop offset="0.667" stop-color="#38ad82"/><stop offset="0.708" stop-color="#3db181"/><stop offset="0.75" stop-color="#40b380"/><stop offset="0.792" stop-color="#3fb281"/><stop offset="0.833" stop-color="#39ae82"/><stop offset="0.875" stop-color="#2da484"/><stop offset="0.917" stop-color="#239386"/><stop offset="0.958" stop-color="#1a7a89"/><stop offset="1" stop-color="#175c85"/></linearGradient><linearGradient id="b50"><stop offset="0" stop-color="#197288"/><stop offset="0.0417" stop-color="#197588"/><stop offset="0.0833" stop-color="#1a7888"/><stop offset="0.125" stop-color="#1a7b89"/><stop offset="0.167" stop-color="#1b7e89"/><stop offset="0.208" stop-color="#1c8189"/><stop offset="0.25" stop-color="#1d8488"/><stop offset="0.292" stop-color="#1e8788"/><stop offset="0.333" stop-color="#208b87"/><stop offset="0.375" stop-color="#218f87"/><stop offset="0.417" stop-color="#239386"/><stop offset="0.458" stop-color="#259886"/><stop offset="0.5" stop-color="#289c85"/><stop offset="0.542" stop-color="#2ba085"/><stop offset="0.583" stop-color="#2ea584"/><stop offset="0.625" stop-color="#33aa83"/><stop offset="0.667" stop-color="#3aaf82"/><stop offset="0.708" stop-color="#3fb281"/><stop offset="0.75" stop-color="#41b480"/><stop offset="0.792" stop-color="#40b380"/><stop offset="0.833" stop-color="#38ae82"/><stop offset="0.875" stop-color="#2da385"/><stop offset="0.917" stop-color="#229187"/><stop offset="0.958" stop-color="#1a7688"/><stop offset="1" stop-color="#175784"/></linearGradient><linearGradient id="b51"><stop offset="0" stop-color="#1a7688"/><stop offset="0.0417" stop-color="#1a7989"/><stop offset="0.0833" stop-color="#1a7c89"/><stop offset="0.125" stop-color="#1b7e89"/><stop offset="0.167" stop-color="#1c8189"/><stop offset="0.208" stop-color="#1d8488"/><stop offset="0.25" stop-color="#1e8788"/><stop offset="0.292" stop-color="#1f8a88"/><stop offset="0.333" stop-color="#218e87"/><stop offset="0.375" stop-color="#229287"/><stop offset="0.417" stop-color="#249686"/><stop offset="0.458" stop-color="#279a86"/><stop offset="0.5" stop-color="#299e85"/><stop offset="0.542" stop-color="#2ca285"/><stop offset="0.583" stop-color="#2fa784"/><stop offset="0.625" stop-color="#35ac83"/><stop offset="0.667" stop-color="#3cb081"/><stop offset="0.708" stop-color="#40b380"/><stop offset="0.75" stop-color="#42b480"/><stop offset="0.792" stop-color="#40b380"/><stop offset="0.833" stop-color="#38ad82"/><stop offset="0.875" stop-color="#2ca285"/><stop offset="0.917" stop-color="#218f87"/><stop offset="0.958" stop-color="#197388"/><stop offset="1" stop-color="#175283"/></linearGradient><linearGradient id="b52"><stop offset="0" stop-color="#1a7b89"/><stop offset="0.0417" stop-color="#1b7d89"/><stop offset="0.0833" stop-color="#1b8089"/><stop offset="0.125" stop-color="#1c8289"/><stop offset="0.167" stop-color="#1d8488"/><stop offset="0.208" stop-color="#1e8688"/><stop offset="0.25" stop-color="#1f8a88"/><stop offset="0.292" stop-color="#208d87"/><stop offset="0.333" stop-color="#229087"/><stop offset="0.375" stop-color="#239486"/><stop offset="0.417" stop-color="#269886"/><stop offset="0.458" stop-color="#289c85"/><stop offset="0.5" stop-color="#2ba085"/><stop offset="0.542" stop-color="#2ea484"/><stop offset="0.583" stop-color="#32a984"/><stop offset="0.625" stop-color="#38ad82"/><stop offset="0.667" stop-color="#3eb181"/><stop offset="0.708" stop-color="#42b480"/><stop offset="0.75" stop-color="#43b580"/><stop offset="0.792" stop-color="#40b380"/><stop offset="0.833" stop-color="#38ad82"/><stop offset="0.875" stop-color="#2ca285"/><stop offset="0.917" stop-color="#218d87"/><stop offset="0.958" stop-color="#196f88"/><stop offset="1" stop-color="#174d82"/></linearGradient><linearGradient id="b53"><stop offset="0" stop-color="#1b7f89"/><stop offset="0.0417" stop-color="#1c8189"/><stop offset="0.0833" stop-color="#1d8388"/><stop offset="0.125" stop-color="#1d8588"/><stop offset="0.167" stop-color="#1e8788"/><stop offset="0.208" stop-color="#1f8988"/><stop offset="0.25" stop-color="#208d87"/><stop offset="0.292" stop-color="#229087"/><stop offset="0.333" stop-color="#239386"/><stop offset="0.375" stop-color="#259786"/><stop offset="0.417" stop-color="#279b85"/><stop offset="0.458" stop-color="#2a9e85"/><stop offset="0.5" stop-color="#2ca285"/><stop offset="0.542" stop-color="#2fa784"/><stop offset="0.583" stop-color="#34ab83"/><stop offset="0.625" stop-color="#3aaf82"/><stop offset="0.667" stop-color="#3fb380"/><stop offset="0.708" stop-color="#43b580"/><stop offset="0.75" stop-color="#44b67f"/><stop offset="0.792" stop-color="#41b380"/><stop offset="0.833" stop-color="#37ad82"/><stop offset="0.875" stop-color="#2ca185"/><stop offset="0.917" stop-color="#208d87"/><stop offset="0.958" stop-color="#186d88"/><stop offset="1" stop-color="#174881"/></linearGradient><linearGradient id="b54"><stop offset="0" stop-color="#1d8388"/><stop offset="0.0417" stop-color="#1d8588"/><stop offset="0.0833" stop-color="#1e8788"/><stop offset="0.125" stop-color="#1f8888"/><stop offset="0.167" stop-color="#1f8a88"/><stop offset="0.208" stop-color="#208c87"/><stop offset="0.25" stop-color="#218f87"/><stop offset="0.292" stop-color="#239386"/><stop offset="0.333" stop-color="#249686"/><stop offset="0.375" stop-color="#269986"/><stop offset="0.417" stop-color="#289d85"/><stop offset="0.458" stop-color="#2ba185"/><stop offset="0.5" stop-color="#2ea584"/><stop offset="0.542" stop-color="#31a984"/><stop offset="0.583" stop-color="#36ac83"/><stop offset="0.625" stop-color="#3cb081"/><stop offset="0.667" stop-color="#41b480"/><stop offset="0.708" stop-color="#45b67f"/><stop offset="0.75" stop-color="#45b67f"/><stop offset="0.792" stop-color="#41b380"/><stop offset="0.833" stop-color="#37ad82"/><stop offset="0.875" stop-color="#2ba185"/><stop offset="0.917" stop-color="#208d87"/><stop offset="0.958" stop-color="#186a87"/><stop offset="1" stop-color="#17457f"/></linearGradient><linearGradient id="b55"><stop offset="0" stop-color="#1e8788"/><stop offset="0.0417" stop-color="#1f8888"/><stop offset="0.0833" stop-color="#1f8a88"/><stop offset="0.125" stop-color="#208c87"/><stop offset="0.167" stop-color="#218e87"/><stop offset="0.208" stop-color="#229087"/><stop offset="0.25" stop-color="#239286"/><stop offset="0.292" stop-color="#249586"/><stop offset="0.333" stop-color="#269886"/><stop offset="0.375" stop-color="#289b85"/><stop offset="0.417" stop-color="#2a9f85"/><stop offset="0.458" stop-color="#2da385"/><stop offset="0.5" stop-color="#2fa784"/><stop offset="0.542" stop-color="#33aa83"/><stop offset="0.583" stop-color="#39ae82"/><stop offset="0.625" stop-color="#3eb281"/><stop offset="0.667" stop-color="#43b580"/><stop offset="0.708" stop-color="#46b77f"/><stop offset="0.75" stop-color="#46b77f"/><stop offset="0.792" stop-color="#41b480"/><stop offset="0.833" stop-color="#37ad82"/><stop offset="0.875" stop-color="#2ba185"/><stop offset="0.917" stop-color="#208c87"/><stop offset="0.958" stop-color="#186987"/><stop offset="1" stop-color="#17427f"/></linearGradient><linearGradient id="b56"><stop offset="0" stop-color="#208b87"/><stop offset="0.0417" stop-color="#208c87"/><stop offset="0.0833" stop-color="#218e87"/><stop offset="0.125" stop-color="#218f87"/><stop offset="0.167" stop-color="#229187"/><stop offset="0.208" stop-color="#239386"/><stop offset="0.25" stop-color="#249586"/><stop offset="0.292" stop-color="#259886"/><stop offset="0.333" stop-color="#279b85"/><stop offset="0.375" stop-color="#299e85"/><stop offset="0.417" stop-color="#2ba185"/><stop offset="0.458" stop-color="#2ea584"/><stop offset="0.5" stop-color="#31a984"/><stop offset="0.542" stop-color="#36ac83"/><stop offset="0.583" stop-color="#3bb081"/><stop offset="0.625" stop-color="#40b380"/><stop offset="0.667" stop-color="#45b67f"/><stop offset="0.708" stop-color="#47b87f"/><stop offset="0.75" stop-color="#46b77f"/><stop offset="0.792" stop-color="#41b480"/><stop offset="0.833" stop-color="#37ad82"/><stop offset="0.875" stop-color="#2ba085"/><stop offset="0.917" stop-color="#208c87"/><stop offset="0.958" stop-color="#186887"/><stop offset="1" stop-color="#18417e"/></linearGradient><linearGradient id="b57"><stop offset="0" stop-color="#218e87"/><stop offset="0.0417" stop-color="#229087"/><stop offset="0.0833" stop-color="#229187"/><stop offset="0.125" stop-color="#239286"/><stop offset="0.167" stop-color="#239486"/><stop offset="0.208" stop-color="#249686"/><stop offset="0.25" stop-color="#259886"/><stop offset="0.292" stop-color="#279a86"/><stop offset="0.333" stop-color="#299d85"/><stop offset="0.375" stop-color="#2ba085"/><stop offset="0.417" stop-color="#2da385"/><stop offset="0.458" stop-color="#2fa784"/><stop offset="0.5" stop-color="#34ab83"/><stop offset="0.542" stop-color="#39ae82"/><stop offset="0.583" stop-color="#3db181"/><stop offset="0.625" stop-color="#42b480"/><stop offset="0.667" stop-color="#46b77f"/><stop offset="0.708" stop-color="#48b87e"/><stop offset="0.75" stop-color="#47b87f"/><stop offset="0.792" stop-color="#42b480"/><stop offset="0.833" stop-color="#37ad82"/><stop offset="0.875" stop-color="#2ba085"/><stop offset="0.917" stop-color="#208b87"/><stop offset="0.958" stop-color="#186787"/><stop offset="1" stop-color="#18407e"/></linearGradient><linearGradient id="b58"><stop offset="0" stop-color="#229287"/><stop offset="0.0417" stop-color="#239486"/><stop offset="0.0833" stop-color="#249586"/><stop offset="0.125" stop-color="#249686"/><stop offset="0.167" stop-color="#259786"/><stop offset="0.208" stop-color="#269886"/><stop offset="0.25" stop-color="#279a86"/><stop offset="0.292" stop-color="#289d85"/><stop offset="0.333" stop-color="#2a9f85"/><stop offset="0.375" stop-color="#2ca285"/><stop offset="0.417" stop-color="#2fa684"/><stop offset="0.458" stop-color="#32a984"/><stop offset="0.5" stop-color="#36ac83"/><stop offset="0.542" stop-color="#3bb081"/><stop offset="0.583" stop-color="#40b380"/><stop offset="0.625" stop-color="#44b67f"/><stop offset="0.667" stop-color="#48b87e"/><stop offset="0.708" stop-color="#4ab97e"/><stop offset="0.75" stop-color="#48b87f"/><stop offset="0.792" stop-color="#42b480"/><stop offset="0.833" stop-color="#37ad82"/><stop offset="0.875" stop-color="#2ba085"/><stop offset="0.917" stop-color="#208b87"/><stop offset="0.958" stop-color="#176787"/><stop offset="1" stop-color="#18407e"/></linearGradient><linearGradient id="b59"><stop offset="0" stop-color="#249686"/><stop offset="0.0417" stop-color="#259786"/><stop offset="0.0833" stop-color="#259886"/><stop offset="0.125" stop-color="#269986"/><stop offset="0.167" stop-color="#269a86"/><stop offset="0.208" stop-color="#279b85"/><stop offset="0.25" stop-color="#289d85"/><stop offset="0.292" stop-color="#2a9f85"/><stop offset="0.333" stop-color="#2ca285"/><stop offset="0.375" stop-color="#2ea584"/><stop offset="0.417" stop-color="#30a884"/><stop offset="0.458" stop-color="#35ab83"/><stop offset="0.5" stop-color="#39ae82"/><stop offset="0.542" stop-color="#3eb181"/><stop offset="0.583" stop-color="#42b480"/><stop offset="0.625" stop-color="#46b77f"/><stop offset="0.667" stop-color="#49b97e"/><stop offset="0.708" stop-color="#4ab97e"/><stop offset="0.75" stop-color="#48b87e"/><stop offset="0.792" stop-color="#42b480"/><stop offset="0.833" stop-color="#37ad82"/><stop offset="0.875" stop-color="#2aa085"/><stop offset="0.917" stop-color="#1f8a88"/><stop offset="0.958" stop-color="#176787"/><stop offset="1" stop-color="#18407e"/></linearGradient><linearGradient id="b60"><stop offset="0" stop-color="#269986"/><stop offset="0.0417" stop-color="#279a86"/><stop offset="0.0833" stop-color="#279b85"/><stop offset="0.125" stop-color="#289b85"/><stop offset="0.167" stop-color="#289c85"/><stop offset="0.208" stop-color="#299d85"/><stop offset="0.25" stop-color="#2a9f85"/><stop offset="0.292" stop-color="#2ca185"/><stop offset="0.333" stop-color="#2da484"/><stop offset="0.375" stop-color="#2fa784"/><stop offset="0.417" stop-color="#33aa83"/><stop offset="0.458" stop-color="#37ad82"/><stop offset="0.5" stop-color="#3cb081"/><stop offset="0.542" stop-color="#40b380"/><stop offset="0.583" stop-color="#44b67f"/><stop offset="0.625" stop-color="#48b87e"/><stop offset="0.667" stop-color="#4bba7e"/><stop offset="0.708" stop-color="#4bba7d"/><stop offset="0.75" stop-color="#49b97e"/><stop offset="0.792" stop-color="#42b580"/><stop offset="0.833" stop-color="#36ac83"/><stop offset="0.875" stop-color="#2a9f85"/><stop offset="0.917" stop-color="#1f8a88"/><stop offset="0.958" stop-color="#176787"/><stop offset="1" stop-color="#18407e"/></linearGradient><linearGradient id="b61"><stop offset="0" stop-color="#289c85"/><stop offset="0.0417" stop-color="#299d85"/><stop offset="0.0833" stop-color="#299e85"/><stop offset="0.125" stop-color="#299e85"/><stop offset="0.167" stop-color="#2a9f85"/><stop offset="0.208" stop-color="#2ba085"/><stop offset="0.25" stop-color="#2ca285"/><stop offset="0.292" stop-color="#2da484"/><stop offset="0.333" stop-color="#2fa684"/><stop offset="0.375" stop-color="#32a984"/><stop offset="0.417" stop-color="#36ac83"/><stop offset="0.458" stop-color="#3aaf82"/><stop offset="0.5" stop-color="#3eb281"/><stop offset="0.542" stop-color="#42b580"/><stop offset="0.583" stop-color="#46b77f"/><stop offset="0.625" stop-color="#4ab97e"/><stop offset="0.667" stop-color="#4cbb7d"/><stop offset="0.708" stop-color="#4cbb7d"/><stop offset="0.75" stop-color="#4ab97e"/><stop offset="0.792" stop-color="#43b580"/><stop offset="0.833" stop-color="#36ac83"/><stop offset="0.875" stop-color="#2a9f85"/><stop offset="0.917" stop-color="#1f8988"/><stop offset="0.958" stop-color="#176787"/><stop offset="1" stop-color="#18407e"/></linearGradient><linearGradient id="b62"><stop offset="0" stop-color="#2a9f85"/><stop offset="0.0417" stop-color="#2ba085"/><stop offset="0.0833" stop-color="#2ba085"/><stop offset="0.125" stop-color="#2ba185"/><stop offset="0.167" stop-color="#2ca185"/><stop offset="0.208" stop-color="#2ca285"/><stop offset="0.25" stop-color="#2da484"/><stop offset="0.292" stop-color="#2fa684"/><stop offset="0.333" stop-color="#31a984"/><stop offset="0.375" stop-color="#34ab83"/><stop offset="0.417" stop-color="#38ae82"/><stop offset="0.458" stop-color="#3db181"/><stop offset="0.5" stop-color="#41b480"/><stop offset="0.542" stop-color="#45b67f"/><stop offset="0.583" stop-color="#49b87e"/><stop offset="0.625" stop-color="#4cba7d"/><stop offset="0.667" stop-color="#4ebb7d"/><stop offset="0.708" stop-color="#4dbb7d"/><stop offset="0.75" stop-color="#4ab97e"/><stop offset="0.792" stop-color="#43b580"/><stop offset="0.833" stop-color="#36ac83"/><stop offset="0.875" stop-color="#2a9e85"/><stop offset="0.917" stop-color="#1f8988"/><stop offset="0.958" stop-color="#176787"/><stop offset="1" stop-color="#18407e"/></linearGradient><linearGradient id="b63"><stop offset="0" stop-color="#2ca185"/><stop offset="0.0417" stop-color="#2ca385"/><stop offset="0.0833" stop-color="#2da385"/><stop offset="0.125" stop-color="#2da385"/><stop offset="0.167" stop-color="#2da484"/><stop offset="0.208" stop-color="#2ea584"/><stop offset="0.25" stop-color="#2fa684"/><stop offset="0.292" stop-color="#31a884"/><stop offset="0.333" stop-color="#34ab83"/><stop offset="0.375" stop-color="#37ad82"/><stop offset="0.417" stop-color="#3bb081"/><stop offset="0.458" stop-color="#3fb380"/><stop offset="0.5" stop-color="#44b580"/><stop offset="0.542" stop-color="#47b87f"/><stop offset="0.583" stop-color="#4bba7e"/><stop offset="0.625" stop-color="#4ebb7d"/><stop offset="0.667" stop-color="#4fbc7c"/><stop offset="0.708" stop-color="#4ebc7d"/><stop offset="0.75" stop-color="#4ab97e"/><stop offset="0.792" stop-color="#43b580"/><stop offset="0.833" stop-color="#36ac83"/><stop offset="0.875" stop-color="#299e85"/><stop offset="0.917" stop-color="#1f8988"/><stop offset="0.958" stop-color="#176787"/><stop offset="1" stop-color="#18417e"/></linearGradient><linearGradient id="b64"><stop offset="0" stop-color="#2ea484"/><stop offset="0.0417" stop-color="#2ea584"/><stop offset="0.0833" stop-color="#2fa684"/><stop offset="0.125" stop-color="#2fa684"/><stop offset="0.167" stop-color="#2fa784"/><stop offset="0.208" stop-color="#30a784"/><stop offset="0.25" stop-color="#31a984"/><stop offset="0.292" stop-color="#34ab83"/><stop offset="0.333" stop-color="#37ad82"/><stop offset="0.375" stop-color="#3aaf82"/><stop offset="0.417" stop-color="#3eb281"/><stop offset="0.458" stop-color="#42b480"/><stop offset="0.5" stop-color="#46b77f"/><stop offset="0.542" stop-color="#4ab97e"/><stop offset="0.583" stop-color="#4dbb7d"/><stop offset="0.625" stop-color="#50bd7c"/><stop offset="0.667" stop-color="#51bd7c"/><stop offset="0.708" stop-color="#4fbc7c"/><stop offset="0.75" stop-color="#4bba7e"/><stop offset="0.792" stop-color="#44b580"/><stop offset="0.833" stop-color="#35ac83"/><stop offset="0.875" stop-color="#299d85"/><stop offset="0.917" stop-color="#1f8888"/><stop offset="0.958" stop-color="#176787"/><stop offset="1" stop-color="#18417e"/></linearGradient><linearGradient id="b65"><stop offset="0" stop-color="#2fa784"/><stop offset="0.0417" stop-color="#30a884"/><stop offset="0.0833" stop-color="#31a884"/><stop offset="0.125" stop-color="#31a984"/><stop offset="0.167" stop-color="#31a984"/><stop offset="0.208" stop-color="#32aa83"/><stop offset="0.25" stop-color="#34ab83"/><stop offset="0.292" stop-color="#37ad82"/><stop offset="0.333" stop-color="#3aaf82"/><stop offset="0.375" stop-color="#3db181"/><stop offset="0.417" stop-color="#41b380"/><stop offset="0.458" stop-color="#45b67f"/><stop offset="0.5" stop-color="#49b97e"/><stop offset="0.542" stop-color="#4dbb7d"/><stop offset="0.583" stop-color="#50bc7c"/><stop offset="0.625" stop-color="#52be7c"/><stop offset="0.667" stop-color="#52be7c"/><stop offset="0.708" stop-color="#50bd7c"/><stop offset="0.75" stop-color="#4cba7d"/><stop offset="0.792" stop-color="#44b67f"/><stop offset="0.833" stop-color="#35ab83"/><stop offset="0.875" stop-color="#289d85"/><stop offset="0.917" stop-color="#1e8888"/><stop offset="0.958" stop-color="#176787"/><stop offset="1" stop-color="#18417e"/></linearGradient><linearGradient id="b66"><stop offset="0" stop-color="#32aa83"/><stop offset="0.0417" stop-color="#34aa83"/><stop offset="0.0833" stop-color="#34ab83"/><stop offset="0.125" stop-color="#34ab83"/><stop offset="0.167" stop-color="#34ab83"/><stop offset="0.208" stop-color="#35ac83"/><stop offset="0.25" stop-color="#37ad82"/><stop offset="0.292" stop-color="#3aaf82"/><stop offset="0.333" stop-color="#3db181"/><stop offset="0.375" stop-color="#40b380"/><stop offset="0.417" stop-color="#43b580"/><stop offset="0.458" stop-color="#48b87f"/><stop offset="0.5" stop-color="#4cba7d"/><stop offset="0.542" stop-color="#4fbc7c"/><stop offset="0.583" stop-color="#52be7c"/><stop offset="0.625" stop-color="#54bf7b"/><stop offset="0.667" stop-color="#54bf7b"/><stop offset="0.708" stop-color="#51bd7c"/><stop offset="0.75" stop-color="#4dbb7d"/><stop offset="0.792" stop-color="#44b67f"/><stop offset="0.833" stop-color="#34ab83"/><stop offset="0.875" stop-color="#289c85"/><stop offset="0.917" stop-color="#1e8788"/><stop offset="0.958" stop-color="#176787"/><stop offset="1" stop-color="#18417e"/></linearGradient><linearGradient id="b67"><stop offset="0" stop-color="#36ac83"/><stop offset="0.0417" stop-color="#37ad82"/><stop offset="0.0833" stop-color="#37ad82"/><stop offset="0.125" stop-color="#37ad82"/><stop offset="0.167" stop-color="#38ad82"/><stop offset="0.208" stop-color="#38ae82"/><stop offset="0.25" stop-color="#3aaf82"/><stop offset="0.292" stop-color="#3db181"/><stop offset="0.333" stop-color="#40b380"/><stop offset="0.375" stop-color="#43b580"/><stop offset="0.417" stop-color="#46b77f"/><stop offset="0.458" stop-color="#4bba7e"/><stop offset="0.5" stop-color="#4fbc7d"/><stop offset="0.542" stop-color="#52be7c"/><stop offset="0.583" stop-color="#54bf7b"/><stop offset="0.625" stop-color="#56c07b"/><stop offset="0.667" stop-color="#55c07b"/><stop offset="0.708" stop-color="#53be7b"/><stop offset="0.75" stop-color="#4ebc7d"/><stop offset="0.792" stop-color="#44b67f"/><stop offset="0.833" stop-color="#33aa83"/><stop offset="0.875" stop-color="#279b85"/><stop offset="0.917" stop-color="#1e8688"/><stop offset="0.958" stop-color="#176687"/><stop offset="1" stop-color="#18417e"/></linearGradient><linearGradient id="b68"><stop offset="0" stop-color="#39ae82"/><stop offset="0.0417" stop-color="#3aaf82"/><stop offset="0.0833" stop-color="#3aaf82"/><stop offset="0.125" stop-color="#3aaf82"/><stop offset="0.167" stop-color="#3baf82"/><stop offset="0.208" stop-color="#3bb081"/><stop offset="0.25" stop-color="#3db181"/><stop offset="0.292" stop-color="#40b380"/><stop offset="0.333" stop-color="#42b580"/><stop offset="0.375" stop-color="#46b77f"/><stop offset="0.417" stop-color="#49b97e"/><stop offset="0.458" stop-color="#4ebb7d"/><stop offset="0.5" stop-color="#52be7c"/><stop offset="0.542" stop-color="#55bf7b"/><stop offset="0.583" stop-color="#57c07a"/><stop offset="0.625" stop-color="#58c17a"/><stop offset="0.667" stop-color="#57c07a"/><stop offset="0.708" stop-color="#54bf7b"/><stop offset="0.75" stop-color="#4fbc7d"/><stop offset="0.792" stop-color="#45b67f"/><stop offset="0.833" stop-color="#33aa83"/><stop offset="0.875" stop-color="#279a86"/><stop offset="0.917" stop-color="#1d8588"/><stop offset="0.958" stop-color="#176687"/><stop offset="1" stop-color="#18417e"/></linearGradient><linearGradient id="b69"><stop offset="0" stop-color="#3cb081"/><stop offset="0.0417" stop-color="#3db181"/><stop offset="0.0833" stop-color="#3db181"/><stop offset="0.125" stop-color="#3db181"/><stop offset="0.167" stop-color="#3eb181"/><stop offset="0.208" stop-color="#3eb281"/><stop offset="0.25" stop-color="#40b380"/><stop offset="0.292" stop-color="#42b580"/><stop offset="0.333" stop-color="#45b77f"/><stop offset="0.375" stop-color="#49b97e"/><stop offset="0.417" stop-color="#4cbb7d"/><stop offset="0.458" stop-color="#50bd7c"/><stop offset="0.5" stop-color="#54bf7b"/><stop offset="0.542" stop-color="#57c17a"/><stop offset="0.583" stop-color="#59c27a"/><stop offset="0.625" stop-color="#5ac279"/><stop offset="0.667" stop-color="#58c17a"/><stop offset="0.708" stop-color="#55bf7b"/><stop offset="0.75" stop-color="#4fbc7c"/><stop offset="0.792" stop-color="#44b67f"/><stop offset="0.833" stop-color="#32a984"/><stop offset="0.875" stop-color="#269a86"/><stop offset="0.917" stop-color="#1d8588"/><stop offset="0.958" stop-color="#176587"/><stop offset="1" stop-color="#18407e"/></linearGradient><linearGradient id="b70"><stop offset="0" stop-color="#3fb281"/><stop offset="0.0417" stop-color="#40b380"/><stop offset="0.0833" stop-color="#40b380"/><stop offset="0.125" stop-color="#40b380"/><stop offset="0.167" stop-color="#40b380"/><stop offset="0.208" stop-color="#41b480"/><stop offset="0.25" stop-color="#43b580"/><stop offset="0.292" stop-color="#45b77f"/><stop offset="0.333" stop-color="#49b87e"/><stop offset="0.375" stop-color="#4cba7d"/><stop offset="0.417" stop-color="#4fbc7c"/><stop offset="0.458" stop-color="#53be7b"/><stop offset="0.5" stop-color="#57c17a"/><stop offset="0.542" stop-color="#5ac279"/><stop offset="0.583" stop-color="#5cc379"/><stop offset="0.625" stop-color="#5cc379"/><stop offset="0.667" stop-color="#5ac279"/><stop offset="0.708" stop-color="#56c07b"/><stop offset="0.75" stop-color="#50bc7c"/><stop offset="0.792" stop-color="#44b67f"/><stop offset="0.833" stop-color="#31a984"/><stop offset="0.875" stop-color="#269986"/><stop offset="0.917" stop-color="#1d8488"/><stop offset="0.958" stop-color="#176587"/><stop offset="1" stop-color="#18407e"/></linearGradient><linearGradient id="b71"><stop offset="0" stop-color="#42b480"/><stop offset="0.0417" stop-color="#43b580"/><stop offset="0.0833" stop-color="#43b580"/><stop offset="0.125" stop-color="#43b580"/><stop offset="0.167" stop-color="#43b580"/><stop offset="0.208" stop-color="#44b67f"/><stop offset="0.25" stop-color="#46b77f"/><stop offset="0.292" stop-color="#49b87e"/><stop offset="0.333" stop-color="#4cba7d"/><stop offset="0.375" stop-color="#4fbc7c"/><stop offset="0.417" stop-color="#53be7b"/><stop offset="0.458" stop-color="#56c07a"/><stop offset="0.5" stop-color="#5ac279"/><stop offset="0.542" stop-color="#5cc479"/><stop offset="0.583" stop-color="#5ec478"/><stop offset="0.625" stop-color="#5ec478"/><stop offset="0.667" stop-color="#5bc379"/><stop offset="0.708" stop-color="#56c07a"/><stop offset="0.75" stop-color="#4fbc7c"/><stop offset="0.792" stop-color="#43b580"/><stop offset="0.833" stop-color="#30a884"/><stop offset="0.875" stop-color="#269886"/><stop offset="0.917" stop-color="#1d8388"/><stop offset="0.958" stop-color="#176487"/><stop offset="1" stop-color="#18407e"/></linearGradient><linearGradient id="b72"><stop offset="0" stop-color="#45b67f"/><stop offset="0.0417" stop-color="#45b77f"/><stop offset="0.0833" stop-color="#46b77f"/><stop offset="0.125" stop-color="#46b77f"/><stop offset="0.167" stop-color="#46b77f"/><stop offset="0.208" stop-color="#48b87f"/><stop offset="0.25" stop-color="#49b97e"/><stop offset="0.292" stop-color="#4cba7d"/><stop offset="0.333" stop-color="#4fbc7c"/><stop offset="0.375" stop-color="#52be7c"/><stop offset="0.417" stop-color="#56c07b"/><stop offset="0.458" stop-color="#59c27a"/><stop offset="0.5" stop-color="#5dc479"/><stop offset="0.542" stop-color="#5fc578"/><stop offset="0.583" stop-color="#61c678"/><stop offset="0.625" stop-color="#60c578"/><stop offset="0.667" stop-color="#5dc479"/><stop offset="0.708" stop-color="#57c17a"/><stop offset="0.75" stop-color="#4fbc7c"/><stop offset="0.792" stop-color="#42b580"/><stop offset="0.833" stop-color="#30a884"/><stop offset="0.875" stop-color="#259886"/><stop offset="0.917" stop-color="#1c8389"/><stop offset="0.958" stop-color="#176487"/><stop offset="1" stop-color="#183f7e"/></linearGradient><linearGradient id="b73"><stop offset="0" stop-color="#47b87f"/><stop offset="0.0417" stop-color="#48b87e"/><stop offset="0.0833" stop-color="#48b87e"/><stop offset="0.125" stop-color="#49b97e"/><stop offset="0.167" stop-color="#49b97e"/><stop offset="0.208" stop-color="#4bba7e"/><stop offset="0.25" stop-color="#4cbb7d"/><stop offset="0.292" stop-color="#4fbc7c"/><stop offset="0.333" stop-color="#52be7c"/><stop offset="0.375" stop-color="#55c07b"/><stop offset="0.417" stop-color="#59c17a"/><stop offset="0.458" stop-color="#5cc379"/><stop offset="0.5" stop-color="#5fc578"/><stop offset="0.542" stop-color="#62c677"/><stop offset="0.583" stop-color="#64c777"/><stop offset="0.625" stop-color="#62c677"/><stop offset="0.667" stop-color="#5ec578"/><stop offset="0.708" stop-color="#58c17a"/><stop offset="0.75" stop-color="#4fbc7c"/><stop offset="0.792" stop-color="#42b480"/><stop offset="0.833" stop-color="#30a884"/><stop offset="0.875" stop-color="#259886"/><stop offset="0.917" stop-color="#1c8289"/><stop offset="0.958" stop-color="#176387"/><stop offset="1" stop-color="#183f7d"/></linearGradient><linearGradient id="b74"><stop offset="0" stop-color="#4ab97e"/><stop offset="0.0417" stop-color="#4aba7e"/><stop offset="0.0833" stop-color="#4bba7e"/><stop offset="0.125" stop-color="#4cba7d"/><stop offset="0.167" stop-color="#4dbb7d"/><stop offset="0.208" stop-color="#4ebc7d"/><stop offset="0.25" stop-color="#50bc7c"/><stop offset="0.292" stop-color="#53be7b"/><stop offset="0.333" stop-color="#56c07b"/><stop offset="0.375" stop-color="#59c17a"/><stop offset="0.417" stop-color="#5cc379"/><stop offset="0.458" stop-color="#5fc578"/><stop offset="0.5" stop-color="#63c677"/><stop offset="0.542" stop-color="#66c776"/><stop offset="0.583" stop-color="#67c876"/><stop offset="0.625" stop-color="#65c776"/><stop offset="0.667" stop-color="#60c578"/><stop offset="0.708" stop-color="#59c27a"/><stop offset="0.75" stop-color="#4fbc7d"/><stop offset="0.792" stop-color="#41b480"/><stop offset="0.833" stop-color="#30a884"/><stop offset="0.875" stop-color="#259886"/><stop offset="0.917" stop-color="#1c8289"/><stop offset="0.958" stop-color="#176387"/><stop offset="1" stop-color="#183e7d"/></linearGradient><linearGradient id="b75"><stop offset="0" stop-color="#4cba7d"/><stop offset="0.0417" stop-color="#4dbb7d"/><stop offset="0.0833" stop-color="#4ebb7d"/><stop offset="0.125" stop-color="#4fbc7d"/><stop offset="0.167" stop-color="#50bd7c"/><stop offset="0.208" stop-color="#52bd7c"/><stop offset="0.25" stop-color="#53be7b"/><stop offset="0.292" stop-color="#56c07b"/><stop offset="0.333" stop-color="#59c17a"/><stop offset="0.375" stop-color="#5cc379"/><stop offset="0.417" stop-color="#5fc578"/><stop offset="0.458" stop-color="#63c677"/><stop offset="0.5" stop-color="#66c776"/><stop offset="0.542" stop-color="#69c875"/><stop offset="0.583" stop-color="#6ac975"/><stop offset="0.625" stop-color="#68c875"/><stop offset="0.667" stop-color="#62c677"/><stop offset="0.708" stop-color="#5ac279"/><stop offset="0.75" stop-color="#4fbc7d"/><stop offset="0.792" stop-color="#41b480"/><stop offset="0.833" stop-color="#30a884"/><stop offset="0.875" stop-color="#259886"/><stop offset="0.917" stop-color="#1c8289"/><stop offset="0.958" stop-color="#176287"/><stop offset="1" stop-color="#183e7d"/></linearGradient><linearGradient id="b76"><stop offset="0" stop-color="#4ebb7d"/><stop offset="0.0417" stop-color="#4fbc7c"/><stop offset="0.0833" stop-color="#50bd7c"/><stop offset="0.125" stop-color="#52be7c"/><stop offset="0.167" stop-color="#53be7b"/><stop offset="0.208" stop-color="#55bf7b"/><stop offset="0.25" stop-color="#57c07a"/><stop offset="0.292" stop-color="#59c27a"/><stop offset="0.333" stop-color="#5cc379"/><stop offset="0.375" stop-color="#5fc578"/><stop offset="0.417" stop-color="#62c677"/><stop offset="0.458" stop-color="#66c776"/><stop offset="0.5" stop-color="#6ac975"/><stop offset="0.542" stop-color="#6cc974"/><stop offset="0.583" stop-color="#6dca74"/><stop offset="0.625" stop-color="#6ac975"/><stop offset="0.667" stop-color="#64c776"/><stop offset="0.708" stop-color="#5bc379"/><stop offset="0.75" stop-color="#4fbc7c"/><stop offset="0.792" stop-color="#41b480"/><stop offset="0.833" stop-color="#30a884"/><stop offset="0.875" stop-color="#259886"/><stop offset="0.917" stop-color="#1c8289"/><stop offset="0.958" stop-color="#176286"/><stop offset="1" stop-color="#183d7d"/></linearGradient><linearGradient id="b77"><stop offset="0" stop-color="#4fbc7d"/><stop offset="0.0417" stop-color="#51bd7c"/><stop offset="0.0833" stop-color="#53be7b"/><stop offset="0.125" stop-color="#54bf7b"/><stop offset="0.167" stop-color="#56c07a"/><stop offset="0.208" stop-color="#58c17a"/><stop offset="0.25" stop-color="#5ac279"/><stop offset="0.292" stop-color="#5cc479"/><stop offset="0.333" stop-color="#5fc578"/><stop offset="0.375" stop-color="#63c677"/><stop offset="0.417" stop-color="#66c776"/><stop offset="0.458" stop-color="#6ac975"/><stop offset="0.5" stop-color="#6dca74"/><stop offset="0.542" stop-color="#70cb73"/><stop offset="0.583" stop-color="#70cb73"/><stop offset="0.625" stop-color="#6dca74"/><stop offset="0.667" stop-color="#66c776"/><stop offset="0.708" stop-color="#5cc379"/><stop offset="0.75" stop-color="#50bc7c"/><stop offset="0.792" stop-color="#41b480"/><stop offset="0.833" stop-color="#30a884"/><stop offset="0.875" stop-color="#259886"/><stop offset="0.917" stop-color="#1c8289"/><stop offset="0.958" stop-color="#176186"/><stop offset="1" stop-color="#183d7d"/></linearGradient><linearGradient id="b78"><stop offset="0" stop-color="#50bd7c"/><stop offset="0.0417" stop-color="#53be7b"/><stop offset="0.0833" stop-color="#55bf7b"/><stop offset="0.125" stop-color="#57c17a"/><stop offset="0.167" stop-color="#59c27a"/><stop offset="0.208" stop-color="#5bc379"/><stop offset="0.25" stop-color="#5dc478"/><stop offset="0.292" stop-color="#60c578"/><stop offset="0.333" stop-color="#63c677"/><stop offset="0.375" stop-color="#67c876"/><stop offset="0.417" stop-color="#6ac975"/><stop offset="0.458" stop-color="#6eca74"/><stop offset="0.5" stop-color="#71cb73"/><stop offset="0.542" stop-color="#73cc72"/><stop offset="0.583" stop-color="#73cc72"/><stop offset="0.625" stop-color="#70cb73"/><stop offset="0.667" stop-color="#69c875"/><stop offset="0.708" stop-color="#5ec478"/><stop offset="0.75" stop-color="#51bd7c"/><stop offset="0.792" stop-color="#42b480"/><stop offset="0.833" stop-color="#30a884"/><stop offset="0.875" stop-color="#259886"/><stop offset="0.917" stop-color="#1c8289"/><stop offset="0.958" stop-color="#176186"/><stop offset="1" stop-color="#183c7d"/></linearGradient><linearGradient id="b79"><stop offset="0" stop-color="#51bd7c"/><stop offset="0.0417" stop-color="#54bf7b"/><stop offset="0.0833" stop-color="#57c17a"/><stop offset="0.125" stop-color="#5ac27a"/><stop offset="0.167" stop-color="#5cc379"/><stop offset="0.208" stop-color="#5ec578"/><stop offset="0.25" stop-color="#61c677"/><stop offset="0.292" stop-color="#64c776"/><stop offset="0.333" stop-color="#67c875"/><stop offset="0.375" stop-color="#6ac975"/><stop offset="0.417" stop-color="#6eca74"/><stop offset="0.458" stop-color="#71cb73"/><stop offset="0.5" stop-color="#74cc72"/><stop offset="0.542" stop-color="#76cd71"/><stop offset="0.583" stop-color="#76cd71"/><stop offset="0.625" stop-color="#72cb72"/><stop offset="0.667" stop-color="#6bc974"/><stop offset="0.708" stop-color="#5fc578"/><stop offset="0.75" stop-color="#52be7c"/><stop offset="0.792" stop-color="#42b480"/><stop offset="0.833" stop-color="#30a884"/><stop offset="0.875" stop-color="#259886"/><stop offset="0.917" stop-color="#1c8289"/><stop offset="0.958" stop-color="#176086"/><stop offset="1" stop-color="#183c7c"/></linearGradient><linearGradient id="b80"><stop offset="0" stop-color="#51bd7c"/><stop offset="0.0417" stop-color="#56c07b"/><stop offset="0.0833" stop-color="#59c27a"/><stop offset="0.125" stop-color="#5cc379"/><stop offset="0.167" stop-color="#5fc578"/><stop offset="0.208" stop-color="#62c677"/><stop offset="0.25" stop-color="#65c776"/><stop offset="0.292" stop-color="#68c875"/><stop offset="0.333" stop-color="#6bc974"/><stop offset="0.375" stop-color="#6eca73"/><stop offset="0.417" stop-color="#71cb72"/><stop offset="0.458" stop-color="#75cc71"/><stop offset="0.5" stop-color="#78cd70"/><stop offset="0.542" stop-color="#7ace70"/><stop offset="0.583" stop-color="#79ce70"/><stop offset="0.625" stop-color="#75cc71"/><stop offset="0.667" stop-color="#6dca74"/><stop offset="0.708" stop-color="#61c677"/><stop offset="0.75" stop-color="#54bf7b"/><stop offset="0.792" stop-color="#43b580"/><stop offset="0.833" stop-color="#30a884"/><stop offset="0.875" stop-color="#259886"/><stop offset="0.917" stop-color="#1c8289"/><stop offset="0.958" stop-color="#176186"/><stop offset="1" stop-color="#183c7c"/></linearGradient><linearGradient id="b81"><stop offset="0" stop-color="#52be7c"/><stop offset="0.0417" stop-color="#57c07a"/><stop offset="0.0833" stop-color="#5bc379"/><stop offset="0.125" stop-color="#5ec578"/><stop offset="0.167" stop-color="#63c677"/><stop offset="0.208" stop-color="#66c776"/><stop offset="0.25" stop-color="#6ac975"/><stop offset="0.292" stop-color="#6dca74"/><stop offset="0.333" stop-color="#6fca73"/><stop offset="0.375" stop-color="#72cb72"/><stop offset="0.417" stop-color="#75cc71"/><stop offset="0.458" stop-color="#78cd70"/><stop offset="0.5" stop-color="#7bce6f"/><stop offset="0.542" stop-color="#7dcf6f"/><stop offset="0.583" stop-color="#7ccf6f"/><stop offset="0.625" stop-color="#78cd70"/><stop offset="0.667" stop-color="#70cb73"/><stop offset="0.708" stop-color="#63c677"/><stop offset="0.75" stop-color="#55c07b"/><stop offset="0.792" stop-color="#43b580"/><stop offset="0.833" stop-color="#30a884"/><stop offset="0.875" stop-color="#259886"/><stop offset="0.917" stop-color="#1c8289"/><stop offset="0.958" stop-color="#176186"/><stop offset="1" stop-color="#183c7c"/></linearGradient><linearGradient id="b82"><stop offset="0" stop-color="#53be7b"/><stop offset="0.0417" stop-color="#58c17a"/><stop offset="0.0833" stop-color="#5cc479"/><stop offset="0.125" stop-color="#61c677"/><stop offset="0.167" stop-color="#66c776"/><stop offset="0.208" stop-color="#6ac975"/><stop offset="0.25" stop-color="#6eca74"/><stop offset="0.292" stop-color="#71cb73"/><stop offset="0.333" stop-color="#73cc72"/><stop offset="0.375" stop-color="#76cd71"/><stop offset="0.417" stop-color="#79ce70"/><stop offset="0.458" stop-color="#7ccf6f"/><stop offset="0.5" stop-color="#7fd06e"/><stop offset="0.542" stop-color="#80d06e"/><stop offset="0.583" stop-color="#7fd06e"/><stop offset="0.625" stop-color="#7bce70"/><stop offset="0.667" stop-color="#72cb72"/><stop offset="0.708" stop-color="#66c776"/><stop offset="0.75" stop-color="#57c07a"/><stop offset="0.792" stop-color="#44b67f"/><stop offset="0.833" stop-color="#30a784"/><stop offset="0.875" stop-color="#259886"/><stop offset="0.917" stop-color="#1c8289"/><stop offset="0.958" stop-color="#176286"/><stop offset="1" stop-color="#183c7c"/></linearGradient><linearGradient id="b83"><stop offset="0" stop-color="#53be7b"/><stop offset="0.0417" stop-color="#59c17a"/><stop offset="0.0833" stop-color="#5ec478"/><stop offset="0.125" stop-color="#64c776"/><stop offset="0.167" stop-color="#6ac975"/><stop offset="0.208" stop-color="#6eca73"/><stop offset="0.25" stop-color="#72cb72"/><stop offset="0.292" stop-color="#75cc71"/><stop offset="0.333" stop-color="#77cd71"/><stop offset="0.375" stop-color="#7ace70"/><stop offset="0.417" stop-color="#7ccf6f"/><stop offset="0.458" stop-color="#7fd06e"/><stop offset="0.5" stop-color="#82d16e"/><stop offset="0.542" stop-color="#84d16d"/><stop offset="0.583" stop-color="#83d16d"/><stop offset="0.625" stop-color="#7dcf6f"/><stop offset="0.667" stop-color="#75cc71"/><stop offset="0.708" stop-color="#68c875"/><stop offset="0.75" stop-color="#58c17a"/><stop offset="0.792" stop-color="#44b67f"/><stop offset="0.833" stop-color="#2fa784"/><stop offset="0.875" stop-color="#259886"/><stop offset="0.917" stop-color="#1d8388"/><stop offset="0.958" stop-color="#176287"/><stop offset="1" stop-color="#183b7c"/></linearGradient><linearGradient id="b84"><stop offset="0" stop-color="#53be7b"/><stop offset="0.0417" stop-color="#5ac27a"/><stop offset="0.0833" stop-color="#60c578"/><stop offset="0.125" stop-color="#67c876"/><stop offset="0.167" stop-color="#6dca74"/><stop offset="0.208" stop-color="#72cb72"/><stop offset="0.25" stop-color="#76cd71"/><stop offset="0.292" stop-color="#79ce70"/><stop offset="0.333" stop-color="#7bce6f"/><stop offset="0.375" stop-color="#7ecf6f"/><stop offset="0.417" stop-color="#80d06e"/><stop offset="0.458" stop-color="#83d16d"/><stop offset="0.5" stop-color="#86d26d"/><stop offset="0.542" stop-color="#88d26c"/><stop offset="0.583" stop-color="#86d26d"/><stop offset="0.625" stop-color="#80d06e"/><stop offset="0.667" stop-color="#77cd71"/><stop offset="0.708" stop-color="#6ac975"/><stop offset="0.75" stop-color="#59c27a"/><stop offset="0.792" stop-color="#45b67f"/><stop offset="0.833" stop-color="#2fa784"/><stop offset="0.875" stop-color="#259786"/><stop offset="0.917" stop-color="#1d8388"/><stop offset="0.958" stop-color="#176387"/><stop offset="1" stop-color="#183b7c"/></linearGradient><linearGradient id="b85"><stop offset="0" stop-color="#53be7b"/><stop offset="0.0417" stop-color="#5ac279"/><stop offset="0.0833" stop-color="#62c677"/><stop offset="0.125" stop-color="#6ac975"/><stop offset="0.167" stop-color="#71cb73"/><stop offset="0.208" stop-color="#76cd71"/><stop offset="0.25" stop-color="#7ace70"/><stop offset="0.292" stop-color="#7dcf6f"/><stop offset="0.333" stop-color="#7fd06e"/><stop offset="0.375" stop-color="#82d06e"/><stop offset="0.417" stop-color="#84d16d"/><stop offset="0.458" stop-color="#87d26c"/><stop offset="0.5" stop-color="#8ad36c"/><stop offset="0.542" stop-color="#8cd36b"/><stop offset="0.583" stop-color="#8ad36c"/><stop offset="0.625" stop-color="#83d16d"/><stop offset="0.667" stop-color="#7ace70"/><stop offset="0.708" stop-color="#6cc974"/><stop offset="0.75" stop-color="#5bc379"/><stop offset="0.792" stop-color="#46b77f"/><stop offset="0.833" stop-color="#2fa684"/><stop offset="0.875" stop-color="#259786"/><stop offset="0.917" stop-color="#1d8488"/><stop offset="0.958" stop-color="#176387"/><stop offset="1" stop-color="#183b7c"/></linearGradient><linearGradient id="b86"><stop offset="0" stop-color="#53be7b"/><stop offset="0.0417" stop-color="#5bc379"/><stop offset="0.0833" stop-color="#63c677"/><stop offset="0.125" stop-color="#6cc974"/><stop offset="0.167" stop-color="#74cc72"/><stop offset="0.208" stop-color="#7ace70"/><stop offset="0.25" stop-color="#7ecf6f"/><stop offset="0.292" stop-color="#81d06e"/><stop offset="0.333" stop-color="#84d16d"/><stop offset="0.375" stop-color="#86d26d"/><stop offset="0.417" stop-color="#88d26c"/><stop offset="0.458" stop-color="#8bd36c"/><stop offset="0.5" stop-color="#8ed46b"/><stop offset="0.542" stop-color="#8fd46b"/><stop offset="0.583" stop-color="#8dd46b"/><stop offset="0.625" stop-color="#86d26d"/><stop offset="0.667" stop-color="#7ccf6f"/><stop offset="0.708" stop-color="#6fca73"/><stop offset="0.75" stop-color="#5cc479"/><stop offset="0.792" stop-color="#46b77f"/><stop offset="0.833" stop-color="#2fa684"/><stop offset="0.875" stop-color="#249786"/><stop offset="0.917" stop-color="#1d8488"/><stop offset="0.958" stop-color="#176387"/><stop offset="1" stop-color="#183b7c"/></linearGradient><linearGradient id="b87"><stop offset="0" stop-color="#53be7b"/><stop offset="0.0417" stop-color="#5bc379"/><stop offset="0.0833" stop-color="#65c776"/><stop offset="0.125" stop-color="#6fca73"/><stop offset="0.167" stop-color="#77cd71"/><stop offset="0.208" stop-color="#7ecf6f"/><stop offset="0.25" stop-color="#82d16e"/><stop offset="0.292" stop-color="#85d16d"/><stop offset="0.333" stop-color="#88d26c"/><stop offset="0.375" stop-color="#8ad36c"/><stop offset="0.417" stop-color="#8cd36b"/><stop offset="0.458" stop-color="#8fd46b"/><stop offset="0.5" stop-color="#92d56a"/><stop offset="0.542" stop-color="#93d56a"/><stop offset="0.583" stop-color="#91d56a"/><stop offset="0.625" stop-color="#89d26c"/><stop offset="0.667" stop-color="#7ecf6e"/><stop offset="0.708" stop-color="#71cb73"/><stop offset="0.75" stop-color="#5ec478"/><stop offset="0.792" stop-color="#47b87f"/><stop offset="0.833" stop-color="#2ea584"/><stop offset="0.875" stop-color="#249686"/><stop offset="0.917" stop-color="#1d8488"/><stop offset="0.958" stop-color="#176487"/><stop offset="1" stop-color="#183a7c"/></linearGradient><linearGradient id="b88"><stop offset="0" stop-color="#53be7b"/><stop offset="0.0417" stop-color="#5cc379"/><stop offset="0.0833" stop-color="#66c776"/><stop offset="0.125" stop-color="#71cb72"/><stop offset="0.167" stop-color="#7ace70"/><stop offset="0.208" stop-color="#81d06e"/><stop offset="0.25" stop-color="#86d26d"/><stop offset="0.292" stop-color="#89d36c"/><stop offset="0.333" stop-color="#8cd36b"/><stop offset="0.375" stop-color="#8ed46b"/><stop offset="0.417" stop-color="#91d46a"/><stop offset="0.458" stop-color="#93d56a"/><stop offset="0.5" stop-color="#95d669"/><stop offset="0.542" stop-color="#97d669"/><stop offset="0.583" stop-color="#94d56a"/><stop offset="0.625" stop-color="#8cd36b"/><stop offset="0.667" stop-color="#81d06e"/><stop offset="0.708" stop-color="#73cc72"/><stop offset="0.75" stop-color="#5fc578"/><stop offset="0.792" stop-color="#48b87e"/><stop offset="0.833" stop-color="#2ea584"/><stop offset="0.875" stop-color="#249686"/><stop offset="0.917" stop-color="#1d8588"/><stop offset="0.958" stop-color="#176487"/><stop offset="1" stop-color="#183a7c"/></linearGradient><linearGradient id="b89"><stop offset="0" stop-color="#53be7b"/><stop offset="0.0417" stop-color="#5cc479"/><stop offset="0.0833" stop-color="#68c875"/><stop offset="0.125" stop-color="#74cc72"/><stop offset="0.167" stop-color="#7ecf6f"/><stop offset="0.208" stop-color="#85d16d"/><stop offset="0.25" stop-color="#8ad36c"/><stop offset="0.292" stop-color="#8ed46b"/><stop offset="0.333" stop-color="#90d46a"/><stop offset="0.375" stop-color="#93d56a"/><stop offset="0.417" stop-color="#95d66a"/><stop offset="0.458" stop-color="#97d669"/><stop offset="0.5" stop-color="#99d769"/><stop offset="0.542" stop-color="#9bd768"/><stop offset="0.583" stop-color="#98d669"/><stop offset="0.625" stop-color="#8fd46b"/><stop offset="0.667" stop-color="#83d16d"/><stop offset="0.708" stop-color="#75cc71"/><stop offset="0.75" stop-color="#61c677"/><stop offset="0.792" stop-color="#49b97e"/><stop offset="0.833" stop-color="#2ea584"/><stop offset="0.875" stop-color="#249686"/><stop offset="0.917" stop-color="#1d8588"/><stop offset="0.958" stop-color="#176387"/><stop offset="1" stop-color="#19397b"/></linearGradient><linearGradient id="b90"><stop offset="0" stop-color="#53be7b"/><stop offset="0.0417" stop-color="#5dc479"/><stop offset="0.0833" stop-color="#69c875"/><stop offset="0.125" stop-color="#76cd71"/><stop offset="0.167" stop-color="#81d06e"/><stop offset="0.208" stop-color="#89d26c"/><stop offset="0.25" stop-color="#8ed46b"/><stop offset="0.292" stop-color="#92d56a"/><stop offset="0.333" stop-color="#94d56a"/><stop offset="0.375" stop-color="#97d669"/><stop offset="0.417" stop-color="#99d769"/><stop offset="0.458" stop-color="#9bd768"/><stop offset="0.5" stop-color="#9dd868"/><stop offset="0.542" stop-color="#9ed867"/><stop offset="0.583" stop-color="#9bd768"/><stop offset="0.625" stop-color="#91d56a"/><stop offset="0.667" stop-color="#86d26d"/><stop offset="0.708" stop-color="#78cd71"/><stop offset="0.75" stop-color="#63c677"/><stop offset="0.792" stop-color="#4bba7e"/><stop offset="0.833" stop-color="#2ea684"/><stop offset="0.875" stop-color="#249686"/><stop offset="0.917" stop-color="#1d8588"/><stop offset="0.958" stop-color="#176387"/><stop offset="1" stop-color="#19387b"/></linearGradient><linearGradient id="b91"><stop offset="0" stop-color="#53be7b"/><stop offset="0.0417" stop-color="#5dc478"/><stop offset="0.0833" stop-color="#6bc974"/><stop offset="0.125" stop-color="#78cd70"/><stop offset="0.167" stop-color="#84d16d"/><stop offset="0.208" stop-color="#8dd46b"/><stop offset="0.25" stop-color="#92d56a"/><stop offset="0.292" stop-color="#96d669"/><stop offset="0.333" stop-color="#98d769"/><stop offset="0.375" stop-color="#9bd768"/><stop offset="0.417" stop-color="#9dd868"/><stop offset="0.458" stop-color="#9fd867"/><stop offset="0.5" stop-color="#a1d967"/><stop offset="0.542" stop-color="#a2d967"/><stop offset="0.583" stop-color="#9ed868"/><stop offset="0.625" stop-color="#94d56a"/><stop offset="0.667" stop-color="#88d26c"/><stop offset="0.708" stop-color="#7ace70"/><stop offset="0.75" stop-color="#65c776"/><stop offset="0.792" stop-color="#4cba7d"/><stop offset="0.833" stop-color="#2fa784"/><stop offset="0.875" stop-color="#259786"/><stop offset="0.917" stop-color="#1d8588"/><stop offset="0.958" stop-color="#176287"/><stop offset="1" stop-color="#19377a"/></linearGradient><linearGradient id="b92"><stop offset="0" stop-color="#53be7b"/><stop offset="0.0417" stop-color="#5ec478"/><stop offset="0.0833" stop-color="#6cc974"/><stop offset="0.125" stop-color="#7ace70"/><stop offset="0.167" stop-color="#87d26c"/><stop offset="0.208" stop-color="#91d46a"/><stop offset="0.25" stop-color="#96d669"/><stop offset="0.292" stop-color="#99d768"/><stop offset="0.333" stop-color="#9cd868"/><stop offset="0.375" stop-color="#a0d967"/><stop offset="0.417" stop-color="#a2d967"/><stop offset="0.458" stop-color="#a4da66"/><stop offset="0.5" stop-color="#a6da66"/><stop offset="0.542" stop-color="#a6da66"/><stop offset="0.583" stop-color="#a1d967"/><stop offset="0.625" stop-color="#96d669"/><stop offset="0.667" stop-color="#8bd36c"/><stop offset="0.708" stop-color="#7ccf6f"/><stop offset="0.75" stop-color="#67c875"/><stop offset="0.792" stop-color="#4dbb7d"/><stop offset="0.833" stop-color="#30a884"/><stop offset="0.875" stop-color="#259886"/><stop offset="0.917" stop-color="#1d8588"/><stop offset="0.958" stop-color="#176286"/><stop offset="1" stop-color="#19357a"/></linearGradient><linearGradient id="b93"><stop offset="0" stop-color="#53be7b"/><stop offset="0.0417" stop-color="#5ec578"/><stop offset="0.0833" stop-color="#6dca74"/><stop offset="0.125" stop-color="#7ccf6f"/><stop offset="0.167" stop-color="#8ad36c"/><stop offset="0.208" stop-color="#94d56a"/><stop offset="0.25" stop-color="#99d768"/><stop offset="0.292" stop-color="#9dd868"/><stop offset="0.333" stop-color="#a0d967"/><stop offset="0.375" stop-color="#a4da66"/><stop offset="0.417" stop-color="#a6da66"/><stop offset="0.458" stop-color="#a9db65"/><stop offset="0.5" stop-color="#abdb65"/><stop offset="0.542" stop-color="#aadb65"/><stop offset="0.583" stop-color="#a3d966"/><stop offset="0.625" stop-color="#99d769"/><stop offset="0.667" stop-color="#8dd46b"/><stop offset="0.708" stop-color="#7ecf6f"/><stop offset="0.75" stop-color="#69c875"/><stop offset="0.792" stop-color="#4ebc7d"/><stop offset="0.833" stop-color="#31a984"/><stop offset="0.875" stop-color="#269886"/><stop offset="0.917" stop-color="#1d8588"/><stop offset="0.958" stop-color="#176186"/><stop offset="1" stop-color="#193479"/></linearGradient><linearGradient id="b94"><stop offset="0" stop-color="#53bf7b"/><stop offset="0.0417" stop-color="#5fc578"/><stop offset="0.0833" stop-color="#6fca73"/><stop offset="0.125" stop-color="#7ecf6f"/><stop offset="0.167" stop-color="#8dd36b"/><stop offset="0.208" stop-color="#98d669"/><stop offset="0.25" stop-color="#9dd868"/><stop offset="0.292" stop-color="#a1d967"/><stop offset="0.333" stop-color="#a4da66"/><stop offset="0.375" stop-color="#a8db65"/><stop offset="0.417" stop-color="#acdb65"/><stop offset="0.458" stop-color="#afdc64"/><stop offset="0.5" stop-color="#b0dc64"/><stop offset="0.542" stop-color="#aedc65"/><stop offset="0.583" stop-color="#a6da66"/><stop offset="0.625" stop-color="#9bd768"/><stop offset="0.667" stop-color="#90d46b"/><stop offset="0.708" stop-color="#81d06e"/><stop offset="0.75" stop-color="#6bc974"/><stop offset="0.792" stop-color="#50bc7c"/><stop offset="0.833" stop-color="#33aa83"/><stop offset="0.875" stop-color="#269986"/><stop offset="0.917" stop-color="#1e8588"/><stop offset="0.958" stop-color="#176086"/><stop offset="1" stop-color="#193379"/></linearGradient><linearGradient id="b95"><stop offset="0" stop-color="#54bf7b"/><stop offset="0.0417" stop-color="#5fc578"/><stop offset="0.0833" stop-color="#70cb73"/><stop offset="0.125" stop-color="#80d06e"/><stop offset="0.167" stop-color="#90d46b"/><stop offset="0.208" stop-color="#9bd768"/><stop offset="0.25" stop-color="#a0d967"/><stop offset="0.292" stop-color="#a4da66"/><stop offset="0.333" stop-color="#a8db65"/><stop offset="0.375" stop-color="#addc65"/><stop offset="0.417" stop-color="#b1dc64"/><stop offset="0.458" stop-color="#b5dd63"/><stop offset="0.5" stop-color="#b6dd63"/><stop offset="0.542" stop-color="#b2dc64"/><stop offset="0.583" stop-color="#a9db65"/><stop offset="0.625" stop-color="#9ed868"/><stop offset="0.667" stop-color="#92d56a"/><stop offset="0.708" stop-color="#83d16d"/><stop offset="0.75" stop-color="#6dca74"/><stop offset="0.792" stop-color="#51bd7c"/><stop offset="0.833" stop-color="#34ab83"/><stop offset="0.875" stop-color="#269a86"/><stop offset="0.917" stop-color="#1e8688"/><stop offset="0.958" stop-color="#175e86"/><stop offset="1" stop-color="#1a3178"/></linearGradient><linearGradient id="b96"><stop offset="0" stop-color="#54bf7b"/><stop offset="0.0417" stop-color="#60c578"/><stop offset="0.0833" stop-color="#71cb73"/><stop offset="0.125" stop-color="#82d16e"/><stop offset="0.167" stop-color="#92d56a"/><stop offset="0.208" stop-color="#9ed868"/><stop offset="0.25" stop-color="#a3d966"/><stop offset="0.292" stop-color="#a8db66"/><stop offset="0.333" stop-color="#addb65"/><stop offset="0.375" stop-color="#b2dc64"/><stop offset="0.417" stop-color="#b7dd63"/><stop offset="0.458" stop-color="#bade63"/><stop offset="0.5" stop-color="#bbde62"/><stop offset="0.542" stop-color="#b7dd63"/><stop offset="0.583" stop-color="#addb65"/><stop offset="0.625" stop-color="#a0d967"/><stop offset="0.667" stop-color="#95d669"/><stop offset="0.708" stop-color="#86d26d"/><stop offset="0.75" stop-color="#6fca73"/><stop offset="0.792" stop-color="#52be7c"/><stop offset="0.833" stop-color="#35ab83"/><stop offset="0.875" stop-color="#279a86"/><stop offset="0.917" stop-color="#1e8688"/><stop offset="0.958" stop-color="#175d85"/><stop offset="1" stop-color="#1a3078"/></linearGradient><linearGradient id="b97"><stop offset="0" stop-color="#55bf7b"/><stop offset="0.0417" stop-color="#61c677"/><stop offset="0.0833" stop-color="#72cb72"/><stop offset="0.125" stop-color="#84d16d"/><stop offset="0.167" stop-color="#95d66a"/><stop offset="0.208" stop-color="#a0d967"/><stop offset="0.25" stop-color="#a6da66"/><stop offset="0.292" stop-color="#acdb65"/><stop offset="0.333" stop-color="#b1dc64"/><stop offset="0.375" stop-color="#b7dd63"/><stop offset="0.417" stop-color="#bcde62"/><stop offset="0.458" stop-color="#c0df62"/><stop offset="0.5" stop-color="#c0df62"/><stop offset="0.542" stop-color="#bbde62"/><stop offset="0.583" stop-color="#b0dc64"/><stop offset="0.625" stop-color="#a3da66"/><stop offset="0.667" stop-color="#98d669"/><stop offset="0.708" stop-color="#89d26c"/><stop offset="0.75" stop-color="#72cb72"/><stop offset="0.792" stop-color="#54bf7b"/><stop offset="0.833" stop-color="#36ac83"/><stop offset="0.875" stop-color="#279a86"/><stop offset="0.917" stop-color="#1e8688"/><stop offset="0.958" stop-color="#175c85"/><stop offset="1" stop-color="#1a2e77"/></linearGradient><linearGradient id="b98"><stop offset="0" stop-color="#55bf7b"/><stop offset="0.0417" stop-color="#61c677"/><stop offset="0.0833" stop-color="#73cc72"/><stop offset="0.125" stop-color="#86d26d"/><stop offset="0.167" stop-color="#97d669"/><stop offset="0.208" stop-color="#a2d967"/><stop offset="0.25" stop-color="#a9db65"/><stop offset="0.292" stop-color="#afdc64"/><stop offset="0.333" stop-color="#b5dd63"/><stop offset="0.375" stop-color="#bbde62"/><stop offset="0.417" stop-color="#c1df61"/><stop offset="0.458" stop-color="#c6e061"/><stop offset="0.5" stop-color="#c5e061"/><stop offset="0.542" stop-color="#bfdf62"/><stop offset="0.583" stop-color="#b4dd64"/><stop offset="0.625" stop-color="#a6da66"/><stop offset="0.667" stop-color="#9ad768"/><stop offset="0.708" stop-color="#8cd36b"/><stop offset="0.75" stop-color="#74cc72"/><stop offset="0.792" stop-color="#55bf7b"/><stop offset="0.833" stop-color="#36ac83"/><stop offset="0.875" stop-color="#279a86"/><stop offset="0.917" stop-color="#1e8688"/><stop offset="0.958" stop-color="#175a85"/><stop offset="1" stop-color="#1a2d77"/></linearGradient><linearGradient id="b99"><stop offset="0" stop-color="#55c07b"/><stop offset="0.0417" stop-color="#62c677"/><stop offset="0.0833" stop-color="#74cc72"/><stop offset="0.125" stop-color="#87d26c"/><stop offset="0.167" stop-color="#99d769"/><stop offset="0.208" stop-color="#a4da66"/><stop offset="0.25" stop-color="#acdb65"/><stop offset="0.292" stop-color="#b2dc64"/><stop offset="0.333" stop-color="#b9de63"/><stop offset="0.375" stop-color="#bfdf62"/><stop offset="0.417" stop-color="#c6e061"/><stop offset="0.458" stop-color="#cbe160"/><stop offset="0.5" stop-color="#cae160"/><stop offset="0.542" stop-color="#c3e061"/><stop offset="0.583" stop-color="#b8de63"/><stop offset="0.625" stop-color="#aadb65"/><stop offset="0.667" stop-color="#9dd868"/><stop offset="0.708" stop-color="#8fd46b"/><stop offset="0.75" stop-color="#76cd71"/><stop offset="0.792" stop-color="#56c07a"/><stop offset="0.833" stop-color="#37ad82"/><stop offset="0.875" stop-color="#269a86"/><stop offset="0.917" stop-color="#1e8688"/><stop offset="0.958" stop-color="#175a85"/><stop offset="1" stop-color="#1a2d77"/></linearGradient><linearGradient id="b100"><stop offset="0" stop-color="#56c07b"/><stop offset="0.0417" stop-color="#63c677"/><stop offset="0.0833" stop-color="#75cc71"/><stop offset="0.125" stop-color="#88d26c"/><stop offset="0.167" stop-color="#9ad768"/><stop offset="0.208" stop-color="#a6da66"/><stop offset="0.25" stop-color="#aedc64"/><stop offset="0.292" stop-color="#b5dd63"/><stop offset="0.333" stop-color="#bcde62"/><stop offset="0.375" stop-color="#c3e061"/><stop offset="0.417" stop-color="#cae160"/><stop offset="0.458" stop-color="#d0e25f"/><stop offset="0.5" stop-color="#cfe25f"/><stop offset="0.542" stop-color="#c7e060"/><stop offset="0.583" stop-color="#bcde62"/><stop offset="0.625" stop-color="#aedc65"/><stop offset="0.667" stop-color="#a0d967"/><stop offset="0.708" stop-color="#92d56a"/><stop offset="0.75" stop-color="#79ce70"/><stop offset="0.792" stop-color="#58c17a"/><stop offset="0.833" stop-color="#37ad82"/><stop offset="0.875" stop-color="#269986"/><stop offset="0.917" stop-color="#1e8788"/><stop offset="0.958" stop-color="#175a85"/><stop offset="1" stop-color="#1a2d77"/></linearGradient><linearGradient id="b101"><stop offset="0" stop-color="#56c07a"/><stop offset="0.0417" stop-color="#63c677"/><stop offset="0.0833" stop-color="#76cd71"/><stop offset="0.125" stop-color="#8ad36c"/><stop offset="0.167" stop-color="#9cd868"/><stop offset="0.208" stop-color="#a8db66"/><stop offset="0.25" stop-color="#b1dc64"/><stop offset="0.292" stop-color="#b8de63"/><stop offset="0.333" stop-color="#c0df62"/><stop offset="0.375" stop-color="#c7e060"/><stop offset="0.417" stop-color="#cfe25f"/><stop offset="0.458" stop-color="#d5e35e"/><stop offset="0.5" stop-color="#d3e35e"/><stop offset="0.542" stop-color="#cbe160"/><stop offset="0.583" stop-color="#c0df62"/><stop offset="0.625" stop-color="#b2dc64"/><stop offset="0.667" stop-color="#a4da66"/><stop offset="0.708" stop-color="#96d669"/><stop offset="0.75" stop-color="#7bce70"/><stop offset="0.792" stop-color="#59c27a"/><stop offset="0.833" stop-color="#38ad82"/><stop offset="0.875" stop-color="#269886"/><stop offset="0.917" stop-color="#1e8788"/><stop offset="0.958" stop-color="#175c85"/><stop offset="1" stop-color="#1a2e77"/></linearGradient><linearGradient id="b102"><stop offset="0" stop-color="#56c07a"/><stop offset="0.0417" stop-color="#64c776"/><stop offset="0.0833" stop-color="#77cd71"/><stop offset="0.125" stop-color="#8bd36c"/><stop offset="0.167" stop-color="#9dd868"/><stop offset="0.208" stop-color="#a9db65"/><stop offset="0.25" stop-color="#b3dd64"/><stop offset="0.292" stop-color="#bbde62"/><stop offset="0.333" stop-color="#c3e061"/><stop offset="0.375" stop-color="#cbe160"/><stop offset="0.417" stop-color="#d3e35e"/><stop offset="0.458" stop-color="#d9e45d"/><stop offset="0.5" stop-color="#d7e45d"/><stop offset="0.542" stop-color="#cfe25f"/><stop offset="0.583" stop-color="#c3e061"/><stop offset="0.625" stop-color="#b6dd63"/><stop offset="0.667" stop-color="#a8da66"/><stop offset="0.708" stop-color="#99d769"/><stop offset="0.75" stop-color="#7dcf6f"/><stop offset="0.792" stop-color="#5bc379"/><stop offset="0.833" stop-color="#38ae82"/><stop offset="0.875" stop-color="#259886"/><stop offset="0.917" stop-color="#1e8788"/><stop offset="0.958" stop-color="#175e86"/><stop offset="1" stop-color="#1a2f77"/></linearGradient><linearGradient id="b103"><stop offset="0" stop-color="#57c07a"/><stop offset="0.0417" stop-color="#65c776"/><stop offset="0.0833" stop-color="#77cd71"/><stop offset="0.125" stop-color="#8bd36c"/><stop offset="0.167" stop-color="#9ed867"/><stop offset="0.208" stop-color="#aadb65"/><stop offset="0.25" stop-color="#b4dd64"/><stop offset="0.292" stop-color="#bddf62"/><stop offset="0.333" stop-color="#c6e061"/><stop offset="0.375" stop-color="#cee25f"/><stop offset="0.417" stop-color="#d6e35e"/><stop offset="0.458" stop-color="#dce55c"/><stop offset="0.5" stop-color="#dbe45d"/><stop offset="0.542" stop-color="#d3e35e"/><stop offset="0.583" stop-color="#c7e060"/><stop offset="0.625" stop-color="#bade63"/><stop offset="0.667" stop-color="#acdb65"/><stop offset="0.708" stop-color="#9cd768"/><stop offset="0.75" stop-color="#7fd06e"/><stop offset="0.792" stop-color="#5cc379"/><stop offset="0.833" stop-color="#39ae82"/><stop offset="0.875" stop-color="#259886"/><stop offset="0.917" stop-color="#1f8888"/><stop offset="0.958" stop-color="#176186"/><stop offset="1" stop-color="#1a3078"/></linearGradient><linearGradient id="b104"><stop offset="0" stop-color="#57c17a"/><stop offset="0.0417" stop-color="#65c776"/><stop offset="0.0833" stop-color="#78cd71"/><stop offset="0.125" stop-color="#8cd36b"/><stop offset="0.167" stop-color="#9fd867"/><stop offset="0.208" stop-color="#abdb65"/><stop offset="0.25" stop-color="#b6dd63"/><stop offset="0.292" stop-color="#bfdf62"/><stop offset="0.333" stop-color="#c9e160"/><stop offset="0.375" stop-color="#d1e25f"/><stop offset="0.417" stop-color="#dae45d"/><stop offset="0.458" stop-color="#dfe55c"/><stop offset="0.5" stop-color="#dee55c"/><stop offset="0.542" stop-color="#d6e35e"/><stop offset="0.583" stop-color="#cae160"/><stop offset="0.625" stop-color="#bddf62"/><stop offset="0.667" stop-color="#b0dc64"/><stop offset="0.708" stop-color="#9ed867"/><stop offset="0.75" stop-color="#82d06e"/><stop offset="0.792" stop-color="#5ec478"/><stop offset="0.833" stop-color="#3bb081"/><stop offset="0.875" stop-color="#269a86"/><stop offset="0.917" stop-color="#1f8a88"/><stop offset="0.958" stop-color="#176387"/><stop offset="1" stop-color="#193179"/></linearGradient><linearGradient id="b105"><stop offset="0" stop-color="#58c17a"/><stop offset="0.0417" stop-color="#66c776"/><stop offset="0.0833" stop-color="#78cd70"/><stop offset="0.125" stop-color="#8cd36b"/><stop offset="0.167" stop-color="#9ed867"/><stop offset="0.208" stop-color="#abdb65"/><stop offset="0.25" stop-color="#b7dd63"/><stop offset="0.292" stop-color="#c1df61"/><stop offset="0.333" stop-color="#cbe160"/><stop offset="0.375" stop-color="#d4e35e"/><stop offset="0.417" stop-color="#dde55c"/><stop offset="0.458" stop-color="#e2e65b"/><stop offset="0.5" stop-color="#e1e65b"/><stop offset="0.542" stop-color="#d9e45d"/><stop offset="0.583" stop-color="#cee25f"/><stop offset="0.625" stop-color="#c1df61"/><stop offset="0.667" stop-color="#b3dd64"/><stop offset="0.708" stop-color="#a1d967"/><stop offset="0.75" stop-color="#84d16d"/><stop offset="0.792" stop-color="#5fc578"/><stop offset="0.833" stop-color="#3db181"/><stop offset="0.875" stop-color="#289c85"/><stop offset="0.917" stop-color="#208c87"/><stop offset="0.958" stop-color="#176687"/><stop offset="1" stop-color="#193379"/></linearGradient><linearGradient id="b106"><stop offset="0" stop-color="#58c17a"/><stop offset="0.0417" stop-color="#66c776"/><stop offset="0.0833" stop-color="#79ce70"/><stop offset="0.125" stop-color="#8cd36b"/><stop offset="0.167" stop-color="#9ed868"/><stop offset="0.208" stop-color="#abdb65"/><stop offset="0.25" stop-color="#b8de63"/><stop offset="0.292" stop-color="#c3e061"/><stop offset="0.333" stop-color="#cde15f"/><stop offset="0.375" stop-color="#d7e35e"/><stop offset="0.417" stop-color="#dfe55c"/><stop offset="0.458" stop-color="#e5e65b"/><stop offset="0.5" stop-color="#e4e65b"/><stop offset="0.542" stop-color="#dce55c"/><stop offset="0.583" stop-color="#d1e25f"/><stop offset="0.625" stop-color="#c4e061"/><stop offset="0.667" stop-color="#b6dd63"/><stop offset="0.708" stop-color="#a3d966"/><stop offset="0.75" stop-color="#86d26d"/><stop offset="0.792" stop-color="#61c677"/><stop offset="0.833" stop-color="#3fb281"/><stop offset="0.875" stop-color="#299e85"/><stop offset="0.917" stop-color="#218d87"/><stop offset="0.958" stop-color="#186887"/><stop offset="1" stop-color="#19357a"/></linearGradient><linearGradient id="b107"><stop offset="0" stop-color="#58c17a"/><stop offset="0.0417" stop-color="#67c876"/><stop offset="0.0833" stop-color="#79ce70"/><stop offset="0.125" stop-color="#8cd36b"/><stop offset="0.167" stop-color="#9dd868"/><stop offset="0.208" stop-color="#abdb65"/><stop offset="0.25" stop-color="#b9de63"/><stop offset="0.292" stop-color="#c5e061"/><stop offset="0.333" stop-color="#cfe25f"/><stop offset="0.375" stop-color="#d9e45d"/><stop offset="0.417" stop-color="#e2e65b"/><stop offset="0.458" stop-color="#e7e75a"/><stop offset="0.5" stop-color="#e6e75a"/><stop offset="0.542" stop-color="#dfe55c"/><stop offset="0.583" stop-color="#d4e35e"/><stop offset="0.625" stop-color="#c7e060"/><stop offset="0.667" stop-color="#b9de63"/><stop offset="0.708" stop-color="#a5da66"/><stop offset="0.75" stop-color="#87d26c"/><stop offset="0.792" stop-color="#63c677"/><stop offset="0.833" stop-color="#41b480"/><stop offset="0.875" stop-color="#2ba085"/><stop offset="0.917" stop-color="#218f87"/><stop offset="0.958" stop-color="#186a87"/><stop offset="1" stop-color="#19377b"/></linearGradient></defs>
<clipPath id="bc"><rect x="685.7" y="22.1" width="321.0" height="321.7"/></clipPath><g clip-path="url(#bc)" shape-rendering="crispEdges">
<rect x="685.7" y="22" width="321.0" height="3" fill="url(#b0)"/>
<rect x="685.7" y="25" width="321.0" height="3" fill="url(#b1)"/>
<rect x="685.7" y="28" width="321.0" height="3" fill="url(#b2)"/>
<rect x="685.7" y="31" width="321.0" height="3" fill="url(#b3)"/>
<rect x="685.7" y="34" width="321.0" height="2" fill="url(#b4)"/>
<rect x="685.7" y="36" width="321.0" height="3" fill="url(#b5)"/>
<rect x="685.7" y="39" width="321.0" height="3" fill="url(#b6)"/>
<rect x="685.7" y="42" width="321.0" height="3" fill="url(#b7)"/>
<rect x="685.7" y="45" width="321.0" height="3" fill="url(#b8)"/>
<rect x="685.7" y="48" width="321.0" height="3" fill="url(#b9)"/>
<rect x="685.7" y="51" width="321.0" height="3" fill="url(#b10)"/>
<rect x="685.7" y="54" width="321.0" height="3" fill="url(#b11)"/>
<rect x="685.7" y="57" width="321.0" height="3" fill="url(#b12)"/>
<rect x="685.7" y="60" width="321.0" height="3" fill="url(#b13)"/>
<rect x="685.7" y="63" width="321.0" height="3" fill="url(#b14)"/>
<rect x="685.7" y="66" width="321.0" height="3" fill="url(#b15)"/>
<rect x="685.7" y="69" width="321.0" height="3" fill="url(#b16)"/>
<rect x="685.7" y="72" width="321.0" height="3" fill="url(#b17)"/>
<rect x="685.7" y="75" width="321.0" height="3" fill="url(#b18)"/>
<rect x="685.7" y="78" width="321.0" height="3" fill="url(#b19)"/>
<rect x="685.7" y="81" width="321.0" height="3" fill="url(#b20)"/>
<rect x="685.7" y="84" width="321.0" height="3" fill="url(#b21)"/>
<rect x="685.7" y="87" width="321.0" height="3" fill="url(#b22)"/>
<rect x="685.7" y="90" width="321.0" height="3" fill="url(#b23)"/>
<rect x="685.7" y="93" width="321.0" height="3" fill="url(#b24)"/>
<rect x="685.7" y="96" width="321.0" height="3" fill="url(#b25)"/>
<rect x="685.7" y="99" width="321.0" height="3" fill="url(#b26)"/>
<rect x="685.7" y="102" width="321.0" height="3" fill="url(#b27)"/>
<rect x="685.7" y="105" width="321.0" height="3" fill="url(#b28)"/>
<rect x="685.7" y="108" width="321.0" height="3" fill="url(#b29)"/>
<rect x="685.7" y="111" width="321.0" height="3" fill="url(#b30)"/>
<rect x="685.7" y="114" width="321.0" height="3" fill="url(#b31)"/>
<rect x="685.7" y="117" width="321.0" height="3" fill="url(#b32)"/>
<rect x="685.7" y="120" width="321.0" height="3" fill="url(#b33)"/>
<rect x="685.7" y="123" width="321.0" height="3" fill="url(#b34)"/>
<rect x="685.7" y="126" width="321.0" height="3" fill="url(#b35)"/>
<rect x="685.7" y="129" width="321.0" height="3" fill="url(#b36)"/>
<rect x="685.7" y="132" width="321.0" height="3" fill="url(#b37)"/>
<rect x="685.7" y="135" width="321.0" height="3" fill="url(#b38)"/>
<rect x="685.7" y="138" width="321.0" height="3" fill="url(#b39)"/>
<rect x="685.7" y="141" width="321.0" height="3" fill="url(#b40)"/>
<rect x="685.7" y="144" width="321.0" height="3" fill="url(#b41)"/>
<rect x="685.7" y="147" width="321.0" height="3" fill="url(#b42)"/>
<rect x="685.7" y="150" width="321.0" height="3" fill="url(#b43)"/>
<rect x="685.7" y="153" width="321.0" height="3" fill="url(#b44)"/>
<rect x="685.7" y="156" width="321.0" height="3" fill="url(#b45)"/>
<rect x="685.7" y="159" width="321.0" height="3" fill="url(#b46)"/>
<rect x="685.7" y="162" width="321.0" height="3" fill="url(#b47)"/>
<rect x="685.7" y="165" width="321.0" height="3" fill="url(#b48)"/>
<rect x="685.7" y="168" width="321.0" height="3" fill="url(#b49)"/>
<rect x="685.7" y="171" width="321.0" height="3" fill="url(#b50)"/>
<rect x="685.7" y="174" width="321.0" height="2" fill="url(#b51)"/>
<rect x="685.7" y="176" width="321.0" height="3" fill="url(#b52)"/>
<rect x="685.7" y="179" width="321.0" height="3" fill="url(#b53)"/>
<rect x="685.7" y="182" width="321.0" height="3" fill="url(#b54)"/>
<rect x="685.7" y="185" width="321.0" height="3" fill="url(#b55)"/>
<rect x="685.7" y="188" width="321.0" height="3" fill="url(#b56)"/>
<rect x="685.7" y="191" width="321.0" height="3" fill="url(#b57)"/>
<rect x="685.7" y="194" width="321.0" height="3" fill="url(#b58)"/>
<rect x="685.7" y="197" width="321.0" height="3" fill="url(#b59)"/>
<rect x="685.7" y="200" width="321.0" height="3" fill="url(#b60)"/>
<rect x="685.7" y="203" width="321.0" height="3" fill="url(#b61)"/>
<rect x="685.7" y="206" width="321.0" height="3" fill="url(#b62)"/>
<rect x="685.7" y="209" width="321.0" height="3" fill="url(#b63)"/>
<rect x="685.7" y="212" width="321.0" height="3" fill="url(#b64)"/>
<rect x="685.7" y="215" width="321.0" height="3" fill="url(#b65)"/>
<rect x="685.7" y="218" width="321.0" height="3" fill="url(#b66)"/>
<rect x="685.7" y="221" width="321.0" height="3" fill="url(#b67)"/>
<rect x="685.7" y="224" width="321.0" height="3" fill="url(#b68)"/>
<rect x="685.7" y="227" width="321.0" height="3" fill="url(#b69)"/>
<rect x="685.7" y="230" width="321.0" height="3" fill="url(#b70)"/>
<rect x="685.7" y="233" width="321.0" height="3" fill="url(#b71)"/>
<rect x="685.7" y="236" width="321.0" height="3" fill="url(#b72)"/>
<rect x="685.7" y="239" width="321.0" height="3" fill="url(#b73)"/>
<rect x="685.7" y="242" width="321.0" height="3" fill="url(#b74)"/>
<rect x="685.7" y="245" width="321.0" height="3" fill="url(#b75)"/>
<rect x="685.7" y="248" width="321.0" height="3" fill="url(#b76)"/>
<rect x="685.7" y="251" width="321.0" height="3" fill="url(#b77)"/>
<rect x="685.7" y="254" width="321.0" height="3" fill="url(#b78)"/>
<rect x="685.7" y="257" width="321.0" height="3" fill="url(#b79)"/>
<rect x="685.7" y="260" width="321.0" height="3" fill="url(#b80)"/>
<rect x="685.7" y="263" width="321.0" height="3" fill="url(#b81)"/>
<rect x="685.7" y="266" width="321.0" height="3" fill="url(#b82)"/>
<rect x="685.7" y="269" width="321.0" height="3" fill="url(#b83)"/>
<rect x="685.7" y="272" width="321.0" height="3" fill="url(#b84)"/>
<rect x="685.7" y="275" width="321.0" height="3" fill="url(#b85)"/>
<rect x="685.7" y="278" width="321.0" height="3" fill="url(#b86)"/>
<rect x="685.7" y="281" width="321.0" height="3" fill="url(#b87)"/>
<rect x="685.7" y="284" width="321.0" height="3" fill="url(#b88)"/>
<rect x="685.7" y="287" width="321.0" height="3" fill="url(#b89)"/>
<rect x="685.7" y="290" width="321.0" height="3" fill="url(#b90)"/>
<rect x="685.7" y="293" width="321.0" height="3" fill="url(#b91)"/>
<rect x="685.7" y="296" width="321.0" height="3" fill="url(#b92)"/>
<rect x="685.7" y="299" width="321.0" height="3" fill="url(#b93)"/>
<rect x="685.7" y="302" width="321.0" height="3" fill="url(#b94)"/>
<rect x="685.7" y="305" width="321.0" height="3" fill="url(#b95)"/>
<rect x="685.7" y="308" width="321.0" height="3" fill="url(#b96)"/>
<rect x="685.7" y="311" width="321.0" height="3" fill="url(#b97)"/>
<rect x="685.7" y="314" width="321.0" height="2" fill="url(#b98)"/>
<rect x="685.7" y="316" width="321.0" height="3" fill="url(#b99)"/>
<rect x="685.7" y="319" width="321.0" height="3" fill="url(#b100)"/>
<rect x="685.7" y="322" width="321.0" height="3" fill="url(#b101)"/>
<rect x="685.7" y="325" width="321.0" height="3" fill="url(#b102)"/>
<rect x="685.7" y="328" width="321.0" height="3" fill="url(#b103)"/>
<rect x="685.7" y="331" width="321.0" height="3" fill="url(#b104)"/>
<rect x="685.7" y="334" width="321.0" height="3" fill="url(#b105)"/>
<rect x="685.7" y="337" width="321.0" height="3" fill="url(#b106)"/>
<rect x="685.7" y="340" width="321.0" height="4" fill="url(#b107)"/>
</g>
<g fill="none" stroke="#000" stroke-opacity="0.34" stroke-width="1.3" stroke-linejoin="round"><path d="M802.9 22.0 L789.5 37.7 L777.7 54.0 L765.8 68.8 L756.4 80.6 L748.0 90.5 L739.9 99.3 L724.0 112.3 L704.0 124.3 L685.8 133.0"/><path d="M1006.6 45.1 L986.4 51.0 L976.0 59.9 L959.8 74.7 L937.6 88.0 L916.8 102.8 L899.1 116.2 L887.2 125.0 L872.4 136.8 L857.6 145.7 L833.9 154.6 L810.3 165.0 L783.6 173.8 L754.0 181.2 L724.4 185.7 L685.8 189.5"/><path d="M1006.6 138.3 L993.8 145.7 L990.8 157.6 L982.0 178.3 L980.5 196.0 L979.5 214.0 L976.0 238.0 L976.0 264.6 L977.5 294.2 L979.0 329.7 L983.4 343.7"/><path d="M685.8 245.4 L709.6 243.9 L739.2 242.4 L768.8 239.4 L798.4 233.0 L822.1 227.1 L845.8 219.1 L869.5 212.3 L881.3 208.5 L899.1 202.6 L907.9 199.6 L916.8 202.0 L922.7 206.4 L924.2 211.4 L931.6 219.7 L934.0 228.6 L931.6 238.0 L930.1 249.8 L934.6 264.6 L939.0 288.3 L943.5 312.0 L946.4 329.7 L949.4 343.7"/><path d="M745.1 343.7 L742.8 332.7 L748.1 320.8 L757.0 312.0 L777.7 305.5 L804.3 300.1 L842.8 295.7 L860.6 295.1 L869.5 297.2 L881.3 307.5 L896.1 320.8 L907.9 329.7 L912.4 337.1 L914.8 343.7"/></g>
<g class="cl" clip-path="url(#bc)" font-family="'Liberation Sans',Arial,sans-serif" font-size="20" fill="#000"><g transform="translate(756.4 80.6) rotate(-58)"><rect x="-14.2" y="-11.2" width="28.5" height="22.5" fill="#fff" fill-opacity="0.5"/><text x="0" y="7.1" text-anchor="middle">0.1</text></g><g transform="translate(857.6 142.2) rotate(-15)"><rect x="-19.8" y="-11.2" width="39.5" height="22.5" fill="#fff" fill-opacity="0.5"/><text x="0" y="7.1" text-anchor="middle">0.15</text></g><g transform="translate(979.9 213.8) rotate(-80)"><rect x="-19.8" y="-11.2" width="39.5" height="22.5" fill="#fff" fill-opacity="0.5"/><text x="0" y="7.1" text-anchor="middle">0.15</text></g><g transform="translate(892.5 205.5) rotate(-18)"><rect x="-14.2" y="-11.2" width="28.5" height="22.5" fill="#fff" fill-opacity="0.5"/><text x="0" y="7.1" text-anchor="middle">0.2</text></g><g transform="translate(823.6 297.8) rotate(-5)"><rect x="-19.8" y="-11.2" width="39.5" height="22.5" fill="#fff" fill-opacity="0.5"/><text x="0" y="7.1" text-anchor="middle">0.25</text></g></g>
</g>
<rect x="105.5" y="16.5" width="333.2" height="333.9" fill="none" stroke="#333" stroke-width="0.9"/><path d="M112.0 350.4v-5.5M112.0 16.5v5.5M128.0 350.4v-3.3M128.0 16.5v3.3M144.1 350.4v-3.3M144.1 16.5v3.3M160.1 350.4v-3.3M160.1 16.5v3.3M176.1 350.4v-5.5M176.1 16.5v5.5M192.1 350.4v-3.3M192.1 16.5v3.3M208.1 350.4v-3.3M208.1 16.5v3.3M224.2 350.4v-3.3M224.2 16.5v3.3M240.2 350.4v-5.5M240.2 16.5v5.5M256.2 350.4v-3.3M256.2 16.5v3.3M272.2 350.4v-3.3M272.2 16.5v3.3M288.3 350.4v-3.3M288.3 16.5v3.3M304.3 350.4v-5.5M304.3 16.5v5.5M320.3 350.4v-3.3M320.3 16.5v3.3M336.3 350.4v-3.3M336.3 16.5v3.3M352.4 350.4v-3.3M352.4 16.5v3.3M368.4 350.4v-5.5M368.4 16.5v5.5M384.4 350.4v-3.3M384.4 16.5v3.3M400.4 350.4v-3.3M400.4 16.5v3.3M416.5 350.4v-3.3M416.5 16.5v3.3M432.5 350.4v-5.5M432.5 16.5v5.5M105.5 284.3h5.5M438.7 284.3h-5.5M105.5 197.3h5.5M438.7 197.3h-5.5M105.5 110.3h5.5M438.7 110.3h-5.5M105.5 23.3h5.5M438.7 23.3h-5.5M105.5 336.5h3.3M438.7 336.5h-3.3M105.5 319.1h3.3M438.7 319.1h-3.3M105.5 301.7h3.3M438.7 301.7h-3.3M105.5 266.9h3.3M438.7 266.9h-3.3M105.5 249.5h3.3M438.7 249.5h-3.3M105.5 232.1h3.3M438.7 232.1h-3.3M105.5 214.7h3.3M438.7 214.7h-3.3M105.5 179.9h3.3M438.7 179.9h-3.3M105.5 162.5h3.3M438.7 162.5h-3.3M105.5 145.1h3.3M438.7 145.1h-3.3M105.5 127.7h3.3M438.7 127.7h-3.3M105.5 92.9h3.3M438.7 92.9h-3.3M105.5 75.5h3.3M438.7 75.5h-3.3M105.5 58.1h3.3M438.7 58.1h-3.3M105.5 40.7h3.3M438.7 40.7h-3.3" stroke="#777" stroke-width="0.9" fill="none"/>
<rect x="679.5" y="16.5" width="333.5" height="333.9" fill="none" stroke="#333" stroke-width="0.9"/><path d="M686.5 350.4v-5.5M686.5 16.5v5.5M702.5 350.4v-3.3M702.5 16.5v3.3M718.5 350.4v-3.3M718.5 16.5v3.3M734.5 350.4v-3.3M734.5 16.5v3.3M750.5 350.4v-5.5M750.5 16.5v5.5M766.5 350.4v-3.3M766.5 16.5v3.3M782.5 350.4v-3.3M782.5 16.5v3.3M798.5 350.4v-3.3M798.5 16.5v3.3M814.5 350.4v-5.5M814.5 16.5v5.5M830.5 350.4v-3.3M830.5 16.5v3.3M846.5 350.4v-3.3M846.5 16.5v3.3M862.5 350.4v-3.3M862.5 16.5v3.3M878.5 350.4v-5.5M878.5 16.5v5.5M894.5 350.4v-3.3M894.5 16.5v3.3M910.5 350.4v-3.3M910.5 16.5v3.3M926.5 350.4v-3.3M926.5 16.5v3.3M942.5 350.4v-5.5M942.5 16.5v5.5M958.5 350.4v-3.3M958.5 16.5v3.3M974.5 350.4v-3.3M974.5 16.5v3.3M990.5 350.4v-3.3M990.5 16.5v3.3M1006.5 350.4v-5.5M1006.5 16.5v5.5M679.5 297.8h5.5M1013.0 297.8h-5.5M679.5 206.2h5.5M1013.0 206.2h-5.5M679.5 114.6h5.5M1013.0 114.6h-5.5M679.5 23.0h5.5M1013.0 23.0h-5.5M679.5 334.4h3.3M1013.0 334.4h-3.3M679.5 316.1h3.3M1013.0 316.1h-3.3M679.5 279.5h3.3M1013.0 279.5h-3.3M679.5 261.2h3.3M1013.0 261.2h-3.3M679.5 242.8h3.3M1013.0 242.8h-3.3M679.5 224.5h3.3M1013.0 224.5h-3.3M679.5 187.9h3.3M1013.0 187.9h-3.3M679.5 169.6h3.3M1013.0 169.6h-3.3M679.5 151.2h3.3M1013.0 151.2h-3.3M679.5 132.9h3.3M1013.0 132.9h-3.3M679.5 96.3h3.3M1013.0 96.3h-3.3M679.5 78.0h3.3M1013.0 78.0h-3.3M679.5 59.6h3.3M1013.0 59.6h-3.3M679.5 41.3h3.3M1013.0 41.3h-3.3" stroke="#777" stroke-width="0.9" fill="none"/>
<g font-size="31">
<text x="100.3" y="294.8" text-anchor="end">1.5</text>
<text x="100.3" y="207.8" text-anchor="end">2.0</text>
<text x="100.3" y="120.8" text-anchor="end">2.5</text>
<text x="100.3" y="33.8" text-anchor="end">3.0</text>
<text x="112.6" y="383.4" text-anchor="middle">1.0</text>
<text x="176.6" y="383.4" text-anchor="middle">1.2</text>
<text x="240.6" y="383.4" text-anchor="middle">1.4</text>
<text x="304.6" y="383.4" text-anchor="middle">1.6</text>
<text x="368.6" y="383.4" text-anchor="middle">1.8</text>
<text x="432.6" y="383.4" text-anchor="middle">2.0</text>
<text x="674.3" y="308.3" text-anchor="end">1.5</text>
<text x="674.3" y="216.7" text-anchor="end">2.0</text>
<text x="674.3" y="125.1" text-anchor="end">2.5</text>
<text x="674.3" y="33.5" text-anchor="end">3.0</text>
<text x="686.6" y="383.4" text-anchor="middle">1.0</text>
<text x="750.6" y="383.4" text-anchor="middle">1.2</text>
<text x="814.6" y="383.4" text-anchor="middle">1.4</text>
<text x="878.6" y="383.4" text-anchor="middle">1.6</text>
<text x="942.6" y="383.4" text-anchor="middle">1.8</text>
<text x="1006.6" y="383.4" text-anchor="middle">2.0</text>
</g>
<text class="pl" transform="translate(-2.4 38) scale(0.8 1)" font-size="58">(</text>
<text class="pl" transform="translate(14.0 36.8) scale(1.1 1)" font-size="51">a</text>
<text class="pl" transform="translate(39.5 38) scale(0.8 1)" font-size="58">)</text>
<text class="pl" transform="translate(571.6 38) scale(0.8 1)" font-size="58">(</text>
<text class="pl" transform="translate(588.7 36.8) scale(1.1 1)" font-size="51">b</text>
<text class="pl" transform="translate(616.8 38) scale(0.8 1)" font-size="58">)</text>
<text x="246.5" y="429" font-size="32"><tspan font-style="italic">α</tspan><tspan font-size="23.5" dx="1" dy="5.4">AB</tspan></text>
<g font-size="32.5" font-style="italic">
<text transform="translate(43.3 237.5) rotate(-90) scale(0.89 1)">V</text>
<text transform="translate(48.3 220.7) rotate(-90)" font-size="22">d</text>
<text transform="translate(45.5 208.3) rotate(-90) scale(0.8 1)" font-size="37">/</text>
<text transform="translate(43.3 198.6) rotate(-90)">ħ<tspan dx="0.7">v</tspan><tspan font-size="22" dy="5" dx="0.7">F</tspan><tspan dy="-5" dx="0.7">k</tspan><tspan font-size="22" dy="5" dx="0.6">θ</tspan></text>
</g>
<text x="820.5" y="429" font-size="32"><tspan font-style="italic">α</tspan><tspan font-size="23.5" dx="1" dy="5.4">AB</tspan></text>
<g font-size="32.5" font-style="italic">
<text transform="translate(617.3 237.5) rotate(-90) scale(0.89 1)">V</text>
<text transform="translate(622.3 220.7) rotate(-90)" font-size="22">d</text>
<text transform="translate(619.5 208.3) rotate(-90) scale(0.8 1)" font-size="37">/</text>
<text transform="translate(617.3 198.6) rotate(-90)">ħ<tspan dx="0.7">v</tspan><tspan font-size="22" dy="5" dx="0.7">F</tspan><tspan dy="-5" dx="0.7">k</tspan><tspan font-size="22" dy="5" dx="0.6">θ</tspan></text>
</g>
<g font-size="31">
<defs><linearGradient id="cbA" x1="0" y1="0" x2="0" y2="1"><stop offset="0" stop-color="#e8e75a"/><stop offset="0.04348" stop-color="#d1e25f"/><stop offset="0.08696" stop-color="#bcde62"/><stop offset="0.1304" stop-color="#a7da66"/><stop offset="0.1739" stop-color="#94d56a"/><stop offset="0.2174" stop-color="#82d16e"/><stop offset="0.2609" stop-color="#71cb72"/><stop offset="0.3043" stop-color="#61c677"/><stop offset="0.3478" stop-color="#54bf7b"/><stop offset="0.3913" stop-color="#48b87f"/><stop offset="0.4348" stop-color="#3cb081"/><stop offset="0.4783" stop-color="#31a984"/><stop offset="0.5217" stop-color="#2ba085"/><stop offset="0.5652" stop-color="#259786"/><stop offset="0.6087" stop-color="#208c87"/><stop offset="0.6522" stop-color="#1c8189"/><stop offset="0.6957" stop-color="#197488"/><stop offset="0.7391" stop-color="#176687"/><stop offset="0.7826" stop-color="#175884"/><stop offset="0.8261" stop-color="#174981"/><stop offset="0.8696" stop-color="#19397b"/><stop offset="0.913" stop-color="#1b2875"/><stop offset="0.9565" stop-color="#1d1670"/><stop offset="1" stop-color="#1f046c"/></linearGradient></defs><rect x="473.3" y="126.4" width="19.8" height="260.5" fill="url(#cbA)"/><path d="M493.1 378.0h5.0M493.1 366.6h5.0M493.1 355.2h5.0M493.1 343.8h6.0M493.1 332.4h5.0M493.1 321.0h5.0M493.1 309.6h5.0M493.1 298.2h6.0M493.1 286.8h5.0M493.1 275.4h5.0M493.1 263.9h5.0M493.1 252.5h6.0M493.1 241.1h5.0M493.1 229.7h5.0M493.1 218.3h5.0M493.1 206.9h6.0M493.1 195.5h5.0M493.1 184.1h5.0M493.1 172.7h5.0M493.1 161.3h6.0M493.1 149.9h5.0M493.1 138.5h5.0M493.1 127.1h5.0" stroke="#444" stroke-width="1" fill="none"/><text x="504.0" y="354.0">2</text><text x="504.0" y="308.4">4</text><text x="504.0" y="262.7">6</text><text x="504.0" y="217.1">8</text><text x="504.0" y="171.5">10</text>
<defs><linearGradient id="cbB" x1="0" y1="0" x2="0" y2="1"><stop offset="0" stop-color="#e8e75a"/><stop offset="0.04348" stop-color="#d1e25f"/><stop offset="0.08696" stop-color="#bcde62"/><stop offset="0.1304" stop-color="#a7da66"/><stop offset="0.1739" stop-color="#94d56a"/><stop offset="0.2174" stop-color="#82d16e"/><stop offset="0.2609" stop-color="#71cb72"/><stop offset="0.3043" stop-color="#61c677"/><stop offset="0.3478" stop-color="#54bf7b"/><stop offset="0.3913" stop-color="#48b87f"/><stop offset="0.4348" stop-color="#3cb081"/><stop offset="0.4783" stop-color="#31a984"/><stop offset="0.5217" stop-color="#2ba085"/><stop offset="0.5652" stop-color="#259786"/><stop offset="0.6087" stop-color="#208c87"/><stop offset="0.6522" stop-color="#1c8189"/><stop offset="0.6957" stop-color="#197488"/><stop offset="0.7391" stop-color="#176687"/><stop offset="0.7826" stop-color="#175884"/><stop offset="0.8261" stop-color="#174981"/><stop offset="0.8696" stop-color="#19397b"/><stop offset="0.913" stop-color="#1b2875"/><stop offset="0.9565" stop-color="#1d1670"/><stop offset="1" stop-color="#1f046c"/></linearGradient></defs><rect x="1041.0" y="101.7" width="19.3" height="260.2" fill="url(#cbB)"/><path d="M1060.3 350.6h5.0M1060.3 338.1h5.0M1060.3 325.6h6.0M1060.3 313.1h5.0M1060.3 300.6h5.0M1060.3 288.1h5.0M1060.3 275.6h5.0M1060.3 263.1h6.0M1060.3 250.6h5.0M1060.3 238.1h5.0M1060.3 225.5h5.0M1060.3 213.0h5.0M1060.3 200.5h6.0M1060.3 188.0h5.0M1060.3 175.5h5.0M1060.3 163.0h5.0M1060.3 150.5h5.0M1060.3 138.0h6.0M1060.3 125.5h5.0M1060.3 113.0h5.0" stroke="#444" stroke-width="1" fill="none"/><text x="1070.5" y="335.8">0.10</text><text x="1070.5" y="273.3">0.15</text><text x="1070.5" y="210.7">0.20</text><text x="1070.5" y="148.2">0.25</text>
</g>
<text transform="translate(460.3 55.7) scale(1.16 1)" font-size="28">Δ</text>
<text x="480.4" y="61.7" font-size="22" font-style="italic">a</text>
<text x="460.5" y="100.5" font-size="31.5">(meV)</text>
<text x="1041" y="75" font-size="31.5"><tspan font-style="italic">v</tspan><tspan font-size="22" dy="5.5">dw</tspan><tspan dy="-2.5" font-size="36">/</tspan><tspan dy="-3" font-size="1"> </tspan><tspan font-style="italic">v</tspan><tspan font-style="italic" font-size="22" dy="5.5">F</tspan></text>
</svg></body></html>
